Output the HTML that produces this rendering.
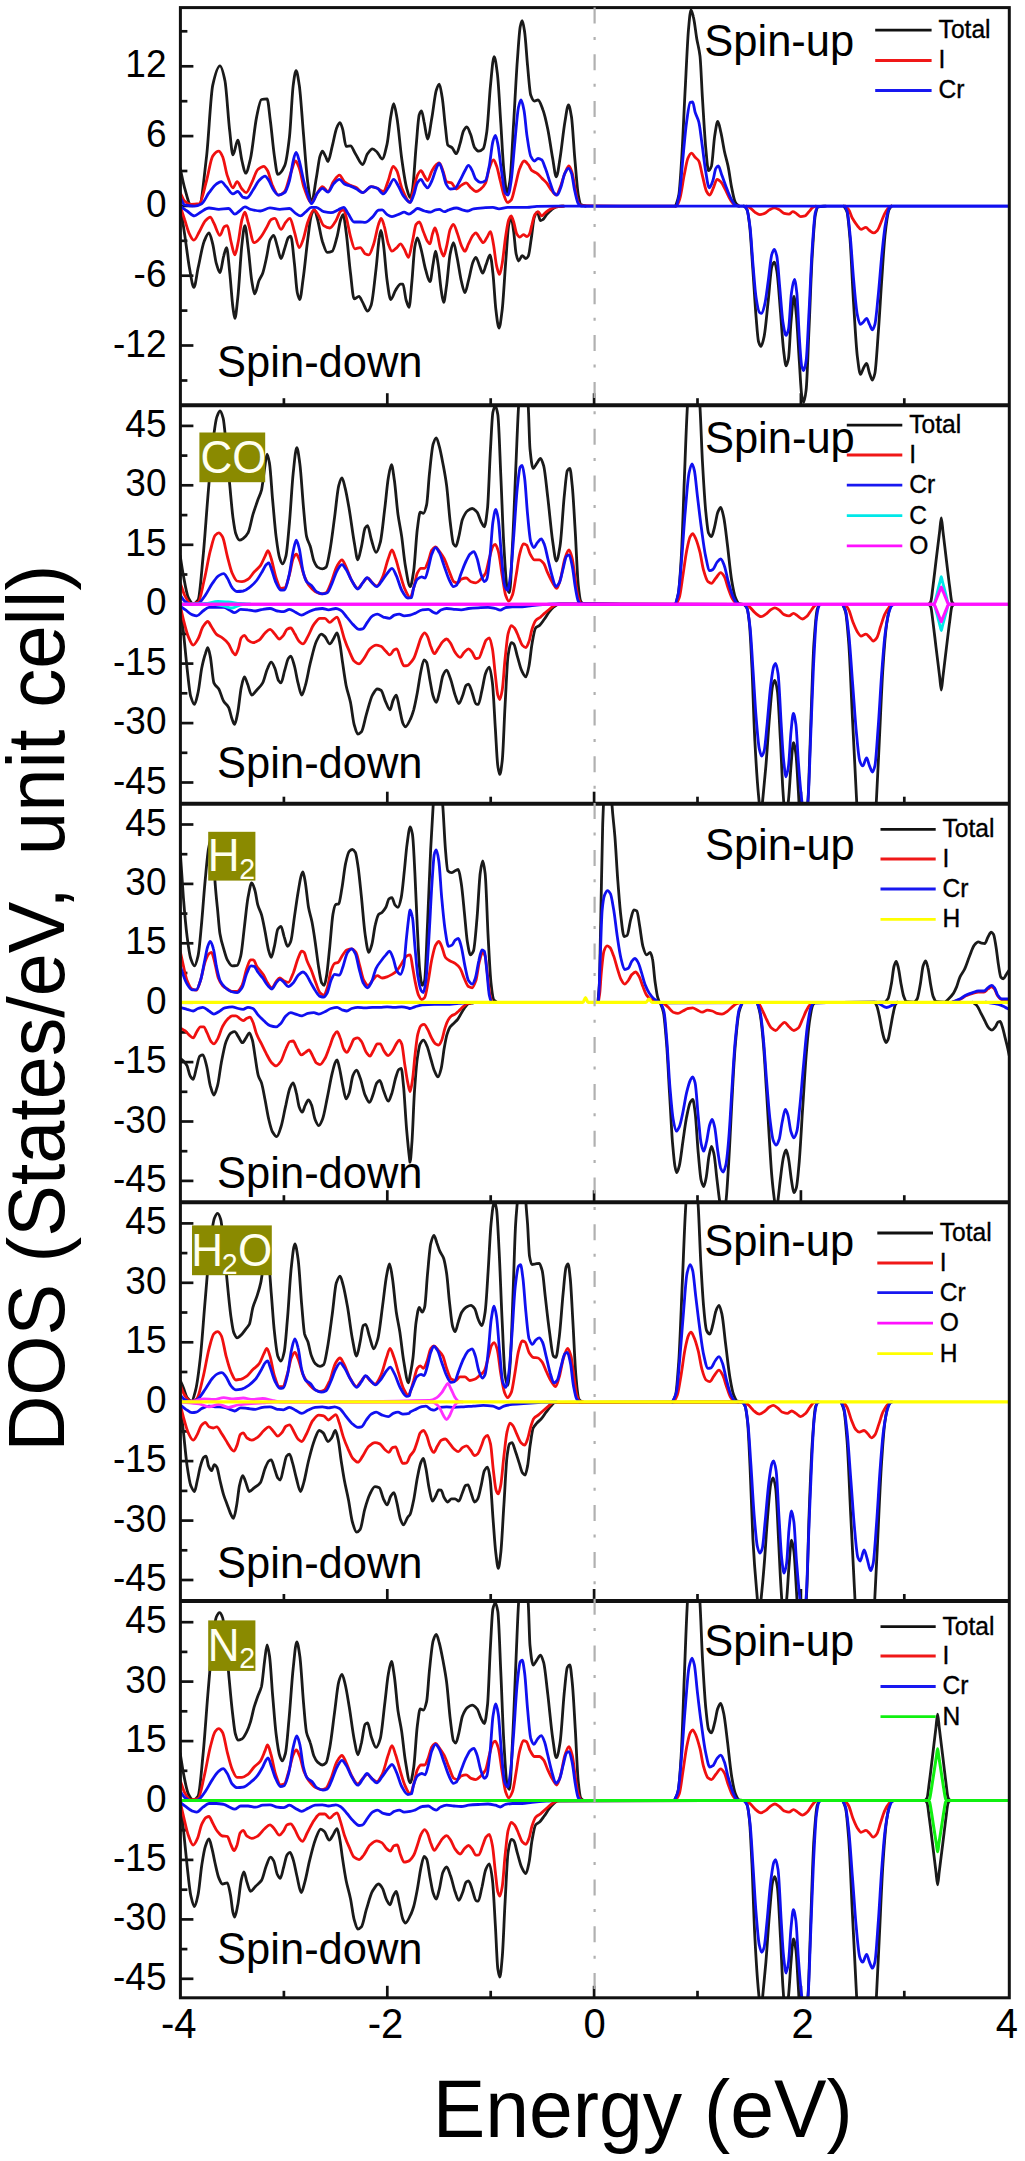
<!DOCTYPE html>
<html><head><meta charset="utf-8"><title>DOS</title>
<style>html,body{margin:0;padding:0;background:#fff}svg{display:block}</style></head>
<body>
<svg width="1025" height="2161" viewBox="0 0 1025 2161" font-family="'Liberation Sans', Arial, sans-serif">
<rect width="1025" height="2161" fill="#fff"/>
<defs>
<clipPath id="c0"><rect x="180.4" y="7.6" width="828.9" height="397.59999999999997"/></clipPath>
<clipPath id="c1"><rect x="180.4" y="405.2" width="828.9" height="398.50000000000006"/></clipPath>
<clipPath id="c2"><rect x="180.4" y="803.7" width="828.9" height="398.5"/></clipPath>
<clipPath id="c3"><rect x="180.4" y="1202.2" width="828.9" height="398.79999999999995"/></clipPath>
<clipPath id="c4"><rect x="180.4" y="1601.0" width="828.9" height="396.79999999999995"/></clipPath>
</defs>
<g stroke="#111" stroke-width="2.7" fill="none">
<line x1="180.4" y1="66.3" x2="193.4" y2="66.3"/>
<line x1="180.4" y1="136.1" x2="193.4" y2="136.1"/>
<line x1="180.4" y1="205.9" x2="193.4" y2="205.9"/>
<line x1="180.4" y1="275.7" x2="193.4" y2="275.7"/>
<line x1="180.4" y1="345.5" x2="193.4" y2="345.5"/>
<line x1="180.4" y1="31.3" x2="187.4" y2="31.3"/>
<line x1="180.4" y1="101.2" x2="187.4" y2="101.2"/>
<line x1="180.4" y1="171.0" x2="187.4" y2="171.0"/>
<line x1="180.4" y1="240.8" x2="187.4" y2="240.8"/>
<line x1="180.4" y1="310.6" x2="187.4" y2="310.6"/>
<line x1="180.4" y1="380.5" x2="187.4" y2="380.5"/>
<line x1="387.3" y1="405.2" x2="387.3" y2="393.2"/>
<line x1="594.1" y1="405.2" x2="594.1" y2="393.2"/>
<line x1="800.9" y1="405.2" x2="800.9" y2="393.2"/>
<line x1="283.9" y1="405.2" x2="283.9" y2="398.2"/>
<line x1="490.7" y1="405.2" x2="490.7" y2="398.2"/>
<line x1="697.5" y1="405.2" x2="697.5" y2="398.2"/>
<line x1="904.3" y1="405.2" x2="904.3" y2="398.2"/>
<line x1="180.4" y1="425.9" x2="193.4" y2="425.9"/>
<line x1="180.4" y1="485.3" x2="193.4" y2="485.3"/>
<line x1="180.4" y1="544.8" x2="193.4" y2="544.8"/>
<line x1="180.4" y1="604.2" x2="193.4" y2="604.2"/>
<line x1="180.4" y1="663.6" x2="193.4" y2="663.6"/>
<line x1="180.4" y1="723.1" x2="193.4" y2="723.1"/>
<line x1="180.4" y1="782.5" x2="193.4" y2="782.5"/>
<line x1="180.4" y1="455.6" x2="187.4" y2="455.6"/>
<line x1="180.4" y1="515.1" x2="187.4" y2="515.1"/>
<line x1="180.4" y1="574.5" x2="187.4" y2="574.5"/>
<line x1="180.4" y1="633.9" x2="187.4" y2="633.9"/>
<line x1="180.4" y1="693.3" x2="187.4" y2="693.3"/>
<line x1="180.4" y1="752.8" x2="187.4" y2="752.8"/>
<line x1="387.3" y1="803.7" x2="387.3" y2="791.7"/>
<line x1="594.1" y1="803.7" x2="594.1" y2="791.7"/>
<line x1="800.9" y1="803.7" x2="800.9" y2="791.7"/>
<line x1="283.9" y1="803.7" x2="283.9" y2="796.7"/>
<line x1="490.7" y1="803.7" x2="490.7" y2="796.7"/>
<line x1="697.5" y1="803.7" x2="697.5" y2="796.7"/>
<line x1="904.3" y1="803.7" x2="904.3" y2="796.7"/>
<line x1="180.4" y1="824.5" x2="193.4" y2="824.5"/>
<line x1="180.4" y1="883.9" x2="193.4" y2="883.9"/>
<line x1="180.4" y1="943.3" x2="193.4" y2="943.3"/>
<line x1="180.4" y1="1002.7" x2="193.4" y2="1002.7"/>
<line x1="180.4" y1="1062.1" x2="193.4" y2="1062.1"/>
<line x1="180.4" y1="1121.5" x2="193.4" y2="1121.5"/>
<line x1="180.4" y1="1180.9" x2="193.4" y2="1180.9"/>
<line x1="180.4" y1="854.2" x2="187.4" y2="854.2"/>
<line x1="180.4" y1="913.6" x2="187.4" y2="913.6"/>
<line x1="180.4" y1="973.0" x2="187.4" y2="973.0"/>
<line x1="180.4" y1="1032.4" x2="187.4" y2="1032.4"/>
<line x1="180.4" y1="1091.8" x2="187.4" y2="1091.8"/>
<line x1="180.4" y1="1151.2" x2="187.4" y2="1151.2"/>
<line x1="387.3" y1="1202.2" x2="387.3" y2="1190.2"/>
<line x1="594.1" y1="1202.2" x2="594.1" y2="1190.2"/>
<line x1="800.9" y1="1202.2" x2="800.9" y2="1190.2"/>
<line x1="283.9" y1="1202.2" x2="283.9" y2="1195.2"/>
<line x1="490.7" y1="1202.2" x2="490.7" y2="1195.2"/>
<line x1="697.5" y1="1202.2" x2="697.5" y2="1195.2"/>
<line x1="904.3" y1="1202.2" x2="904.3" y2="1195.2"/>
<line x1="180.4" y1="1223.4" x2="193.4" y2="1223.4"/>
<line x1="180.4" y1="1282.8" x2="193.4" y2="1282.8"/>
<line x1="180.4" y1="1342.3" x2="193.4" y2="1342.3"/>
<line x1="180.4" y1="1401.7" x2="193.4" y2="1401.7"/>
<line x1="180.4" y1="1461.1" x2="193.4" y2="1461.1"/>
<line x1="180.4" y1="1520.6" x2="193.4" y2="1520.6"/>
<line x1="180.4" y1="1580.0" x2="193.4" y2="1580.0"/>
<line x1="180.4" y1="1253.1" x2="187.4" y2="1253.1"/>
<line x1="180.4" y1="1312.5" x2="187.4" y2="1312.5"/>
<line x1="180.4" y1="1372.0" x2="187.4" y2="1372.0"/>
<line x1="180.4" y1="1431.4" x2="187.4" y2="1431.4"/>
<line x1="180.4" y1="1490.9" x2="187.4" y2="1490.9"/>
<line x1="180.4" y1="1550.3" x2="187.4" y2="1550.3"/>
<line x1="387.3" y1="1601.0" x2="387.3" y2="1589.0"/>
<line x1="594.1" y1="1601.0" x2="594.1" y2="1589.0"/>
<line x1="800.9" y1="1601.0" x2="800.9" y2="1589.0"/>
<line x1="283.9" y1="1601.0" x2="283.9" y2="1594.0"/>
<line x1="490.7" y1="1601.0" x2="490.7" y2="1594.0"/>
<line x1="697.5" y1="1601.0" x2="697.5" y2="1594.0"/>
<line x1="904.3" y1="1601.0" x2="904.3" y2="1594.0"/>
<line x1="180.4" y1="1622.2" x2="193.4" y2="1622.2"/>
<line x1="180.4" y1="1681.6" x2="193.4" y2="1681.6"/>
<line x1="180.4" y1="1741.1" x2="193.4" y2="1741.1"/>
<line x1="180.4" y1="1800.5" x2="193.4" y2="1800.5"/>
<line x1="180.4" y1="1859.9" x2="193.4" y2="1859.9"/>
<line x1="180.4" y1="1919.4" x2="193.4" y2="1919.4"/>
<line x1="180.4" y1="1978.8" x2="193.4" y2="1978.8"/>
<line x1="180.4" y1="1651.9" x2="187.4" y2="1651.9"/>
<line x1="180.4" y1="1711.3" x2="187.4" y2="1711.3"/>
<line x1="180.4" y1="1770.8" x2="187.4" y2="1770.8"/>
<line x1="180.4" y1="1830.2" x2="187.4" y2="1830.2"/>
<line x1="180.4" y1="1889.7" x2="187.4" y2="1889.7"/>
<line x1="180.4" y1="1949.1" x2="187.4" y2="1949.1"/>
<line x1="387.3" y1="1997.8" x2="387.3" y2="1985.8"/>
<line x1="594.1" y1="1997.8" x2="594.1" y2="1985.8"/>
<line x1="800.9" y1="1997.8" x2="800.9" y2="1985.8"/>
<line x1="283.9" y1="1997.8" x2="283.9" y2="1990.8"/>
<line x1="490.7" y1="1997.8" x2="490.7" y2="1990.8"/>
<line x1="697.5" y1="1997.8" x2="697.5" y2="1990.8"/>
<line x1="904.3" y1="1997.8" x2="904.3" y2="1990.8"/>
</g>
<g clip-path="url(#c0)" fill="none" stroke-width="2.8" stroke-linejoin="round" stroke-linecap="round">
<path d="M180.2,168.3C181.7,174.8 183.2,182.8 184.6,187.8C186.7,194.8 188.7,204.4 190.7,204.4C193.6,204.4 196.4,204.4 199.3,204.4C201.7,204.4 204.1,176.8 206.6,156.1C208.6,138.9 210.7,94.4 212.7,85.4C215.1,74.6 217.6,65.9 220.0,65.9C221.6,65.9 223.3,72.9 224.9,80.5C226.5,88.1 228.1,117.9 229.8,131.7C230.8,140.7 231.9,154.9 232.9,154.9C234.6,154.9 236.2,140.2 237.8,140.2C239.2,140.2 240.6,155.5 242.0,161.0C243.2,165.8 244.4,173.2 245.6,173.2C247.2,173.2 248.9,165.2 250.5,158.5C252.5,150.2 254.6,126.5 256.6,117.1C258.2,109.5 259.8,99.9 261.5,99.5C263.3,99.0 265.2,98.8 267.1,98.8C268.2,98.8 269.3,113.3 270.5,122.0C271.8,131.9 273.1,147.5 274.4,156.1C275.5,163.6 276.7,174.4 277.8,174.4C280.1,174.4 282.4,170.7 284.6,165.9C286.3,162.4 287.9,150.5 289.5,136.6C290.7,126.1 292.0,94.2 293.2,85.4C294.1,78.3 295.1,70.7 296.1,70.7C297.2,70.7 298.2,78.5 299.3,85.4C300.7,94.8 302.2,119.9 303.7,136.6C305.0,152.4 306.4,173.0 307.8,182.9C309.0,191.7 310.2,202.4 311.5,202.4C313.1,202.4 314.7,187.0 316.3,178.0C317.6,171.4 318.8,159.6 320.0,156.1C320.8,153.7 321.6,151.2 322.4,151.2C323.4,151.2 324.4,154.3 325.4,156.1C326.3,157.7 327.2,161.5 328.0,161.5C329.4,161.5 330.8,151.6 332.2,146.3C333.8,140.1 335.4,130.1 337.1,126.8C338.0,124.9 339.0,122.7 340.0,122.7C340.9,122.7 341.8,126.4 342.7,129.3C343.8,133.0 345.0,146.3 346.1,146.3C347.6,146.3 349.0,145.9 350.5,145.9C352.1,145.9 353.7,151.1 355.4,153.7C357.8,157.4 360.2,164.6 362.7,164.6C364.3,164.6 365.9,155.9 367.6,153.7C369.2,151.4 370.8,148.8 372.4,148.8C374.1,148.8 375.7,150.9 377.3,152.4C378.9,154.0 380.6,159.0 382.2,159.0C383.8,159.0 385.4,151.1 387.1,143.9C388.3,138.5 389.5,123.9 390.7,117.1C391.7,111.6 392.7,103.7 393.7,103.7C394.7,103.7 395.8,111.2 396.8,117.1C398.5,126.0 400.1,147.1 401.7,158.5C403.3,170.0 405.0,181.9 406.6,187.8C407.8,192.2 409.0,197.6 410.2,197.6C411.0,197.6 411.7,193.9 412.4,190.2C413.7,184.2 414.9,159.6 416.1,146.3C417.2,134.8 418.2,117.5 419.3,114.6C420.0,112.6 420.7,111.0 421.5,111.0C422.4,111.0 423.3,117.9 424.1,122.0C425.3,127.1 426.4,139.0 427.6,139.0C429.0,139.0 430.5,125.1 432.0,117.1C433.4,109.0 434.9,94.6 436.3,90.2C437.3,87.3 438.3,84.1 439.3,84.1C440.2,84.1 441.2,91.6 442.2,97.6C443.3,104.0 444.3,118.1 445.4,126.8C446.2,133.5 447.0,144.2 447.8,145.1C449.2,146.7 450.6,146.4 452.0,147.6C453.4,148.8 454.9,153.7 456.3,153.7C457.6,153.7 458.8,147.7 460.0,143.9C461.2,140.1 462.4,132.6 463.7,130.5C464.7,128.7 465.8,126.8 466.8,126.8C468.0,126.8 469.3,131.1 470.5,134.1C471.9,137.5 473.3,145.6 474.6,147.6C476.0,149.5 477.4,151.2 478.8,151.2C480.2,151.2 481.7,150.3 483.2,148.8C484.4,147.5 485.6,140.0 486.8,131.7C488.0,123.4 489.3,97.2 490.5,85.4C491.7,73.5 492.9,56.6 494.1,56.6C495.2,56.6 496.3,65.1 497.3,73.2C498.5,81.8 499.6,105.1 500.7,122.0C501.8,137.6 502.8,160.6 503.9,170.7C505.0,180.8 506.0,192.7 507.1,192.7C508.0,192.7 509.0,186.8 510.0,180.5C511.2,172.6 512.4,141.9 513.7,122.0C514.9,102.0 516.1,77.6 517.3,61.0C518.3,47.7 519.3,31.5 520.2,26.8C520.9,23.7 521.5,20.7 522.2,20.7C523.0,20.7 523.8,26.5 524.6,31.7C525.6,38.0 526.6,55.8 527.6,65.9C528.6,76.8 529.7,92.1 530.7,95.1C532.0,98.6 533.2,101.2 534.4,101.2C535.6,101.2 536.8,100.0 538.0,100.0C539.7,100.0 541.3,105.4 542.9,109.8C544.6,114.1 546.2,121.5 547.8,129.3C549.4,137.1 551.1,149.7 552.7,158.5C553.9,165.2 555.1,176.8 556.3,176.8C557.6,176.8 558.8,165.8 560.0,158.5C561.6,148.9 563.3,131.2 564.9,122.0C566.1,115.0 567.3,104.9 568.5,104.9C569.5,104.9 570.5,111.0 571.5,117.1C572.5,123.6 573.6,144.0 574.6,156.1C575.9,170.1 577.1,188.5 578.3,195.1C579.1,199.5 579.9,203.8 580.7,204.4C582.4,205.5 584.0,205.5 585.6,206.1 M675.6,206.1C676.7,202.4 677.7,200.9 678.8,195.1C679.8,189.8 680.7,173.4 681.7,158.5C682.9,139.9 684.1,108.2 685.4,85.4C686.4,65.6 687.5,40.7 688.5,29.3C689.3,20.5 690.2,9.8 691.0,9.8C691.8,9.8 692.6,13.8 693.4,17.1C694.6,21.6 695.7,32.4 696.8,39.0C697.9,45.2 698.9,47.3 700.0,56.1C700.8,62.9 701.6,84.4 702.4,97.6C703.5,114.7 704.6,135.0 705.6,146.3C706.6,156.8 707.6,170.7 708.5,170.7C709.5,170.7 710.5,168.6 711.5,165.9C712.5,162.9 713.6,143.2 714.6,136.6C715.7,129.9 716.7,121.5 717.8,121.5C718.8,121.5 719.8,127.6 720.7,131.7C722.0,136.8 723.2,145.6 724.4,151.2C725.6,156.8 726.8,160.0 728.0,165.9C729.3,171.7 730.5,182.0 731.7,187.8C732.9,193.7 734.1,200.5 735.4,202.4C736.6,204.4 737.8,204.9 739.0,206.1" stroke="#1a1a1a"/>
<path d="M180.2,204.9C181.7,214.6 183.2,224.2 184.6,234.1C186.3,245.2 187.9,259.6 189.5,268.3C191.0,276.1 192.4,287.3 193.9,287.3C195.3,287.3 196.7,274.5 198.0,268.3C200.1,259.2 202.1,246.5 204.1,241.5C205.8,237.5 207.4,232.9 209.0,232.9C210.2,232.9 211.5,239.2 212.7,243.9C213.9,248.6 215.1,259.2 216.3,263.4C217.6,267.6 218.8,272.7 220.0,272.7C221.2,272.7 222.4,260.4 223.7,256.1C224.6,252.7 225.6,247.6 226.6,247.6C227.6,247.6 228.7,263.4 229.8,273.2C230.8,282.9 231.9,299.7 232.9,307.3C233.6,312.0 234.2,318.3 234.9,318.3C235.9,318.3 236.8,306.3 237.8,297.6C239.2,285.1 240.6,255.3 242.0,243.9C242.9,235.8 243.9,225.6 244.9,225.6C245.9,225.6 247.0,238.2 248.0,246.3C249.3,255.7 250.5,273.1 251.7,280.5C252.7,286.4 253.7,293.9 254.6,293.9C256.1,293.9 257.6,284.0 259.0,280.5C260.2,277.6 261.5,276.4 262.7,273.2C263.9,269.9 265.1,264.0 266.3,258.5C267.6,253.1 268.8,242.8 270.0,240.2C271.2,237.7 272.4,235.4 273.7,235.4C274.9,235.4 276.1,242.5 277.3,246.3C278.5,250.2 279.8,258.5 281.0,258.5C282.2,258.5 283.4,252.2 284.6,248.8C285.9,245.3 287.1,239.1 288.3,237.8C289.1,236.9 289.9,236.1 290.7,236.1C292.0,236.1 293.2,252.9 294.4,263.4C295.4,271.8 296.3,288.5 297.3,292.7C298.1,296.2 298.9,299.5 299.8,299.5C300.8,299.5 301.9,287.8 302.9,280.5C304.6,269.2 306.2,251.1 307.8,239.0C309.0,230.0 310.2,217.8 311.5,214.6C312.4,212.1 313.4,209.8 314.4,209.8C315.4,209.8 316.5,215.7 317.6,219.5C319.2,225.4 320.8,236.6 322.4,241.5C324.1,246.3 325.7,252.4 327.3,252.4C328.9,252.4 330.6,252.0 332.2,251.2C333.8,250.5 335.4,242.6 337.1,236.6C338.3,232.1 339.5,222.8 340.7,219.5C341.5,217.3 342.4,214.6 343.2,214.6C344.1,214.6 345.1,224.8 346.1,231.7C347.6,242.1 349.0,261.5 350.5,273.2C351.7,282.9 352.9,298.8 354.1,298.8C355.8,298.8 357.4,296.3 359.0,296.3C360.2,296.3 361.5,300.4 362.7,302.4C364.3,305.2 365.9,311.0 367.6,311.0C368.8,311.0 370.0,308.1 371.2,304.9C372.8,300.6 374.5,282.1 376.1,268.3C377.2,259.3 378.2,243.8 379.3,237.8C379.8,234.6 380.4,230.5 381.0,230.5C381.8,230.5 382.6,238.2 383.4,243.9C384.6,252.4 385.9,272.1 387.1,280.5C388.3,288.8 389.5,299.5 390.7,299.5C392.4,299.5 394.0,292.7 395.6,290.2C397.2,287.8 398.9,284.1 400.5,284.1C401.3,284.1 402.1,284.1 402.9,284.1C404.0,284.1 405.0,296.5 406.1,300.0C407.1,303.2 408.0,307.3 409.0,307.3C410.0,307.3 411.0,290.5 412.0,280.5C412.9,270.5 413.9,251.5 414.9,246.3C415.7,242.0 416.5,237.8 417.3,237.8C418.5,237.8 419.8,244.4 421.0,248.8C422.6,254.6 424.2,265.3 425.9,270.7C427.2,275.3 428.6,281.7 430.0,281.7C431.1,281.7 432.1,269.1 433.2,263.4C434.0,259.1 434.8,251.2 435.6,251.2C436.4,251.2 437.2,258.4 438.0,263.4C439.1,270.0 440.2,283.7 441.2,290.2C442.0,295.3 442.8,302.4 443.7,302.4C444.6,302.4 445.6,292.1 446.6,285.4C447.8,276.9 449.0,259.6 450.2,253.7C451.3,248.5 452.4,242.7 453.4,242.7C454.6,242.7 455.7,250.9 456.8,256.1C458.3,262.8 459.8,274.4 461.2,280.5C462.4,285.5 463.7,292.7 464.9,292.7C466.1,292.7 467.3,285.0 468.5,280.5C470.0,275.1 471.5,265.6 472.9,262.2C473.9,259.9 474.9,257.3 475.9,257.3C477.1,257.3 478.3,263.0 479.5,265.9C480.6,268.3 481.6,273.2 482.7,273.2C483.8,273.2 485.0,267.5 486.1,264.6C487.4,261.4 488.7,254.9 490.0,254.9C491.0,254.9 492.0,265.0 492.9,273.2C493.9,281.3 494.9,302.0 495.9,309.8C496.9,318.1 498.0,328.0 499.0,328.0C500.1,328.0 501.1,318.3 502.2,309.8C503.3,300.6 504.5,278.1 505.6,263.4C506.7,249.8 507.7,229.4 508.8,224.4C509.6,220.6 510.4,217.1 511.2,217.1C512.0,217.1 512.8,225.9 513.7,231.7C514.5,237.6 515.3,250.0 516.1,253.7C516.9,257.3 517.7,261.0 518.5,261.0C519.8,261.0 521.0,255.6 522.2,255.6C523.4,255.6 524.6,258.5 525.9,258.5C526.7,258.5 527.5,257.5 528.3,256.1C529.3,254.5 530.2,245.2 531.2,239.0C532.3,232.3 533.3,219.9 534.4,217.1C535.4,214.5 536.3,212.2 537.3,212.2C538.4,212.2 539.4,220.7 540.5,220.7C541.3,220.7 542.1,220.1 542.9,219.5C544.1,218.7 545.4,216.0 546.6,214.6C548.2,212.8 549.8,211.0 551.5,209.8C553.1,208.5 554.7,207.1 556.3,206.8C558.8,206.4 561.2,206.3 563.7,206.1 M743.9,206.1C745.0,207.3 746.0,207.6 747.1,209.8C747.9,211.4 748.7,217.7 749.5,224.4C750.5,232.4 751.5,249.8 752.4,263.4C753.7,280.4 754.9,302.8 756.1,317.1C756.9,326.6 757.7,338.8 758.5,341.5C759.3,344.2 760.2,346.3 761.0,346.3C762.0,346.3 763.1,341.3 764.1,336.6C765.5,330.4 766.9,312.5 768.3,300.0C769.5,288.9 770.7,268.9 772.0,265.9C772.8,263.8 773.6,262.2 774.4,262.2C775.2,262.2 776.0,266.5 776.8,270.7C778.0,277.0 779.3,297.8 780.5,312.2C781.5,324.7 782.6,342.8 783.7,351.2C784.5,357.7 785.3,365.9 786.1,365.9C786.9,365.9 787.7,362.6 788.5,358.5C789.3,354.5 790.2,331.0 791.0,322.0C792.0,311.1 792.9,296.3 793.9,296.3C794.7,296.3 795.5,306.4 796.3,314.6C797.3,324.5 798.3,346.5 799.3,361.0C800.1,373.0 800.9,390.4 801.7,395.1C802.4,398.9 803.0,402.4 803.7,402.4C804.5,402.4 805.3,396.7 806.1,390.2C807.1,382.5 808.0,350.6 809.0,329.3C810.1,306.1 811.1,273.7 812.2,256.1C813.3,238.5 814.3,219.3 815.4,214.6C816.3,210.3 817.3,207.0 818.3,206.8C820.7,206.3 823.2,206.3 825.6,206.1 M843.9,206.1C845.0,208.1 846.0,208.8 847.1,212.2C848.0,215.3 849.0,227.3 850.0,239.0C851.2,253.7 852.4,285.7 853.7,304.9C854.9,324.1 856.1,346.2 857.3,356.1C858.4,364.6 859.4,374.4 860.5,374.4C861.5,374.4 862.4,370.0 863.4,368.3C864.5,366.4 865.5,363.4 866.6,363.4C867.6,363.4 868.5,370.5 869.5,373.2C870.5,375.8 871.5,380.0 872.4,380.0C873.3,380.0 874.1,376.7 874.9,373.2C875.9,368.5 877.0,350.5 878.0,336.6C879.3,320.6 880.5,297.9 881.7,280.5C882.9,263.1 884.1,241.8 885.4,231.7C886.6,221.6 887.8,212.6 889.0,209.8C889.8,207.9 890.7,207.3 891.5,206.1" stroke="#1a1a1a"/>
<path d="M180.2,192.7C181.7,195.5 183.2,200.0 184.6,201.2C186.7,202.9 188.7,204.4 190.7,204.4C193.6,204.4 196.4,204.1 199.3,203.7C201.7,203.2 204.1,189.1 206.6,180.5C208.6,173.3 210.7,158.8 212.7,156.1C214.7,153.4 216.7,151.2 218.8,151.2C220.0,151.2 221.2,153.7 222.4,156.1C224.1,159.3 225.7,171.0 227.3,175.6C229.2,180.9 231.1,187.8 232.9,187.8C234.3,187.8 235.7,181.7 237.1,181.7C238.7,181.7 240.3,187.2 242.0,189.0C243.3,190.5 244.7,192.7 246.1,192.7C248.0,192.7 249.8,186.6 251.7,182.9C253.7,179.0 255.8,171.2 257.8,169.5C259.8,167.8 261.9,166.3 263.9,166.3C265.1,166.3 266.3,168.7 267.6,170.7C269.2,173.5 270.8,181.9 272.4,185.4C274.5,189.7 276.5,195.1 278.5,195.1C280.6,195.1 282.6,193.5 284.6,191.5C286.7,189.4 288.7,178.7 290.7,173.2C292.4,168.8 294.0,161.0 295.6,161.0C296.8,161.0 298.0,165.1 299.3,168.3C300.9,172.6 302.5,183.4 304.1,187.8C306.6,194.5 309.0,202.4 311.5,202.4C313.5,202.4 315.5,195.5 317.6,192.7C319.2,190.4 320.8,186.6 322.4,186.6C324.3,186.6 326.2,191.5 328.0,191.5C329.8,191.5 331.6,184.1 333.4,181.7C335.4,178.9 337.5,175.1 339.5,175.1C341.1,175.1 342.8,180.3 344.4,181.7C346.4,183.4 348.5,184.4 350.5,185.4C352.5,186.3 354.6,186.7 356.6,187.8C358.6,188.9 360.7,192.7 362.7,192.7C365.5,192.7 368.4,186.6 371.2,186.6C373.3,186.6 375.3,187.6 377.3,188.3C379.3,189.0 381.4,191.5 383.4,191.5C385.0,191.5 386.7,184.6 388.3,180.5C389.9,176.4 391.5,166.3 393.2,166.3C394.4,166.3 395.6,168.6 396.8,170.7C398.5,173.6 400.1,183.9 401.7,187.8C404.6,194.6 407.4,202.4 410.2,202.4C411.1,202.4 412.0,196.0 412.9,192.7C414.4,187.2 415.9,178.5 417.3,175.6C418.5,173.2 419.8,170.7 421.0,170.7C422.0,170.7 423.1,174.0 424.1,175.6C425.3,177.3 426.4,180.5 427.6,180.5C429.0,180.5 430.5,173.2 432.0,170.7C433.4,168.2 434.9,165.8 436.3,164.6C437.3,163.9 438.3,162.9 439.3,162.9C440.5,162.9 441.7,167.7 442.9,170.7C444.1,173.8 445.4,181.1 446.6,181.7C448.2,182.5 449.8,182.2 451.5,182.9C453.1,183.6 454.7,189.0 456.3,189.0C458.0,189.0 459.6,186.3 461.2,185.4C462.8,184.4 464.5,182.9 466.1,182.9C467.7,182.9 469.3,186.4 471.0,187.8C472.6,189.2 474.2,191.5 475.9,191.5C477.5,191.5 479.1,190.2 480.7,189.0C482.4,187.9 484.0,186.1 485.6,182.9C486.8,180.5 488.0,171.6 489.3,168.3C490.7,164.5 492.0,159.8 493.4,159.8C494.5,159.8 495.5,163.1 496.6,165.9C497.8,169.0 499.0,175.6 500.2,180.5C501.5,185.4 502.7,191.9 503.9,195.1C505.1,198.4 506.3,202.4 507.6,202.4C508.8,202.4 510.0,201.3 511.2,200.0C512.6,198.5 514.0,190.5 515.4,185.4C516.8,180.0 518.3,171.7 519.8,168.3C521.2,164.9 522.7,161.0 524.1,161.0C525.5,161.0 526.9,163.0 528.3,164.6C529.5,166.1 530.7,169.8 532.0,170.7C533.6,172.0 535.2,172.1 536.8,173.2C538.5,174.3 540.1,176.4 541.7,178.0C543.3,179.7 545.0,181.0 546.6,182.9C548.2,184.9 549.8,188.3 551.5,190.2C553.1,192.2 554.7,195.1 556.3,195.1C557.6,195.1 558.8,190.7 560.0,187.8C561.6,183.9 563.3,176.8 564.9,173.2C566.3,170.1 567.6,165.9 569.0,165.9C570.1,165.9 571.1,169.8 572.2,173.2C573.3,176.6 574.3,185.3 575.4,190.2C576.3,194.8 577.3,200.5 578.3,202.4C579.1,204.0 579.9,205.6 580.7,205.6C612.6,206.1 644.5,206.1 676.3,206.1C677.5,206.1 678.6,202.2 679.8,198.8C681.2,194.4 682.7,182.8 684.1,175.6C685.4,169.6 686.6,161.3 687.8,158.5C689.0,155.8 690.2,153.2 691.5,153.2C692.7,153.2 693.9,156.0 695.1,157.3C696.3,158.6 697.6,159.0 698.8,161.0C700.0,162.9 701.2,170.8 702.4,175.6C703.8,181.0 705.2,189.1 706.6,191.5C707.6,193.3 708.7,195.1 709.8,195.1C711.0,195.1 712.2,190.4 713.4,187.8C714.6,185.2 715.9,179.3 717.1,179.3C718.3,179.3 719.5,180.6 720.7,181.7C722.4,183.2 724.0,187.2 725.6,190.2C727.2,193.3 728.9,197.7 730.5,200.0C732.1,202.3 733.7,204.8 735.4,205.4C736.6,205.8 737.8,205.9 739.0,206.1" stroke="#f01010"/>
<path d="M180.2,206.1C181.7,210.6 183.2,215.1 184.6,219.5C186.3,224.4 187.9,231.1 189.5,234.1C191.0,236.9 192.4,240.2 193.9,240.2C195.7,240.2 197.5,234.7 199.3,231.7C201.3,228.3 203.3,222.9 205.4,220.7C207.0,219.0 208.6,217.1 210.2,217.1C211.5,217.1 212.7,221.0 213.9,223.2C215.9,226.8 218.0,235.4 220.0,235.4C221.4,235.4 222.8,227.7 224.1,226.8C225.2,226.2 226.3,225.6 227.3,225.6C228.5,225.6 229.8,236.8 231.0,241.5C232.3,246.5 233.6,254.9 234.9,254.9C236.0,254.9 237.2,246.9 238.3,241.5C239.5,235.7 240.7,223.8 242.0,219.5C242.9,216.1 243.9,212.2 244.9,212.2C245.9,212.2 247.0,218.6 248.0,222.0C250.1,228.5 252.1,242.7 254.1,242.7C256.2,242.7 258.2,240.0 260.2,237.8C262.3,235.6 264.3,231.5 266.3,228.0C268.0,225.3 269.6,220.4 271.2,219.5C272.4,218.9 273.7,218.3 274.9,218.3C276.9,218.3 278.9,229.3 281.0,229.3C282.6,229.3 284.2,223.7 285.9,222.0C287.2,220.4 288.6,218.3 290.0,218.3C291.5,218.3 292.9,227.1 294.4,231.7C296.0,236.8 297.6,247.6 299.3,247.6C300.5,247.6 301.7,243.4 302.9,240.2C304.6,236.1 306.2,226.2 307.8,222.0C309.8,216.6 311.9,209.8 313.9,209.8C315.5,209.8 317.2,213.4 318.8,215.9C320.4,218.4 322.0,224.5 323.7,225.6C325.7,227.0 327.7,228.0 329.8,228.0C331.8,228.0 333.8,223.8 335.9,220.7C337.5,218.3 339.1,212.0 340.7,211.0C341.7,210.3 342.7,209.8 343.7,209.8C344.7,209.8 345.8,215.6 346.8,219.5C348.0,224.0 349.3,232.3 350.5,236.6C352.0,241.7 353.4,248.8 354.9,248.8C356.7,248.8 358.5,247.6 360.2,247.6C361.9,247.6 363.5,252.8 365.1,253.7C366.3,254.3 367.6,254.9 368.8,254.9C370.4,254.9 372.0,248.6 373.7,243.9C375.3,239.2 376.9,229.0 378.5,224.4C379.4,221.9 380.3,218.3 381.2,218.3C382.2,218.3 383.2,222.5 384.1,225.6C385.5,230.0 386.9,240.1 388.3,243.9C389.5,247.2 390.7,251.2 392.0,251.2C393.6,251.2 395.2,249.0 396.8,247.6C398.0,246.5 399.3,243.9 400.5,243.9C401.7,243.9 402.9,246.9 404.1,248.8C405.6,251.1 407.1,257.3 408.5,257.3C409.8,257.3 411.1,247.1 412.4,241.5C413.7,236.2 414.9,226.0 416.1,224.4C417.2,223.0 418.2,222.0 419.3,222.0C420.7,222.0 422.0,228.5 423.4,231.7C424.8,235.0 426.2,239.6 427.6,241.5C428.4,242.6 429.2,243.9 430.0,243.9C430.8,243.9 431.6,236.6 432.4,234.1C433.3,231.6 434.1,228.0 434.9,228.0C435.7,228.0 436.5,231.5 437.3,234.1C438.4,237.5 439.4,245.5 440.5,248.8C441.5,252.0 442.6,256.1 443.7,256.1C444.6,256.1 445.6,250.1 446.6,246.3C447.8,241.6 449.0,232.1 450.2,229.3C451.3,226.9 452.4,224.4 453.4,224.4C454.8,224.4 456.2,230.5 457.6,234.1C458.9,237.8 460.3,243.6 461.7,246.3C462.8,248.4 463.8,251.2 464.9,251.2C466.1,251.2 467.3,246.3 468.5,243.9C470.0,241.0 471.5,237.0 472.9,235.4C473.9,234.3 474.9,232.9 475.9,232.9C477.1,232.9 478.3,236.2 479.5,237.8C480.7,239.4 482.0,242.7 483.2,242.7C484.4,242.7 485.6,239.6 486.8,237.8C488.0,236.0 489.3,231.7 490.5,231.7C491.5,231.7 492.4,238.8 493.4,243.9C494.5,249.4 495.5,261.5 496.6,265.9C497.6,269.8 498.5,274.4 499.5,274.4C500.4,274.4 501.3,268.2 502.2,263.4C503.3,257.4 504.5,243.8 505.6,236.6C506.7,229.8 507.7,221.9 508.8,219.5C509.6,217.7 510.4,215.9 511.2,215.9C512.0,215.9 512.8,219.5 513.7,222.0C514.7,225.1 515.8,232.5 516.8,234.1C517.8,235.7 518.8,237.1 519.8,237.1C521.0,237.1 522.2,234.6 523.4,234.6C524.6,234.6 525.9,236.6 527.1,236.6C527.9,236.6 528.7,235.4 529.5,234.1C530.3,232.8 531.1,227.4 532.0,224.4C532.9,220.8 533.9,216.1 534.9,214.6C535.9,213.1 537.0,211.7 538.0,211.7C539.3,211.7 540.5,215.9 541.7,215.9C542.9,215.9 544.1,213.6 545.4,212.7C547.0,211.4 548.6,210.1 550.2,209.3C552.3,208.2 554.3,207.2 556.3,206.8C558.8,206.4 561.2,206.3 563.7,206.1 M746.3,206.1C747.6,206.7 748.8,207.1 750.0,207.8C751.6,208.8 753.3,211.1 754.9,212.2C756.5,213.2 758.1,214.6 759.8,214.6C761.4,214.6 763.0,214.0 764.6,213.4C766.3,212.8 767.9,210.6 769.5,209.8C771.1,208.9 772.8,207.8 774.4,207.8C776.0,207.8 777.6,208.9 779.3,209.8C780.9,210.6 782.5,213.0 784.1,213.4C785.8,213.8 787.4,214.1 789.0,214.1C790.2,214.1 791.5,211.7 792.7,211.7C793.9,211.7 795.1,212.7 796.3,213.4C797.8,214.2 799.3,216.6 800.7,216.6C802.1,216.6 803.5,216.3 804.9,215.9C806.1,215.5 807.3,213.5 808.5,212.2C810.0,210.7 811.5,208.2 812.9,207.3C813.9,206.7 814.9,206.5 815.9,206.1 M845.1,206.1C846.3,207.3 847.6,208.0 848.8,209.8C850.0,211.5 851.2,216.0 852.4,218.3C854.1,221.3 855.7,223.7 857.3,225.6C858.5,227.1 859.8,229.3 861.0,229.3C862.6,229.3 864.2,227.3 865.9,227.3C867.1,227.3 868.3,229.7 869.5,230.5C871.0,231.5 872.4,232.9 873.9,232.9C875.0,232.9 876.2,231.7 877.3,230.5C878.6,229.1 879.9,224.9 881.2,222.0C882.6,218.8 884.0,214.5 885.4,212.2C886.6,210.1 887.8,208.2 889.0,207.3C889.8,206.7 890.7,206.5 891.5,206.1" stroke="#f01010"/>
<path d="M180.2,197.6C181.7,200.0 183.2,204.5 184.6,204.9C187.9,205.7 191.1,206.1 194.4,206.1C196.8,206.1 199.3,205.0 201.7,203.7C204.1,202.3 206.6,195.9 209.0,192.7C211.5,189.5 213.9,185.8 216.3,184.1C218.0,183.0 219.6,181.7 221.2,181.7C222.8,181.7 224.5,184.9 226.1,186.6C228.4,188.9 230.7,193.9 232.9,193.9C234.6,193.9 236.2,191.5 237.8,191.5C239.4,191.5 241.1,196.4 242.7,197.1C244.1,197.6 245.4,198.0 246.8,198.0C248.9,198.0 250.9,193.1 252.9,190.2C255.0,187.4 257.0,182.5 259.0,180.5C261.1,178.5 263.1,176.1 265.1,176.1C266.3,176.1 267.6,178.7 268.8,180.5C270.4,182.9 272.0,188.1 273.7,190.2C275.3,192.4 276.9,195.1 278.5,195.1C280.6,195.1 282.6,194.1 284.6,192.7C286.3,191.5 287.9,186.1 289.5,180.5C290.7,176.3 292.0,165.5 293.2,161.0C294.1,157.3 295.1,152.4 296.1,152.4C297.2,152.4 298.2,157.5 299.3,161.0C300.7,165.8 302.2,174.7 303.7,180.5C305.0,185.9 306.4,191.3 307.8,195.1C309.0,198.5 310.2,203.7 311.5,203.7C313.5,203.7 315.5,195.1 317.6,192.7C319.2,190.8 320.8,188.3 322.4,188.3C324.3,188.3 326.2,192.2 328.0,192.2C329.8,192.2 331.6,186.0 333.4,184.1C335.4,182.0 337.5,179.3 339.5,179.3C341.1,179.3 342.8,183.3 344.4,184.1C346.4,185.2 348.5,185.3 350.5,186.1C352.5,186.9 354.6,187.9 356.6,189.0C358.6,190.1 360.7,192.7 362.7,192.7C365.5,192.7 368.4,186.6 371.2,186.6C373.3,186.6 375.3,187.4 377.3,188.3C379.3,189.2 381.4,193.9 383.4,193.9C385.0,193.9 386.7,190.1 388.3,187.8C390.1,185.3 391.9,179.3 393.7,179.3C395.1,179.3 396.6,183.0 398.0,185.4C399.7,188.0 401.3,192.9 402.9,195.1C405.4,198.4 407.8,202.4 410.2,202.4C411.4,202.4 412.5,198.1 413.7,195.1C414.9,191.9 416.1,184.8 417.3,182.9C418.5,181.1 419.8,179.3 421.0,179.3C422.0,179.3 423.1,182.8 424.1,184.1C425.3,185.6 426.4,187.8 427.6,187.8C429.0,187.8 430.5,183.5 432.0,180.5C433.4,177.4 434.9,171.3 436.3,168.3C437.3,166.3 438.3,163.4 439.3,163.4C440.3,163.4 441.4,167.8 442.4,170.7C443.7,174.2 444.9,182.0 446.1,184.1C447.5,186.6 448.9,189.0 450.2,189.0C451.9,189.0 453.5,188.7 455.1,188.3C456.7,187.8 458.4,183.4 460.0,180.5C461.6,177.6 463.3,173.5 464.9,170.7C466.1,168.7 467.3,165.4 468.5,165.4C469.8,165.4 471.0,168.5 472.2,170.7C473.4,172.9 474.6,178.0 475.9,179.3C477.5,181.0 479.1,182.4 480.7,182.4C482.4,182.4 484.0,181.7 485.6,180.5C486.8,179.6 488.0,172.0 489.3,165.9C490.5,159.8 491.7,145.8 492.9,141.5C493.7,138.6 494.6,135.4 495.4,135.4C496.2,135.4 497.0,140.1 497.8,143.9C499.0,149.5 500.2,162.7 501.5,170.7C502.7,178.8 503.9,190.9 505.1,192.7C506.1,194.1 507.1,195.1 508.0,195.1C509.1,195.1 510.2,187.2 511.2,180.5C512.4,172.7 513.7,153.6 514.9,141.5C516.1,129.3 517.3,112.7 518.5,107.3C519.3,103.7 520.2,100.0 521.0,100.0C522.0,100.0 522.9,105.1 523.9,109.8C525.0,114.8 526.0,129.6 527.1,136.6C528.3,144.6 529.5,153.5 530.7,156.1C532.0,158.7 533.2,161.0 534.4,161.0C535.6,161.0 536.8,158.5 538.0,158.5C539.3,158.5 540.5,159.0 541.7,159.8C542.9,160.5 544.1,165.1 545.4,168.3C547.0,172.5 548.6,178.3 550.2,182.9C551.5,186.4 552.7,191.2 553.9,192.7C555.0,193.9 556.0,195.1 557.1,195.1C558.3,195.1 559.5,190.9 560.7,187.8C562.1,184.3 563.5,175.8 564.9,173.2C566.1,170.8 567.3,168.3 568.5,168.3C569.5,168.3 570.5,170.7 571.5,173.2C572.5,175.8 573.6,185.6 574.6,190.2C575.9,195.6 577.1,202.0 578.3,203.7C579.3,205.0 580.2,206.1 581.2,206.1C612.7,206.1 644.1,206.1 675.6,206.1C676.8,206.1 678.0,200.8 679.3,195.1C680.5,189.5 681.7,170.7 682.9,158.5C684.1,146.3 685.4,130.4 686.6,122.0C687.8,113.5 689.0,102.9 690.2,102.4C691.1,102.1 691.9,102.0 692.7,102.0C693.5,102.0 694.3,109.5 695.1,112.2C696.3,116.2 697.6,117.2 698.8,122.0C699.8,125.7 700.7,134.6 701.7,141.5C703.0,150.6 704.3,163.3 705.6,170.7C706.8,177.7 708.0,187.8 709.3,187.8C710.5,187.8 711.7,183.8 712.9,180.5C713.9,177.8 714.9,169.8 715.9,168.3C716.7,167.0 717.5,165.9 718.3,165.9C719.5,165.9 720.7,172.4 722.0,175.6C723.2,178.9 724.4,182.2 725.6,185.4C727.2,189.6 728.9,194.5 730.5,197.6C732.1,200.6 733.7,204.0 735.4,204.9C736.6,205.5 737.8,206.1 739.0,206.1C829.7,206.1 920.3,206.1 1011.0,206.1" stroke="#1010f0"/>
<path d="M180.2,206.1C182.5,207.7 184.8,209.4 187.1,211.0C189.5,212.7 192.0,215.9 194.4,215.9C196.4,215.9 198.5,213.3 200.5,212.2C203.3,210.7 206.2,208.0 209.0,208.0C212.3,208.0 215.5,209.3 218.8,209.3C222.0,209.3 225.3,208.5 228.5,208.5C230.7,208.5 232.8,214.1 234.9,214.1C236.4,214.1 238.0,212.1 239.5,211.0C241.3,209.7 243.1,206.8 244.9,206.8C246.7,206.8 248.6,208.8 250.5,209.3C253.7,210.1 257.0,211.0 260.2,211.0C263.5,211.0 266.7,207.8 270.0,207.8C273.3,207.8 276.5,209.3 279.8,209.3C283.0,209.3 286.3,208.5 289.5,208.5C291.5,208.5 293.6,212.2 295.6,213.4C297.2,214.4 298.9,215.9 300.5,215.9C302.1,215.9 303.7,213.5 305.4,212.2C307.4,210.6 309.4,207.3 311.5,207.3C313.1,207.3 314.7,207.3 316.3,207.3C318.8,207.3 321.2,211.2 323.7,211.7C326.1,212.2 328.5,212.7 331.0,212.7C333.4,212.7 335.9,210.8 338.3,209.8C340.1,209.0 341.9,207.3 343.7,207.3C345.1,207.3 346.6,211.4 348.0,213.4C350.1,216.2 352.1,222.0 354.1,222.0C356.2,222.0 358.2,222.0 360.2,222.0C361.9,222.0 363.5,222.4 365.1,222.4C367.6,222.4 370.0,219.2 372.4,217.1C374.5,215.3 376.5,210.7 378.5,210.2C379.8,210.0 381.0,209.8 382.2,209.8C383.8,209.8 385.4,213.7 387.1,214.6C388.7,215.6 390.3,216.6 392.0,216.6C394.4,216.6 396.8,215.0 399.3,214.1C400.9,213.6 402.5,212.2 404.1,212.2C405.8,212.2 407.4,214.1 409.0,214.1C410.7,214.1 412.3,212.1 413.9,211.0C415.0,210.2 416.2,208.5 417.3,208.5C419.8,208.5 422.2,210.4 424.6,211.0C426.7,211.5 428.7,212.2 430.7,212.2C432.4,212.2 434.0,210.1 435.6,209.8C436.8,209.5 438.0,209.3 439.3,209.3C440.9,209.3 442.5,211.7 444.1,211.7C445.8,211.7 447.4,210.2 449.0,209.8C451.5,209.0 453.9,208.0 456.3,208.0C458.4,208.0 460.4,209.2 462.4,209.8C464.1,210.2 465.7,211.0 467.3,211.0C469.3,211.0 471.4,209.1 473.4,208.8C476.7,208.2 479.9,208.0 483.2,207.8C486.4,207.6 489.7,207.3 492.9,207.3C495.0,207.3 497.0,208.8 499.0,208.8C501.9,208.8 504.7,207.3 507.6,207.3C511.6,207.3 515.7,207.3 519.8,207.3C522.2,207.3 524.6,207.3 527.1,207.3C530.3,207.3 533.6,206.4 536.8,206.3C543.3,206.2 549.8,206.1 556.3,206.1C618.9,206.1 681.4,206.1 743.9,206.1C745.0,206.1 746.0,207.7 747.1,209.8C748.0,211.7 749.0,219.1 750.0,226.8C751.0,234.6 752.0,252.1 752.9,263.4C754.0,275.7 755.0,290.7 756.1,297.6C757.2,304.4 758.2,311.3 759.3,312.2C760.1,312.9 760.9,313.4 761.7,313.4C762.7,313.4 763.7,308.8 764.6,304.9C765.9,300.0 767.1,289.0 768.3,280.5C769.5,272.0 770.7,257.0 772.0,253.7C772.8,251.4 773.6,249.3 774.4,249.3C775.2,249.3 776.0,252.5 776.8,256.1C777.8,260.4 778.8,277.3 779.8,287.8C780.8,299.2 781.9,315.5 782.9,322.0C784.0,328.4 785.0,335.4 786.1,335.4C786.9,335.4 787.7,332.6 788.5,329.3C789.5,325.3 790.5,299.2 791.5,292.7C792.4,286.1 793.4,279.3 794.4,279.3C795.2,279.3 796.0,285.8 796.8,292.7C797.6,299.5 798.5,324.9 799.3,336.6C800.1,348.3 800.9,362.6 801.7,365.9C802.4,368.5 803.0,370.7 803.7,370.7C804.5,370.7 805.3,366.1 806.1,361.0C807.1,354.8 808.0,329.9 809.0,312.2C810.1,293.0 811.1,264.2 812.2,248.8C813.3,233.3 814.3,215.6 815.4,212.2C816.3,209.0 817.3,206.7 818.3,206.6C820.7,206.2 823.2,206.1 825.6,206.1C831.7,206.1 837.8,206.1 843.9,206.1C845.0,206.1 846.0,208.3 847.1,211.0C848.2,213.9 849.3,227.5 850.5,239.0C851.5,249.7 852.6,268.9 853.7,280.5C854.9,293.8 856.1,308.7 857.3,314.6C858.3,319.3 859.3,324.4 860.2,324.4C861.3,324.4 862.4,322.9 863.4,322.0C864.5,321.0 865.5,318.3 866.6,318.3C867.6,318.3 868.5,322.5 869.5,324.4C870.5,326.3 871.5,329.8 872.4,329.8C873.3,329.8 874.1,327.2 874.9,324.4C875.9,320.8 877.0,307.8 878.0,297.6C879.3,285.8 880.5,268.1 881.7,256.1C882.9,244.1 884.1,231.4 885.4,224.4C886.6,217.3 887.8,210.4 889.0,208.5C889.8,207.3 890.7,206.1 891.5,206.1C931.3,206.1 971.1,206.1 1011.0,206.1" stroke="#1010f0"/>
</g>
<g clip-path="url(#c1)" fill="none" stroke-width="2.8" stroke-linejoin="round" stroke-linecap="round">
<path d="M180.2,556.1C181.3,562.6 182.4,570.1 183.4,575.6C185.0,584.2 186.7,594.4 188.3,597.6C189.9,600.7 191.5,603.7 193.2,603.7C194.8,603.7 196.4,602.2 198.0,600.0C199.7,597.8 201.3,575.0 202.9,558.5C204.6,542.1 206.2,516.6 207.8,497.6C209.4,478.5 211.1,457.1 212.7,443.9C214.1,432.7 215.4,421.1 216.8,417.1C217.9,414.0 218.9,411.0 220.0,411.0C221.1,411.0 222.1,414.4 223.2,418.3C224.1,421.9 225.1,434.3 226.1,443.9C227.3,455.9 228.5,472.4 229.8,485.4C230.8,496.6 231.9,509.3 232.9,517.1C233.9,524.2 234.9,531.6 235.9,534.1C237.1,537.4 238.3,540.2 239.5,540.2C240.7,540.2 242.0,539.3 243.2,538.5C244.8,537.5 246.4,535.8 248.0,532.9C249.7,530.1 251.3,520.1 252.9,514.6C254.6,509.2 256.2,504.6 257.8,500.0C259.0,496.6 260.2,495.0 261.5,490.2C262.5,486.1 263.6,474.9 264.6,468.3C265.4,463.2 266.3,454.1 267.1,454.1C267.9,454.1 268.7,458.8 269.5,463.4C270.5,468.9 271.5,486.7 272.4,497.6C273.7,511.2 274.9,527.2 276.1,536.6C277.3,546.0 278.5,555.2 279.8,558.5C280.7,561.2 281.7,563.9 282.7,563.9C283.7,563.9 284.8,560.2 285.9,556.1C287.1,551.4 288.3,535.3 289.5,522.0C290.7,508.6 292.0,484.4 293.2,473.2C294.4,462.0 295.6,447.6 296.8,447.6C297.8,447.6 298.8,456.3 299.8,463.4C301.1,472.9 302.4,496.4 303.7,509.8C304.6,519.8 305.6,532.5 306.6,536.6C307.8,541.7 309.0,542.4 310.2,546.3C311.5,550.2 312.7,558.1 313.9,561.0C315.1,563.8 316.3,566.3 317.6,567.1C319.2,568.0 320.8,568.8 322.4,568.8C323.7,568.8 324.9,568.1 326.1,567.1C327.3,566.0 328.5,557.7 329.8,551.2C331.4,542.6 333.0,529.0 334.6,517.1C336.0,507.0 337.4,490.2 338.8,485.4C339.8,481.7 340.9,478.0 342.0,478.0C343.0,478.0 344.1,483.7 345.1,487.8C346.5,493.1 347.9,501.7 349.3,509.8C350.9,519.2 352.5,532.3 354.1,541.5C355.4,548.3 356.6,559.8 357.8,559.8C359.0,559.8 360.2,551.5 361.5,546.3C362.7,541.2 363.9,530.0 365.1,528.0C365.9,526.8 366.7,525.6 367.6,525.6C368.8,525.6 370.0,535.2 371.2,539.0C372.8,544.2 374.5,552.4 376.1,552.4C377.5,552.4 378.9,547.6 380.2,542.7C381.7,537.5 383.2,521.5 384.6,509.8C385.9,499.9 387.1,484.9 388.3,478.0C389.3,472.1 390.4,464.6 391.5,464.6C392.4,464.6 393.4,473.9 394.4,480.5C395.6,488.8 396.8,505.7 398.0,514.6C399.3,523.5 400.5,528.2 401.7,536.6C402.9,544.9 404.1,559.0 405.4,565.9C407.0,575.0 408.6,586.6 410.2,586.6C411.4,586.6 412.5,578.2 413.7,570.7C414.9,562.7 416.1,538.6 417.3,529.3C418.3,521.8 419.3,512.2 420.2,512.2C421.3,512.2 422.4,513.4 423.4,513.4C424.5,513.4 425.5,509.5 426.6,504.9C427.6,500.6 428.5,482.2 429.5,473.2C430.7,461.9 432.0,447.6 433.2,443.9C434.2,440.7 435.3,437.8 436.3,437.8C437.3,437.8 438.3,442.9 439.3,446.3C440.5,450.7 441.7,457.0 442.9,463.4C444.1,469.8 445.4,476.2 446.6,485.4C447.8,494.5 449.0,512.0 450.2,522.0C451.3,530.6 452.4,542.1 453.4,543.9C454.2,545.3 455.0,546.3 455.9,546.3C456.8,546.3 457.8,540.4 458.8,536.6C460.0,531.9 461.2,522.7 462.4,519.5C464.1,515.3 465.7,512.2 467.3,511.0C468.9,509.7 470.6,508.5 472.2,508.5C473.8,508.5 475.4,510.3 477.1,512.2C478.5,513.8 479.8,519.4 481.2,522.0C482.3,523.9 483.3,526.8 484.4,526.8C485.4,526.8 486.5,517.3 487.6,507.3C488.5,498.1 489.5,465.4 490.5,448.8C491.3,434.9 492.1,415.7 492.9,412.2C493.7,408.7 494.6,406.1 495.4,406.1C496.2,406.1 497.0,409.9 497.8,414.6C498.8,420.3 499.8,452.3 500.7,473.2C501.8,495.8 502.8,528.7 503.9,546.3C505.0,564.0 506.0,584.3 507.1,587.8C507.9,590.5 508.7,592.7 509.5,592.7C510.5,592.7 511.5,564.6 512.4,546.3C513.7,523.5 514.9,488.5 516.1,461.0C516.9,442.6 517.7,420.6 518.5,407.3C519.3,394.0 520.2,382.3 521.0,375.6C521.8,368.9 522.6,361.0 523.4,361.0C524.2,361.0 525.0,368.9 525.9,375.6C526.7,382.3 527.5,393.3 528.3,407.3C528.9,417.1 529.4,442.8 530.0,448.8C531.1,459.8 532.1,468.3 533.2,468.3C534.4,468.3 535.6,465.0 536.8,463.4C538.0,461.8 539.3,458.5 540.5,458.5C541.5,458.5 542.6,462.2 543.7,465.9C545.0,470.6 546.4,486.2 547.8,497.6C549.4,511.0 551.1,530.7 552.7,541.5C553.9,549.5 555.1,561.0 556.3,561.0C557.6,561.0 558.8,553.5 560.0,546.3C561.4,538.2 562.8,511.1 564.1,497.6C565.2,487.2 566.3,472.6 567.3,470.7C568.1,469.3 568.9,468.3 569.8,468.3C570.6,468.3 571.4,477.7 572.2,485.4C573.3,495.4 574.3,516.8 575.4,534.1C576.3,550.1 577.3,576.2 578.3,585.4C579.1,593.0 579.9,599.9 580.7,601.2C581.7,602.8 582.7,603.9 583.7,603.9C613.9,604.4 644.1,604.4 674.4,604.4C675.6,604.4 676.8,600.3 678.0,595.1C679.1,590.7 680.2,575.3 681.2,558.5C682.2,543.1 683.2,509.8 684.1,485.4C685.1,461.0 686.1,430.8 687.1,412.2C688.1,392.0 689.2,373.3 690.2,363.4C691.5,352.0 692.7,339.0 693.9,339.0C695.1,339.0 696.3,361.7 697.6,375.6C698.4,384.9 699.2,394.0 700.0,407.3C700.8,420.6 701.6,446.1 702.4,461.0C703.5,480.3 704.6,498.8 705.6,509.8C706.6,519.9 707.6,530.8 708.5,532.9C709.5,535.0 710.5,536.6 711.5,536.6C712.5,536.6 713.6,530.7 714.6,526.8C715.7,522.9 716.7,514.8 717.8,512.2C718.8,509.8 719.8,507.3 720.7,507.3C721.7,507.3 722.7,512.7 723.7,517.1C725.0,523.0 726.3,536.1 727.6,546.3C728.9,557.2 730.3,572.3 731.7,580.5C732.9,587.7 734.1,594.6 735.4,597.6C736.6,600.6 737.8,603.3 739.0,603.7C740.7,604.1 742.3,604.1 743.9,604.4 M928.8,604.3C929.5,603.4 930.1,603.2 930.8,601.7C931.5,600.2 932.2,592.3 932.9,587.0C933.9,579.2 935.0,569.6 936.0,561.0C937.2,550.8 938.5,540.8 939.7,530.8C940.2,526.5 940.8,517.8 941.3,517.8C941.8,517.8 942.4,526.4 942.9,530.8C944.1,540.7 945.3,551.1 946.5,561.0C947.6,569.8 948.6,579.0 949.7,587.0C950.4,592.2 951.1,600.2 951.8,601.7C952.5,603.2 953.1,603.4 953.8,604.3" stroke="#1a1a1a"/>
<path d="M180.2,604.9C181.3,613.8 182.4,622.0 183.4,631.7C184.6,642.9 185.9,657.7 187.1,668.3C188.3,678.9 189.5,692.2 190.7,696.3C192.0,700.5 193.2,704.4 194.4,704.4C195.6,704.4 196.8,698.0 198.0,692.7C199.3,687.4 200.5,674.4 201.7,668.3C202.9,662.2 204.1,657.4 205.4,653.7C206.2,651.2 207.0,647.6 207.8,647.6C208.6,647.6 209.4,652.3 210.2,656.1C211.5,661.7 212.7,680.2 213.9,682.9C215.5,686.5 217.2,686.3 218.8,689.0C220.4,691.7 222.0,698.5 223.7,701.2C225.3,703.9 226.9,704.3 228.5,707.3C229.8,709.6 231.0,716.5 232.2,719.5C233.0,721.5 233.8,724.4 234.6,724.4C235.7,724.4 236.7,717.5 237.8,712.2C238.9,706.5 240.1,693.1 241.2,687.8C242.3,682.9 243.3,676.8 244.4,676.8C245.4,676.8 246.5,681.5 247.6,684.1C248.9,687.5 250.3,695.1 251.7,695.1C253.3,695.1 255.0,692.0 256.6,690.2C258.6,688.0 260.7,686.5 262.7,682.9C264.3,680.1 265.9,671.7 267.6,668.3C268.8,665.7 270.0,662.2 271.2,662.2C272.4,662.2 273.7,665.6 274.9,668.3C276.1,671.0 277.3,678.7 278.5,680.5C279.3,681.7 280.2,682.9 281.0,682.9C282.2,682.9 283.4,674.8 284.6,670.7C285.9,666.7 287.1,660.3 288.3,658.5C289.1,657.3 289.9,656.1 290.7,656.1C292.0,656.1 293.2,661.7 294.4,665.9C295.6,670.0 296.8,678.2 298.0,682.9C299.3,687.7 300.5,695.1 301.7,695.1C302.9,695.1 304.1,689.4 305.4,685.4C307.0,680.0 308.6,669.9 310.2,663.4C312.3,655.3 314.3,645.7 316.3,641.5C318.0,638.1 319.6,634.1 321.2,634.1C322.4,634.1 323.7,635.5 324.9,636.6C326.5,638.1 328.1,643.9 329.8,643.9C331.0,643.9 332.2,640.8 333.4,639.0C334.6,637.2 335.9,632.9 337.1,632.9C337.9,632.9 338.7,637.7 339.5,641.5C340.6,646.3 341.6,656.4 342.7,663.4C343.8,671.0 345.0,679.8 346.1,685.4C347.6,692.5 349.0,695.5 350.5,702.4C351.7,708.2 352.9,719.9 354.1,724.4C355.4,728.9 356.6,734.1 357.8,734.1C359.0,734.1 360.2,733.0 361.5,731.7C363.1,729.9 364.7,720.1 366.3,714.6C368.4,707.8 370.4,698.7 372.4,695.1C374.1,692.2 375.7,689.0 377.3,689.0C378.5,689.0 379.8,689.6 381.0,690.2C382.6,691.2 384.2,699.1 385.9,702.4C387.2,705.3 388.6,709.8 390.0,709.8C391.1,709.8 392.1,702.2 393.2,700.0C394.2,697.8 395.3,695.1 396.3,695.1C397.3,695.1 398.3,703.2 399.3,707.3C400.5,712.5 401.7,720.5 402.9,723.2C403.7,724.9 404.6,726.8 405.4,726.8C407.0,726.8 408.6,722.8 410.2,719.5C411.4,717.2 412.5,713.8 413.7,709.8C414.9,705.4 416.1,699.1 417.3,692.7C418.5,686.3 419.8,676.1 421.0,670.7C422.0,666.1 423.1,659.8 424.1,659.8C425.0,659.8 425.8,660.9 426.6,662.2C427.7,664.0 428.9,674.6 430.0,680.5C431.1,686.0 432.1,693.4 433.2,696.3C434.2,699.3 435.3,702.4 436.3,702.4C437.3,702.4 438.3,696.5 439.3,692.7C440.5,688.0 441.7,678.3 442.9,675.6C444.1,672.9 445.4,670.2 446.6,670.2C447.8,670.2 449.0,674.9 450.2,678.0C451.9,682.3 453.5,690.6 455.1,695.1C456.3,698.5 457.6,703.7 458.8,703.7C460.0,703.7 461.2,699.3 462.4,696.3C463.7,693.4 464.9,686.4 466.1,685.4C466.9,684.7 467.7,684.1 468.5,684.1C469.8,684.1 471.0,689.5 472.2,692.7C473.4,695.9 474.6,703.0 475.9,703.7C476.7,704.1 477.5,704.4 478.3,704.4C479.5,704.4 480.7,695.4 482.0,690.2C483.2,685.1 484.4,676.2 485.6,673.2C486.8,670.2 488.0,667.1 489.3,667.1C490.3,667.1 491.4,674.8 492.4,682.9C493.4,690.4 494.4,714.3 495.4,729.3C496.2,741.8 497.0,760.5 497.8,765.9C498.5,770.2 499.1,774.4 499.8,774.4C500.6,774.4 501.4,767.8 502.2,761.0C503.2,752.8 504.1,722.3 505.1,704.9C506.1,687.5 507.1,662.7 508.0,656.1C509.1,648.9 510.2,642.7 511.2,642.7C512.0,642.7 512.8,643.2 513.7,643.9C514.9,644.9 516.1,652.0 517.3,656.1C518.8,661.0 520.2,667.8 521.7,670.7C523.1,673.5 524.5,676.8 525.9,676.8C526.9,676.8 528.0,670.9 529.0,665.9C530.0,661.2 531.0,649.3 532.0,643.9C533.2,637.1 534.4,629.5 535.6,628.0C536.8,626.6 538.0,626.7 539.3,625.6C540.9,624.2 542.5,621.7 544.1,619.5C545.8,617.3 547.4,614.3 549.0,612.2C550.7,610.1 552.3,608.2 553.9,606.8C555.1,605.8 556.3,605.2 557.6,604.4 M743.9,604.4C745.0,605.8 746.0,606.2 747.1,608.5C747.9,610.4 748.7,616.6 749.5,624.4C750.3,632.2 751.1,651.4 752.0,668.3C752.9,688.6 753.9,723.3 754.9,741.5C756.1,764.2 757.3,782.7 758.5,795.1C759.3,803.4 760.2,814.6 761.0,814.6C761.5,814.6 762.1,805.4 762.7,800.0C763.7,790.0 764.8,778.4 765.9,765.9C767.1,751.4 768.3,731.0 769.5,717.1C770.6,705.0 771.6,689.1 772.7,685.4C773.4,682.8 774.1,680.5 774.9,680.5C775.7,680.5 776.5,685.2 777.3,690.2C778.4,696.8 779.4,722.5 780.5,741.5C781.3,756.1 782.1,778.7 782.9,790.2C783.8,802.9 784.7,819.5 785.6,819.5C786.6,819.5 787.6,808.9 788.5,800.0C789.3,792.6 790.2,775.1 791.0,765.9C791.8,756.7 792.6,742.7 793.4,742.7C794.2,742.7 795.0,748.0 795.9,753.7C796.7,759.3 797.5,777.7 798.3,790.2C799.1,802.8 799.9,825.2 800.7,829.3C801.9,835.0 803.0,839.0 804.1,839.0C805.1,839.0 806.1,825.9 807.1,814.6C807.6,809.0 808.0,800.5 808.5,790.2C809.3,773.2 810.2,739.3 811.0,717.1C812.0,690.4 812.9,658.7 813.9,643.9C815.0,627.9 816.0,613.5 817.1,609.8C817.9,606.9 818.7,606.2 819.5,604.4 M842.7,604.4C843.7,607.0 844.6,608.1 845.6,612.2C846.7,616.6 847.7,629.9 848.8,643.9C850.0,660.0 851.2,692.7 852.4,717.1C853.7,741.5 854.9,768.1 856.1,790.2C857.3,812.4 858.5,843.9 859.8,851.2C862.2,865.9 864.6,875.6 867.1,875.6C869.1,875.6 871.1,865.0 873.2,851.2C874.2,844.1 875.3,821.2 876.3,802.4C877.3,785.1 878.3,761.4 879.3,741.5C880.5,716.6 881.7,686.6 882.9,668.3C884.1,650.0 885.4,632.6 886.6,624.4C887.8,616.2 889.0,609.6 890.2,607.3C891.1,605.8 891.9,605.4 892.7,604.4 M928.8,604.3C929.5,605.2 930.1,605.4 930.8,606.9C931.5,608.4 932.2,616.2 932.9,621.4C933.9,629.1 935.0,638.6 936.0,647.1C937.2,657.2 938.5,667.1 939.7,677.1C940.2,681.4 940.8,690.0 941.3,690.0C941.8,690.0 942.4,681.5 942.9,677.1C944.1,667.3 945.3,656.9 946.5,647.1C947.6,638.4 948.6,629.3 949.7,621.4C950.4,616.2 951.1,608.4 951.8,606.9C952.5,605.4 953.1,605.2 953.8,604.3" stroke="#1a1a1a"/>
<path d="M180.2,582.9C181.7,587.0 183.2,592.3 184.6,595.1C186.7,599.0 188.7,603.7 190.7,603.7C193.2,603.7 195.6,603.2 198.0,602.4C200.1,601.8 202.1,588.9 204.1,580.5C206.2,572.1 208.2,559.0 210.2,551.2C211.9,545.0 213.5,537.1 215.1,535.4C216.3,534.1 217.6,532.9 218.8,532.9C220.0,532.9 221.2,534.7 222.4,536.6C224.1,539.1 225.7,550.0 227.3,556.1C228.9,562.2 230.6,569.6 232.2,573.2C233.8,576.7 235.4,580.5 237.1,581.0C238.7,581.4 240.3,581.7 242.0,581.7C244.0,581.7 246.0,580.5 248.0,579.3C250.1,578.0 252.1,574.2 254.1,572.0C256.2,569.7 258.2,568.6 260.2,565.9C261.9,563.7 263.5,559.2 265.1,556.1C266.1,554.2 267.1,550.7 268.0,550.7C269.1,550.7 270.2,555.4 271.2,558.5C272.8,563.4 274.5,573.6 276.1,578.0C277.7,582.5 279.3,588.3 281.0,588.3C282.2,588.3 283.4,588.1 284.6,587.8C286.3,587.4 287.9,579.9 289.5,574.4C290.7,570.2 292.0,561.1 293.2,558.5C294.2,556.3 295.3,554.1 296.3,554.1C297.5,554.1 298.6,558.2 299.8,561.0C301.2,564.6 302.7,571.9 304.1,575.6C305.8,579.7 307.4,583.2 309.0,585.4C311.1,588.1 313.1,590.3 315.1,591.5C317.2,592.6 319.2,593.9 321.2,593.9C322.8,593.9 324.5,593.4 326.1,592.7C327.7,592.0 329.3,586.7 331.0,582.9C333.0,578.2 335.0,569.3 337.1,565.9C338.7,563.1 340.3,559.8 342.0,559.8C343.2,559.8 344.4,563.5 345.6,565.9C347.6,569.8 349.7,577.1 351.7,580.5C353.7,583.9 355.8,588.3 357.8,588.3C359.4,588.3 361.1,584.6 362.7,582.9C364.3,581.2 365.9,578.0 367.6,578.0C369.2,578.0 370.8,581.6 372.4,582.9C373.9,584.1 375.4,585.9 376.8,585.9C378.6,585.9 380.4,581.6 382.2,578.0C384.2,574.0 386.3,564.0 388.3,558.5C389.5,555.3 390.7,550.0 392.0,550.0C393.2,550.0 394.4,555.2 395.6,558.5C397.2,563.0 398.9,570.4 400.5,575.6C402.1,580.9 403.7,587.0 405.4,590.2C407.0,593.5 408.6,597.6 410.2,597.6C411.4,597.6 412.5,591.6 413.7,587.8C414.9,583.7 416.1,575.6 417.3,573.2C418.5,570.7 419.8,568.3 421.0,568.3C422.2,568.3 423.4,568.3 424.6,568.3C425.9,568.3 427.1,563.9 428.3,561.0C429.5,558.0 430.7,551.6 432.0,550.0C433.2,548.4 434.4,546.8 435.6,546.8C436.8,546.8 438.0,549.6 439.3,551.2C440.9,553.4 442.5,555.5 444.1,558.5C445.8,561.6 447.4,566.9 449.0,570.7C450.7,574.6 452.3,580.8 453.9,581.7C455.1,582.4 456.3,582.9 457.6,582.9C458.8,582.9 460.0,579.8 461.2,579.3C462.8,578.6 464.5,578.0 466.1,578.0C467.7,578.0 469.3,581.1 471.0,581.7C472.6,582.3 474.2,582.9 475.9,582.9C477.5,582.9 479.1,580.8 480.7,579.3C482.4,577.7 484.0,576.3 485.6,573.2C486.8,570.8 488.0,563.0 489.3,558.5C490.5,554.1 491.7,547.9 492.9,546.3C493.7,545.3 494.6,544.4 495.4,544.4C496.3,544.4 497.3,548.0 498.3,551.2C499.6,555.5 500.9,567.9 502.2,575.6C503.3,582.4 504.5,591.9 505.6,595.1C506.7,598.1 507.7,601.2 508.8,601.2C510.0,601.2 511.2,598.2 512.4,595.1C513.7,592.0 514.9,582.5 516.1,575.6C517.3,568.7 518.5,558.2 519.8,553.7C521.0,549.2 522.2,543.9 523.4,543.9C524.5,543.9 525.5,544.4 526.6,545.1C527.7,545.9 528.9,551.6 530.0,553.7C531.5,556.3 532.9,559.8 534.4,559.8C536.0,559.8 537.6,559.8 539.3,559.8C540.7,559.8 542.2,561.6 543.7,563.4C545.0,565.1 546.4,570.2 547.8,573.2C549.4,576.7 551.1,580.4 552.7,582.9C554.1,585.1 555.4,588.3 556.8,588.3C558.1,588.3 559.4,582.4 560.7,578.0C562.1,573.4 563.5,562.5 564.9,558.5C566.3,554.6 567.6,550.0 569.0,550.0C570.1,550.0 571.1,554.4 572.2,558.5C573.3,562.6 574.3,573.8 575.4,580.5C576.3,586.7 577.3,594.5 578.3,597.6C579.1,600.1 579.9,602.4 580.7,602.9C581.7,603.5 582.7,603.9 583.7,603.9C614.3,604.4 645.0,604.4 675.6,604.4C676.8,604.4 678.0,601.0 679.3,597.6C680.5,594.1 681.7,583.3 682.9,575.6C684.1,567.9 685.4,557.3 686.6,551.2C687.8,545.1 689.0,538.8 690.2,536.6C691.1,535.1 691.9,533.7 692.7,533.7C693.7,533.7 694.8,536.7 695.9,539.0C697.2,542.1 698.6,547.0 700.0,552.4C701.2,557.3 702.4,566.6 703.7,570.7C705.1,575.7 706.6,580.5 708.0,581.7C709.2,582.6 710.3,583.4 711.5,583.4C712.9,583.4 714.4,579.7 715.9,578.0C717.5,576.2 719.1,572.7 720.7,572.7C722.0,572.7 723.2,574.8 724.4,576.8C725.6,578.8 726.8,584.5 728.0,587.8C729.5,591.8 731.0,596.4 732.4,598.8C733.8,601.0 735.2,603.2 736.6,603.7C737.8,604.1 739.0,604.1 740.2,604.4" stroke="#f01010"/>
<path d="M180.2,606.1C181.3,610.6 182.4,615.4 183.4,619.5C185.0,625.8 186.7,632.8 188.3,636.6C189.9,640.4 191.5,645.1 193.2,645.1C194.8,645.1 196.4,641.7 198.0,639.0C199.7,636.3 201.3,629.3 202.9,626.8C204.6,624.3 206.2,621.5 207.8,621.5C209.0,621.5 210.2,625.0 211.5,626.8C213.1,629.2 214.7,632.7 216.3,634.1C218.4,635.9 220.4,636.3 222.4,637.8C224.5,639.3 226.5,641.2 228.5,643.9C230.0,645.9 231.5,650.6 232.9,652.4C233.7,653.5 234.6,654.9 235.4,654.9C236.3,654.9 237.3,651.4 238.3,648.8C239.3,646.2 240.2,639.1 241.2,637.8C242.3,636.4 243.3,635.4 244.4,635.4C245.6,635.4 246.8,639.3 248.0,640.2C249.7,641.5 251.3,642.7 252.9,642.7C255.0,642.7 257.0,641.5 259.0,640.2C261.1,639.0 263.1,634.8 265.1,632.9C266.7,631.4 268.4,629.3 270.0,629.3C271.6,629.3 273.3,632.4 274.9,634.1C276.3,635.7 277.8,639.0 279.3,639.0C280.7,639.0 282.0,637.0 283.4,635.4C284.6,633.9 285.9,629.9 287.1,629.3C288.3,628.6 289.5,628.0 290.7,628.0C292.1,628.0 293.5,632.0 294.9,634.1C296.3,636.4 297.8,640.1 299.3,641.5C300.5,642.6 301.7,643.9 302.9,643.9C304.6,643.9 306.2,639.4 307.8,636.6C309.8,633.1 311.9,627.1 313.9,624.4C315.9,621.7 318.0,618.3 320.0,618.3C321.6,618.3 323.3,618.3 324.9,618.3C326.5,618.3 328.1,622.4 329.8,622.4C331.0,622.4 332.2,620.4 333.4,619.5C334.6,618.6 335.9,617.1 337.1,617.1C338.1,617.1 339.2,621.5 340.2,624.4C341.6,628.2 343.0,635.0 344.4,639.0C346.0,643.8 347.6,647.6 349.3,651.2C350.9,654.8 352.5,659.5 354.1,661.0C355.8,662.5 357.4,663.9 359.0,663.9C360.7,663.9 362.3,660.6 363.9,658.5C365.9,655.9 368.0,650.6 370.0,648.8C372.0,647.0 374.1,645.1 376.1,645.1C377.7,645.1 379.3,645.7 381.0,646.3C382.6,647.0 384.2,649.7 385.9,651.2C387.2,652.5 388.6,654.9 390.0,654.9C391.3,654.9 392.6,650.8 393.9,650.0C394.9,649.4 395.9,648.8 396.8,648.8C398.0,648.8 399.3,655.7 400.5,658.5C401.7,661.3 402.9,665.9 404.1,665.9C405.4,665.9 406.6,665.7 407.8,665.4C408.5,665.2 409.3,664.2 410.0,663.4C411.2,662.1 412.4,660.7 413.7,658.5C414.9,656.4 416.1,652.2 417.3,648.8C418.5,645.3 419.8,640.1 421.0,637.8C422.2,635.6 423.4,632.9 424.6,632.9C425.6,632.9 426.6,634.9 427.6,636.6C428.6,638.5 429.7,643.8 430.7,646.3C432.0,649.3 433.2,653.7 434.4,653.7C435.6,653.7 436.8,650.5 438.0,648.8C439.7,646.5 441.3,642.9 442.9,641.5C444.1,640.4 445.4,639.0 446.6,639.0C447.8,639.0 449.0,641.1 450.2,642.7C451.9,644.8 453.5,650.3 455.1,652.4C456.7,654.6 458.4,657.3 460.0,657.3C461.4,657.3 462.8,653.8 464.1,652.4C465.6,651.0 467.1,648.8 468.5,648.8C469.8,648.8 471.0,650.9 472.2,652.4C473.4,654.0 474.6,658.5 475.9,658.5C476.8,658.5 477.8,658.3 478.8,658.0C480.1,657.7 481.4,652.0 482.7,648.8C483.8,646.0 485.0,641.6 486.1,640.2C487.2,639.0 488.2,637.8 489.3,637.8C490.3,637.8 491.4,643.4 492.4,648.8C493.4,653.7 494.4,667.3 495.4,675.6C496.2,682.5 497.0,692.3 497.8,695.1C498.5,697.4 499.1,699.5 499.8,699.5C500.6,699.5 501.4,694.8 502.2,690.2C503.2,684.8 504.1,667.7 505.1,658.5C506.1,649.3 507.1,638.1 508.0,634.1C509.1,629.8 510.2,625.6 511.2,625.6C512.3,625.6 513.3,626.9 514.4,628.0C515.8,629.6 517.2,633.6 518.5,636.6C519.8,639.3 521.0,643.9 522.2,645.1C523.4,646.4 524.6,647.6 525.9,647.6C526.9,647.6 528.0,644.3 529.0,641.5C530.0,638.9 531.0,632.2 532.0,629.3C533.2,625.6 534.4,622.2 535.6,620.7C537.2,618.8 538.9,618.4 540.5,617.1C542.1,615.7 543.7,614.1 545.4,612.7C547.0,611.3 548.6,609.8 550.2,608.5C551.9,607.2 553.5,605.5 555.1,604.9C556.3,604.4 557.6,603.9 558.8,603.9C620.9,603.9 683.0,603.9 745.1,604.4C746.7,604.4 748.4,606.1 750.0,607.3C751.6,608.6 753.3,611.4 754.9,612.7C756.9,614.3 758.9,616.6 761.0,616.6C762.6,616.6 764.2,615.2 765.9,614.1C767.5,613.1 769.1,610.8 770.7,609.8C772.1,608.9 773.5,607.8 774.9,607.8C776.3,607.8 777.8,609.2 779.3,610.2C780.9,611.4 782.5,614.0 784.1,614.6C785.8,615.3 787.4,615.9 789.0,615.9C790.5,615.9 792.0,613.4 793.4,613.4C794.8,613.4 796.2,615.0 797.6,615.9C799.2,616.9 800.8,619.0 802.4,619.0C804.1,619.0 805.7,617.3 807.3,615.9C808.7,614.6 810.1,611.5 811.5,609.8C812.9,607.9 814.4,605.3 815.9,604.9C816.7,604.6 817.5,604.6 818.3,604.4 M845.1,604.4C846.3,606.2 847.6,607.4 848.8,609.8C850.2,612.4 851.5,618.4 852.9,622.0C854.4,625.7 855.9,629.4 857.3,631.7C858.5,633.6 859.8,636.1 861.0,636.1C862.6,636.1 864.2,634.1 865.9,634.1C867.1,634.1 868.3,636.0 869.5,637.1C870.7,638.2 872.0,641.0 873.2,641.0C874.4,641.0 875.6,639.4 876.8,637.8C878.0,636.2 879.3,630.5 880.5,626.8C881.9,622.7 883.3,617.6 884.6,614.6C886.1,611.5 887.6,608.9 889.0,607.3C890.2,606.0 891.5,605.4 892.7,604.4" stroke="#f01010"/>
<path d="M180.2,595.1C181.7,597.2 183.2,600.1 184.6,601.2C186.7,602.8 188.7,604.4 190.7,604.4C193.2,604.4 195.6,604.1 198.0,603.7C200.5,603.2 202.9,598.5 205.4,595.1C207.8,591.8 210.2,586.3 212.7,582.9C214.7,580.1 216.7,576.8 218.8,575.6C220.4,574.7 222.0,573.7 223.7,573.7C224.9,573.7 226.1,576.2 227.3,578.0C228.9,580.5 230.6,586.0 232.2,587.8C233.8,589.6 235.4,591.5 237.1,591.5C239.1,591.5 241.1,591.3 243.2,591.0C245.6,590.6 248.0,588.4 250.5,586.6C252.5,585.0 254.6,583.0 256.6,580.5C258.6,578.0 260.7,574.1 262.7,570.7C263.9,568.7 265.1,565.8 266.3,564.6C267.2,563.9 268.0,562.9 268.8,562.9C269.8,562.9 270.9,567.9 272.0,570.7C273.3,574.4 274.7,580.2 276.1,582.9C277.7,586.2 279.3,590.2 281.0,590.2C282.2,590.2 283.4,590.1 284.6,589.8C286.1,589.4 287.6,581.7 289.0,575.6C290.4,569.8 291.8,557.2 293.2,551.2C294.2,546.7 295.3,540.2 296.3,540.2C297.3,540.2 298.3,545.0 299.3,548.8C300.5,553.5 301.7,565.9 302.9,570.7C304.1,575.6 305.4,580.2 306.6,581.7C308.2,583.7 309.8,583.8 311.5,585.4C313.1,586.9 314.7,590.5 316.3,591.5C318.4,592.7 320.4,593.9 322.4,593.9C324.1,593.9 325.7,593.4 327.3,592.7C328.9,592.0 330.6,586.5 332.2,582.9C333.8,579.3 335.4,573.4 337.1,570.7C338.7,568.0 340.3,564.6 342.0,564.6C343.3,564.6 344.7,567.5 346.1,569.5C348.0,572.2 349.8,577.4 351.7,580.5C353.7,583.8 355.8,589.0 357.8,589.0C359.4,589.0 361.1,584.9 362.7,582.9C364.1,581.1 365.6,577.6 367.1,577.6C368.5,577.6 369.8,580.4 371.2,581.7C373.1,583.5 375.0,586.6 376.8,586.6C378.6,586.6 380.4,582.7 382.2,580.5C384.2,577.9 386.3,574.3 388.3,572.0C389.5,570.5 390.7,568.3 392.0,568.3C393.4,568.3 394.9,572.6 396.3,575.6C398.1,579.3 399.9,587.1 401.7,590.2C403.7,593.8 405.8,598.0 407.8,598.0C409.0,598.0 410.2,597.9 411.5,597.6C412.2,597.4 412.9,590.1 413.7,587.8C414.9,584.0 416.1,580.4 417.3,579.3C418.8,577.9 420.2,576.8 421.7,576.8C422.8,576.8 424.0,578.0 425.1,578.0C426.2,578.0 427.2,572.0 428.3,568.3C429.5,564.1 430.7,556.5 432.0,553.7C433.2,550.8 434.4,547.6 435.6,547.6C436.8,547.6 438.0,550.3 439.3,552.4C440.9,555.3 442.5,561.4 444.1,565.9C445.8,570.3 447.4,575.9 449.0,579.3C450.5,582.3 452.0,586.6 453.4,586.6C454.4,586.6 455.4,586.0 456.3,585.4C458.0,584.3 459.6,577.2 461.2,573.2C462.8,569.1 464.5,564.2 466.1,561.0C467.6,558.1 469.0,554.9 470.5,553.7C471.6,552.7 472.8,551.7 473.9,551.7C475.0,551.7 476.0,555.6 477.1,558.5C478.3,561.9 479.5,569.6 480.7,573.2C482.0,576.8 483.2,581.7 484.4,581.7C485.2,581.7 486.0,580.7 486.8,579.3C487.9,577.5 488.9,565.6 490.0,556.1C491.0,547.3 492.0,528.1 492.9,522.0C493.9,515.8 494.9,509.3 495.9,509.3C496.7,509.3 497.5,514.6 498.3,519.5C499.3,525.9 500.4,545.3 501.5,556.1C502.5,566.9 503.6,582.4 504.6,585.4C505.6,588.1 506.6,590.2 507.6,590.2C508.5,590.2 509.5,582.5 510.5,575.6C511.5,568.1 512.6,550.1 513.7,536.6C514.9,521.0 516.1,499.0 517.3,487.8C518.3,478.9 519.3,468.5 520.2,467.1C520.9,466.1 521.5,465.4 522.2,465.4C523.0,465.4 523.8,472.2 524.6,478.0C525.6,485.1 526.6,504.8 527.6,514.6C528.6,525.3 529.7,538.2 530.7,541.5C531.8,544.8 532.8,547.6 533.9,547.6C535.0,547.6 536.2,544.0 537.3,542.7C538.6,541.2 539.9,539.0 541.2,539.0C542.2,539.0 543.2,541.6 544.1,543.9C545.4,546.7 546.6,553.6 547.8,558.5C549.2,564.1 550.6,571.0 552.0,575.6C553.3,579.9 554.6,586.6 555.9,586.6C557.0,586.6 558.1,584.8 559.3,582.9C560.6,580.8 561.9,573.0 563.2,568.3C564.3,564.1 565.4,557.1 566.6,556.1C567.4,555.4 568.2,554.9 569.0,554.9C570.1,554.9 571.1,561.0 572.2,565.9C573.3,570.7 574.3,582.0 575.4,587.8C576.3,593.2 577.3,599.7 578.3,601.2C579.3,602.7 580.2,603.9 581.2,603.9C612.3,604.4 643.3,604.4 674.4,604.4C675.6,604.4 676.8,600.1 678.0,595.1C679.3,590.2 680.5,572.5 681.7,558.5C682.9,544.6 684.1,523.7 685.4,509.8C686.6,495.8 687.8,478.9 689.0,473.2C690.0,468.6 691.0,463.9 692.0,463.9C692.8,463.9 693.6,467.4 694.4,470.7C695.4,475.1 696.5,488.9 697.6,497.6C698.8,507.6 700.0,517.9 701.2,526.8C702.7,537.5 704.1,549.4 705.6,556.1C707.0,562.5 708.4,570.7 709.8,570.7C710.8,570.7 711.9,570.2 712.9,569.5C714.3,568.7 715.7,563.8 717.1,562.2C718.3,560.8 719.5,559.0 720.7,559.0C722.0,559.0 723.2,562.7 724.4,565.9C725.6,569.0 726.8,576.0 728.0,580.5C729.5,585.8 731.0,591.6 732.4,595.1C733.8,598.4 735.2,602.0 736.6,602.9C737.8,603.7 739.0,603.9 740.2,604.4" stroke="#1010f0"/>
<path d="M180.2,606.1C182.1,607.5 184.0,608.9 185.9,610.2C187.9,611.7 189.9,613.9 192.0,614.6C193.6,615.2 195.2,615.9 196.8,615.9C198.9,615.9 200.9,612.4 202.9,611.0C205.0,609.6 207.0,607.3 209.0,607.3C211.5,607.3 213.9,607.3 216.3,607.3C218.8,607.3 221.2,607.3 223.7,607.3C225.7,607.3 227.7,609.2 229.8,610.2C231.4,611.0 233.0,612.7 234.6,612.7C236.7,612.7 238.7,609.3 240.7,609.3C243.2,609.3 245.6,609.5 248.0,609.8C250.5,610.0 252.9,611.0 255.4,611.0C257.8,611.0 260.2,609.6 262.7,609.3C265.1,608.9 267.6,608.5 270.0,608.5C272.4,608.5 274.9,610.6 277.3,611.0C279.3,611.3 281.4,611.7 283.4,611.7C285.4,611.7 287.5,609.3 289.5,609.3C291.5,609.3 293.6,611.2 295.6,612.2C297.6,613.2 299.7,615.1 301.7,615.1C303.7,615.1 305.8,613.1 307.8,612.2C310.2,611.1 312.7,609.7 315.1,609.3C317.6,608.9 320.0,608.5 322.4,608.5C324.5,608.5 326.5,609.8 328.5,609.8C331.0,609.8 333.4,608.5 335.9,608.5C337.5,608.5 339.1,609.4 340.7,610.2C342.8,611.3 344.8,614.7 346.8,617.1C348.9,619.4 350.9,622.4 352.9,624.4C355.0,626.3 357.0,629.3 359.0,629.3C360.2,629.3 361.5,629.1 362.7,628.8C364.3,628.4 365.9,624.1 367.6,622.0C369.2,619.8 370.8,616.7 372.4,615.9C374.1,615.0 375.7,614.1 377.3,614.1C379.3,614.1 381.4,616.5 383.4,617.1C385.4,617.6 387.5,618.3 389.5,618.3C391.1,618.3 392.8,615.6 394.4,615.1C396.0,614.6 397.6,614.1 399.3,614.1C400.9,614.1 402.5,615.9 404.1,615.9C406.2,615.9 408.2,615.5 410.2,615.1C411.8,614.8 413.3,614.1 414.9,613.4C417.3,612.4 419.8,610.1 422.2,609.8C424.2,609.5 426.3,609.3 428.3,609.3C429.9,609.3 431.5,611.4 433.2,612.2C434.2,612.7 435.3,613.4 436.3,613.4C437.7,613.4 439.1,610.8 440.5,610.2C442.5,609.4 444.6,608.5 446.6,608.5C449.0,608.5 451.5,609.1 453.9,609.3C456.3,609.5 458.8,609.8 461.2,609.8C463.7,609.8 466.1,608.8 468.5,608.5C471.8,608.2 475.0,608.0 478.3,607.8C481.5,607.6 484.8,607.3 488.0,607.3C490.5,607.3 492.9,608.0 495.4,608.5C497.0,608.9 498.6,610.2 500.2,610.2C501.9,610.2 503.5,608.2 505.1,607.8C507.6,607.3 510.0,606.8 512.4,606.8C515.7,606.8 518.9,606.8 522.2,606.8C525.4,606.8 528.7,605.9 532.0,605.6C536.8,605.1 541.7,604.7 546.6,604.4C549.8,604.2 553.1,603.9 556.3,603.9C618.9,603.9 681.4,603.9 743.9,604.4C745.0,604.4 746.0,606.2 747.1,608.5C748.0,610.7 749.0,618.4 750.0,626.8C751.0,635.3 752.0,653.9 752.9,668.3C754.0,683.9 755.0,704.3 756.1,717.1C757.2,729.9 758.2,744.0 759.3,748.8C760.1,752.4 760.9,756.1 761.7,756.1C762.5,756.1 763.3,753.8 764.1,751.2C765.1,748.1 766.1,734.0 767.1,724.4C768.3,712.4 769.5,694.8 770.7,685.4C771.8,677.2 772.8,668.2 773.9,665.9C774.5,664.6 775.0,663.4 775.6,663.4C776.4,663.4 777.2,668.1 778.0,673.2C779.1,679.8 780.2,708.0 781.2,724.4C782.0,737.0 782.8,753.6 783.7,761.0C784.5,768.3 785.3,776.8 786.1,776.8C786.9,776.8 787.7,771.4 788.5,765.9C789.3,760.3 790.2,739.6 791.0,731.7C791.8,723.8 792.6,713.4 793.4,713.4C794.2,713.4 795.0,718.8 795.9,724.4C796.7,730.0 797.5,750.1 798.3,761.0C799.1,771.8 799.9,782.4 800.7,790.2C801.5,798.0 802.4,807.2 803.2,809.8C804.0,812.4 804.8,814.6 805.6,814.6C806.4,814.6 807.2,807.8 808.0,800.0C808.9,792.2 809.7,761.4 810.5,741.5C811.5,717.6 812.4,687.8 813.4,668.3C814.4,648.8 815.4,627.5 816.3,619.5C817.2,612.9 818.0,607.3 818.8,606.1C819.4,605.1 820.1,605.0 820.7,604.4 M842.7,604.4C843.7,606.6 844.6,607.6 845.6,611.0C846.7,614.6 847.7,624.4 848.8,634.1C850.0,645.4 851.2,664.6 852.4,680.5C853.7,696.3 854.9,716.5 856.1,729.3C857.3,742.1 858.5,757.6 859.8,761.0C860.7,763.6 861.7,765.9 862.7,765.9C864.0,765.9 865.3,758.0 866.6,758.0C867.6,758.0 868.5,763.6 869.5,765.9C870.5,768.1 871.5,772.0 872.4,772.0C873.3,772.0 874.1,769.1 874.9,765.9C875.9,761.6 877.0,743.1 878.0,729.3C879.3,713.3 880.5,689.1 881.7,673.2C882.9,657.3 884.1,640.6 885.4,631.7C886.6,622.9 887.8,616.1 889.0,612.2C890.0,609.1 891.0,606.1 892.0,605.4C892.6,604.9 893.3,604.7 893.9,604.4" stroke="#1010f0"/>
<path d="M181.0,604.2C189.0,604.0 197.0,603.9 205.0,603.5C209.3,603.3 213.7,601.5 218.0,601.5C221.3,601.5 224.7,601.8 228.0,602.0C232.0,602.3 236.0,603.1 240.0,603.5C243.3,603.8 246.7,604.0 250.0,604.2 M932.8,604.3C933.3,604.0 933.8,604.0 934.3,603.5C934.8,603.1 935.2,600.5 935.7,598.8C936.4,596.3 937.1,593.2 937.8,590.4C938.6,587.2 939.4,583.9 940.2,580.8C940.6,579.4 940.9,576.6 941.3,576.6C941.6,576.6 942.0,579.5 942.3,580.8C943.1,584.2 944.0,587.1 944.8,590.4C945.5,593.1 946.2,596.3 946.9,598.8C947.4,600.5 947.8,603.1 948.3,603.5C948.8,604.0 949.3,604.0 949.8,604.3" stroke="#00e8e8"/>
<path d="M215.0,604.5C218.3,605.2 221.7,605.8 225.0,606.5C227.3,607.0 229.7,608.0 232.0,608.0C234.7,608.0 237.3,605.4 240.0,605.0C243.3,604.5 246.7,604.5 250.0,604.2 M932.8,604.3C933.3,604.6 933.8,604.6 934.3,605.1C934.8,605.5 935.2,607.9 935.7,609.5C936.4,611.9 937.1,614.7 937.8,617.4C938.6,620.4 939.4,623.7 940.2,626.6C940.6,627.9 940.9,630.5 941.3,630.5C941.6,630.5 942.0,627.9 942.3,626.6C943.1,623.4 944.0,620.5 944.8,617.4C945.5,614.8 946.2,611.9 946.9,609.5C947.4,607.9 947.8,605.5 948.3,605.1C948.8,604.6 949.3,604.6 949.8,604.3" stroke="#00e8e8"/>
<path d="M181.0,604.3C431.6,604.3 682.2,604.3 932.8,604.3C933.3,604.3 933.8,604.1 934.3,603.8C934.8,603.5 935.2,601.9 935.7,600.8C936.4,599.2 937.1,597.3 937.8,595.6C938.6,593.6 939.4,591.5 940.2,589.6C940.6,588.7 940.9,587.0 941.3,587.0C941.6,587.0 942.0,588.8 942.3,589.6C943.1,591.7 944.0,593.6 944.8,595.6C945.5,597.3 946.2,599.2 946.9,600.8C947.4,601.9 947.8,603.5 948.3,603.8C948.8,604.1 949.3,604.3 949.8,604.3C970.5,604.3 991.3,604.3 1012.0,604.3" stroke="#ff10ff" stroke-width="3.0"/>
<path d="M181.0,604.3C431.6,604.3 682.2,604.3 932.8,604.3C933.3,604.3 933.8,604.5 934.3,604.8C934.8,605.1 935.2,606.7 935.7,607.8C936.4,609.4 937.1,611.2 937.8,613.0C938.6,615.0 939.4,617.1 940.2,619.1C940.6,620.0 940.9,621.7 941.3,621.7C941.6,621.7 942.0,619.9 942.3,619.1C943.1,617.0 944.0,615.0 944.8,613.0C945.5,611.3 946.2,609.4 946.9,607.8C947.4,606.7 947.8,605.1 948.3,604.8C948.8,604.5 949.3,604.3 949.8,604.3C970.5,604.3 991.3,604.3 1012.0,604.3" stroke="#ff10ff" stroke-width="3.0"/>
</g>
<g clip-path="url(#c2)" fill="none" stroke-width="2.8" stroke-linejoin="round" stroke-linecap="round">
<path d="M180.2,851.2C181.3,866.7 182.4,884.5 183.4,897.6C184.6,912.7 185.9,927.2 187.1,936.6C188.3,946.0 189.5,954.9 190.7,958.5C192.0,962.2 193.2,965.9 194.4,965.9C195.6,965.9 196.8,961.2 198.0,956.1C199.3,951.0 200.5,934.8 201.7,922.0C202.9,909.1 204.1,890.7 205.4,878.0C206.4,867.1 207.5,854.6 208.5,848.8C209.3,844.3 210.2,839.0 211.0,839.0C211.8,839.0 212.6,846.2 213.4,853.7C214.0,858.9 214.6,875.2 215.1,882.9C215.9,894.0 216.7,901.2 217.6,909.8C218.4,918.3 219.2,929.4 220.0,934.1C221.2,941.3 222.4,944.6 223.7,948.8C224.9,953.0 226.1,957.6 227.3,959.8C228.9,962.7 230.6,965.9 232.2,965.9C233.8,965.9 235.4,965.7 237.1,965.4C238.3,965.1 239.5,960.8 240.7,956.1C242.0,951.4 243.2,936.6 244.4,926.8C245.6,917.1 246.8,904.1 248.0,897.6C249.3,891.1 250.5,882.9 251.7,882.9C252.8,882.9 253.8,886.9 254.9,890.2C255.9,893.3 256.8,901.4 257.8,904.9C259.0,909.2 260.2,910.5 261.5,914.6C262.7,918.8 263.9,925.6 265.1,931.7C266.3,937.8 267.6,947.2 268.8,951.2C269.6,953.9 270.4,957.3 271.2,957.3C272.3,957.3 273.3,950.7 274.4,946.3C275.5,941.7 276.7,931.0 277.8,929.3C278.9,927.6 279.9,926.3 281.0,926.3C282.0,926.3 283.1,933.4 284.1,936.6C285.3,940.0 286.4,946.3 287.6,946.3C288.6,946.3 289.7,944.1 290.7,941.5C292.0,938.5 293.2,925.2 294.4,917.1C295.6,908.9 296.8,899.9 298.0,892.7C299.1,886.4 300.2,878.7 301.2,875.6C301.8,873.9 302.4,872.0 302.9,872.0C303.7,872.0 304.6,878.4 305.4,882.9C306.4,888.9 307.5,901.5 308.5,907.3C309.7,913.6 310.8,916.2 312.0,922.0C313.0,927.3 314.1,934.4 315.1,941.5C316.3,949.6 317.6,961.1 318.8,968.3C319.8,974.1 320.7,981.3 321.7,982.9C322.5,984.3 323.3,985.4 324.1,985.4C325.0,985.4 325.8,980.1 326.6,975.6C327.6,969.8 328.7,956.5 329.8,946.3C330.8,936.2 331.9,920.6 332.9,914.6C333.7,910.1 334.6,905.4 335.4,904.9C336.5,904.1 337.6,904.4 338.8,903.7C339.8,902.9 340.9,893.8 342.0,887.8C343.2,880.9 344.4,868.8 345.6,863.4C346.8,858.0 348.0,852.3 349.3,851.2C350.3,850.3 351.4,849.5 352.4,849.5C353.4,849.5 354.4,850.8 355.4,852.4C356.3,854.1 357.3,861.7 358.3,868.3C359.3,875.5 360.4,887.4 361.5,897.6C362.7,909.3 363.9,926.0 365.1,934.1C366.3,942.3 367.6,952.4 368.8,952.4C369.8,952.4 370.9,947.8 372.0,943.9C373.1,939.8 374.2,928.9 375.4,924.4C376.4,920.2 377.5,915.8 378.5,914.6C379.8,913.3 381.0,913.3 382.2,912.2C383.4,911.1 384.6,909.5 385.9,907.3C386.9,905.4 388.0,899.5 389.0,898.8C390.0,898.1 391.0,897.6 392.0,897.6C392.9,897.6 393.9,903.7 394.9,904.9C395.9,906.1 397.0,907.3 398.0,907.3C399.1,907.3 400.2,902.3 401.2,897.6C402.2,893.1 403.2,882.0 404.1,873.2C405.1,864.3 406.1,850.8 407.1,843.9C408.1,836.5 409.2,826.8 410.2,826.8C411.0,826.8 411.7,830.2 412.4,834.1C413.3,838.6 414.1,858.1 414.9,873.2C415.7,888.2 416.5,910.7 417.3,926.8C418.1,942.9 418.9,963.4 419.8,970.7C420.6,978.0 421.4,985.4 422.2,985.4C423.0,985.4 423.8,983.4 424.6,980.5C425.6,977.0 426.6,942.8 427.6,922.0C428.6,899.3 429.7,870.0 430.7,848.8C431.5,832.4 432.4,816.6 433.2,804.9C434.0,793.2 434.8,781.3 435.6,775.6C436.4,769.9 437.2,763.4 438.0,763.4C438.9,763.4 439.7,773.5 440.5,780.5C441.3,787.4 442.1,796.5 442.9,807.3C443.7,818.2 444.6,839.2 445.4,848.8C446.2,858.3 447.0,869.9 447.8,870.7C449.0,872.0 450.2,872.7 451.5,872.7C452.7,872.7 453.9,871.3 455.1,870.7C456.2,870.3 457.2,869.5 458.3,869.5C459.3,869.5 460.2,877.0 461.2,882.9C462.2,888.9 463.2,900.4 464.1,909.8C465.2,919.9 466.3,935.2 467.3,941.5C468.4,947.7 469.4,954.9 470.5,954.9C471.5,954.9 472.4,953.3 473.4,951.2C474.6,948.6 475.9,930.7 477.1,917.1C478.1,905.2 479.2,880.8 480.2,873.2C481.1,867.3 481.9,861.0 482.7,861.0C483.5,861.0 484.3,866.7 485.1,873.2C486.1,880.9 487.1,916.1 488.0,934.1C489.0,952.2 490.0,973.9 491.0,982.9C491.8,990.4 492.6,997.1 493.4,998.8C494.5,1000.9 495.5,1001.2 496.6,1002.4 M597.8,1002.4C598.3,996.7 598.8,994.3 599.3,985.4C599.8,976.4 600.2,944.5 600.7,922.0C601.4,891.9 602.0,843.7 602.7,824.4C603.3,807.5 603.8,795.2 604.4,787.8C605.6,771.9 606.8,756.1 608.0,756.1C608.9,756.1 609.7,770.1 610.5,780.5C611.0,786.7 611.5,798.3 612.0,804.9C612.9,818.0 613.9,824.3 614.9,836.6C615.9,848.9 616.8,867.7 617.8,880.5C618.9,894.3 619.9,908.6 621.0,917.1C622.0,925.6 623.1,936.6 624.1,936.6C625.1,936.6 626.1,936.1 627.1,935.4C628.3,934.5 629.5,923.9 630.7,919.5C631.8,915.7 632.8,909.8 633.9,909.8C634.9,909.8 635.9,910.2 636.8,911.0C637.8,911.7 638.8,921.2 639.8,926.8C640.8,932.9 641.9,942.7 642.9,946.3C644.1,950.5 645.4,954.9 646.6,954.9C647.8,954.9 649.0,952.4 650.2,952.4C651.0,952.4 651.7,955.5 652.4,958.5C653.3,962.0 654.1,974.7 654.9,980.5C655.9,987.4 656.8,994.5 657.8,997.6C658.6,1000.1 659.4,1002.9 660.2,1002.9C734.9,1002.9 809.5,1002.9 884.1,1002.2C885.5,1002.2 886.8,1000.4 888.2,998.2C889.2,996.4 890.3,989.4 891.4,983.7C892.3,978.8 893.2,968.9 894.1,966.0C894.8,963.8 895.5,961.5 896.2,961.5C896.9,961.5 897.6,964.9 898.3,967.6C899.2,971.1 900.1,978.9 901.0,983.7C902.0,988.5 902.9,994.2 903.8,996.6C904.8,999.1 905.7,1001.6 906.7,1001.7C909.1,1002.1 911.5,1002.2 913.9,1002.2C915.0,1002.2 916.1,1000.8 917.1,999.0C918.2,997.2 919.3,989.6 920.4,983.7C921.3,978.7 922.2,968.8 923.1,966.0C924.0,963.4 924.8,960.8 925.7,960.8C926.4,960.8 927.2,964.6 927.9,967.6C928.8,971.1 929.7,979.1 930.5,983.7C931.4,988.6 932.3,994.4 933.2,996.6C934.3,999.2 935.4,1001.6 936.5,1001.7C939.1,1002.1 941.8,1002.2 944.5,1002.2C945.9,1002.2 947.2,1000.3 948.5,999.0C950.1,997.5 951.8,995.8 953.4,993.4C954.4,991.8 955.5,989.5 956.6,986.9C957.7,984.4 958.7,979.6 959.8,977.3C961.4,973.8 963.0,972.5 964.6,969.2C966.2,965.9 967.9,960.3 969.5,956.3C971.1,952.3 972.7,947.0 974.3,945.1C975.6,943.5 977.0,941.9 978.3,941.9C979.4,941.9 980.5,943.0 981.5,943.1C982.6,943.3 983.7,943.5 984.8,943.5C985.8,943.5 986.9,938.9 988.0,937.0C989.1,935.2 990.1,932.2 991.2,932.2C992.0,932.2 992.8,933.3 993.6,934.6C994.4,936.0 995.2,941.9 996.0,946.7C996.8,951.5 997.6,959.4 998.4,964.4C999.2,969.4 1000.1,976.3 1000.9,977.3C1001.7,978.2 1002.5,978.9 1003.3,978.9C1004.3,978.9 1005.4,975.7 1006.5,974.1C1007.6,972.4 1008.6,970.8 1009.7,969.2" stroke="#1a1a1a"/>
<path d="M180.2,1058.5C181.3,1059.3 182.4,1060.0 183.4,1061.0C184.6,1062.2 185.9,1063.5 187.1,1065.9C188.0,1067.7 189.0,1073.9 190.0,1075.6C191.1,1077.4 192.1,1079.3 193.2,1079.3C194.2,1079.3 195.3,1072.0 196.3,1068.3C197.5,1064.3 198.6,1056.9 199.8,1056.1C200.8,1055.4 201.9,1054.9 202.9,1054.9C204.1,1054.9 205.4,1061.2 206.6,1065.9C207.8,1070.5 209.0,1081.0 210.2,1085.4C211.5,1089.7 212.7,1095.1 213.9,1095.1C215.1,1095.1 216.3,1089.9 217.6,1085.4C218.8,1080.9 220.0,1069.7 221.2,1063.4C222.8,1055.0 224.5,1045.6 226.1,1041.5C227.7,1037.4 229.3,1033.8 231.0,1032.9C232.2,1032.3 233.4,1031.7 234.6,1031.7C235.9,1031.7 237.1,1034.9 238.3,1036.6C239.7,1038.5 241.1,1042.7 242.4,1042.7C243.7,1042.7 244.9,1039.6 246.1,1037.8C247.2,1036.3 248.2,1032.9 249.3,1032.9C250.3,1032.9 251.4,1036.7 252.4,1040.2C253.4,1043.6 254.4,1052.6 255.4,1058.5C256.3,1064.4 257.3,1072.4 258.3,1075.6C259.3,1079.1 260.4,1079.7 261.5,1082.9C262.7,1086.7 263.9,1093.9 265.1,1100.0C266.3,1106.1 267.6,1114.5 268.8,1119.5C270.0,1124.5 271.2,1129.6 272.4,1131.7C273.9,1134.2 275.4,1136.6 276.8,1136.6C278.2,1136.6 279.6,1131.1 281.0,1126.8C282.6,1121.8 284.2,1111.9 285.9,1104.9C287.2,1098.9 288.6,1090.8 290.0,1087.8C291.1,1085.5 292.1,1082.9 293.2,1082.9C294.2,1082.9 295.3,1088.6 296.3,1092.7C297.3,1096.4 298.3,1104.9 299.3,1107.3C300.2,1109.8 301.2,1112.2 302.2,1112.2C303.3,1112.2 304.3,1106.8 305.4,1104.9C306.4,1102.9 307.5,1100.0 308.5,1100.0C309.5,1100.0 310.5,1102.6 311.5,1104.9C312.7,1107.7 313.9,1116.6 315.1,1119.5C316.3,1122.4 317.6,1125.6 318.8,1125.6C320.0,1125.6 321.2,1122.4 322.4,1119.5C324.1,1115.6 325.7,1105.3 327.3,1097.6C328.9,1089.9 330.6,1079.7 332.2,1073.2C333.3,1068.9 334.3,1064.2 335.4,1062.2C335.9,1061.1 336.5,1059.8 337.1,1059.8C337.9,1059.8 338.7,1064.9 339.5,1068.3C340.7,1073.4 342.0,1082.5 343.2,1087.8C344.1,1092.1 345.1,1098.8 346.1,1098.8C347.2,1098.8 348.2,1095.5 349.3,1092.7C350.5,1089.4 351.7,1078.3 352.9,1075.6C354.1,1072.9 355.4,1070.2 356.6,1070.2C357.8,1070.2 359.0,1074.9 360.2,1078.0C361.9,1082.3 363.5,1091.5 365.1,1095.1C366.6,1098.4 368.0,1102.4 369.5,1102.4C370.7,1102.4 371.8,1098.0 372.9,1095.1C374.2,1091.8 375.5,1084.6 376.8,1082.9C377.8,1081.7 378.8,1080.5 379.8,1080.5C381.0,1080.5 382.2,1087.3 383.4,1090.2C385.0,1094.2 386.7,1101.2 388.3,1101.2C389.5,1101.2 390.7,1096.3 392.0,1092.7C393.2,1089.1 394.4,1082.0 395.6,1078.0C396.7,1074.7 397.7,1070.4 398.8,1069.5C399.6,1068.8 400.4,1068.3 401.2,1068.3C402.0,1068.3 402.8,1079.6 403.7,1087.8C404.6,1097.7 405.6,1117.8 406.6,1129.3C407.6,1140.7 408.5,1150.4 409.5,1158.5C409.7,1159.9 409.8,1162.2 410.0,1162.2C410.7,1162.2 411.3,1150.4 412.0,1141.5C412.8,1130.3 413.6,1104.8 414.4,1092.7C415.4,1078.2 416.3,1065.4 417.3,1058.5C418.3,1051.7 419.3,1045.7 420.2,1043.9C421.3,1041.9 422.4,1040.2 423.4,1040.2C424.6,1040.2 425.9,1043.6 427.1,1046.3C428.3,1049.1 429.5,1054.5 430.7,1058.5C432.0,1062.6 433.2,1068.0 434.4,1070.7C435.6,1073.4 436.8,1076.8 438.0,1076.8C439.1,1076.8 440.2,1072.4 441.2,1068.3C442.2,1064.5 443.2,1054.4 444.1,1048.8C445.1,1043.2 446.1,1037.2 447.1,1034.1C448.1,1030.8 449.2,1028.3 450.2,1026.8C451.5,1025.1 452.7,1024.4 453.9,1023.2C455.1,1022.0 456.3,1021.0 457.6,1019.5C458.8,1018.0 460.0,1015.4 461.2,1013.4C462.4,1011.4 463.7,1008.8 464.9,1007.3C466.1,1005.8 467.3,1004.0 468.5,1003.7C470.2,1003.2 471.8,1003.2 473.4,1002.9 M660.2,1002.9C661.3,1006.0 662.4,1007.4 663.4,1012.2C664.5,1017.0 665.5,1030.6 666.6,1043.9C667.6,1056.1 668.5,1076.4 669.5,1092.7C670.5,1108.9 671.5,1129.4 672.4,1141.5C673.3,1151.5 674.1,1161.7 674.9,1165.9C675.5,1169.2 676.2,1172.7 676.8,1172.7C677.6,1172.7 678.5,1169.0 679.3,1165.9C680.5,1161.2 681.7,1149.6 682.9,1141.5C684.1,1133.3 685.4,1123.2 686.6,1117.1C687.8,1111.0 689.0,1104.6 690.2,1102.4C691.1,1101.0 691.9,1099.5 692.7,1099.5C693.5,1099.5 694.3,1106.3 695.1,1112.2C696.2,1119.9 697.2,1142.3 698.3,1153.7C699.3,1164.1 700.2,1176.7 701.2,1180.5C702.0,1183.6 702.8,1186.6 703.7,1186.6C704.5,1186.6 705.3,1181.9 706.1,1178.0C707.1,1173.4 708.0,1161.1 709.0,1156.1C709.8,1151.9 710.7,1146.3 711.5,1146.3C712.3,1146.3 713.1,1150.1 713.9,1153.7C715.0,1158.2 716.0,1171.8 717.1,1180.5C717.9,1187.2 718.7,1194.3 719.5,1200.0C720.6,1207.4 721.6,1219.5 722.7,1219.5C723.8,1219.5 725.0,1209.5 726.1,1200.0C726.9,1193.2 727.7,1178.9 728.5,1165.9C729.6,1148.8 730.7,1123.8 731.7,1104.9C732.9,1083.1 734.1,1057.8 735.4,1043.9C736.6,1030.0 737.8,1017.5 739.0,1012.2C740.1,1007.6 741.1,1006.0 742.2,1002.9 M757.3,1002.9C758.3,1006.8 759.3,1009.2 760.2,1014.6C761.3,1020.5 762.4,1031.7 763.4,1043.9C764.5,1056.1 765.5,1075.8 766.6,1092.7C767.6,1108.3 768.5,1126.1 769.5,1141.5C770.3,1154.3 771.1,1168.9 772.0,1178.0C772.8,1187.2 773.6,1193.4 774.4,1200.0C775.0,1205.3 775.7,1214.6 776.3,1214.6C776.9,1214.6 777.5,1205.0 778.0,1200.0C778.9,1192.9 779.7,1184.4 780.5,1178.0C781.5,1169.7 782.6,1159.9 783.7,1156.1C784.5,1153.2 785.3,1150.0 786.1,1150.0C786.9,1150.0 787.7,1154.7 788.5,1158.5C789.5,1163.1 790.5,1174.7 791.5,1180.5C792.3,1185.3 793.1,1192.7 793.9,1192.7C794.7,1192.7 795.5,1190.4 796.3,1187.8C797.3,1184.7 798.3,1172.1 799.3,1161.0C800.3,1148.9 801.4,1128.4 802.4,1112.2C803.7,1093.5 804.9,1070.9 806.1,1056.1C807.3,1041.3 808.5,1027.1 809.8,1019.5C810.8,1012.9 811.9,1006.7 812.9,1004.9C813.5,1003.9 814.1,1002.9 814.6,1002.9C834.6,1002.3 854.5,1002.2 874.5,1002.2C875.3,1002.2 876.1,1004.4 876.9,1006.2C877.7,1008.1 878.5,1012.2 879.3,1015.9C880.1,1019.6 880.9,1025.1 881.7,1028.8C882.5,1032.5 883.3,1036.4 884.1,1038.4C884.8,1040.2 885.5,1042.5 886.2,1042.5C886.9,1042.5 887.5,1040.8 888.2,1039.2C889.0,1037.3 889.8,1031.3 890.6,1027.2C891.4,1023.0 892.2,1018.0 893.0,1014.3C893.8,1010.6 894.6,1006.1 895.4,1004.6C896.1,1003.4 896.7,1003.0 897.3,1002.2 M972.7,1002.2C974.0,1003.3 975.4,1004.0 976.7,1005.4C978.1,1006.9 979.4,1010.1 980.7,1012.7C982.1,1015.2 983.4,1018.2 984.8,1020.7C986.1,1023.3 987.4,1026.7 988.8,1028.0C989.9,1029.0 990.9,1030.1 992.0,1030.1C993.1,1030.1 994.1,1028.5 995.2,1027.2C996.2,1026.0 997.2,1022.4 998.1,1022.0C998.8,1021.8 999.4,1021.5 1000.1,1021.5C1000.9,1021.5 1001.7,1024.8 1002.5,1027.2C1003.3,1029.5 1004.1,1033.6 1004.9,1036.8C1005.7,1040.1 1006.5,1043.0 1007.3,1046.5C1008.1,1050.0 1008.9,1054.0 1009.7,1057.8" stroke="#1a1a1a"/>
<path d="M180.2,951.2C181.3,956.1 182.4,961.3 183.4,965.9C184.6,971.1 185.9,977.5 187.1,980.5C188.7,984.5 190.3,988.3 192.0,989.0C193.4,989.7 194.9,990.2 196.3,990.2C197.7,990.2 199.1,984.6 200.5,980.5C202.1,975.7 203.7,965.2 205.4,961.0C206.6,957.8 207.8,954.6 209.0,953.7C209.8,953.0 210.7,952.4 211.5,952.4C212.4,952.4 213.4,957.6 214.4,961.0C215.7,965.5 217.0,974.8 218.3,978.0C219.7,981.5 221.1,983.9 222.4,985.4C224.1,987.1 225.7,988.0 227.3,989.0C228.9,990.0 230.6,991.5 232.2,991.5C233.8,991.5 235.4,991.5 237.1,991.5C238.7,991.5 240.3,988.4 242.0,985.4C243.6,982.4 245.2,972.8 246.8,968.3C248.0,964.9 249.3,959.8 250.5,959.8C251.5,959.8 252.4,959.8 253.4,959.8C254.5,959.8 255.5,964.2 256.6,965.9C257.8,967.8 259.0,969.1 260.2,970.7C261.5,972.4 262.7,973.7 263.9,975.6C265.1,977.6 266.3,981.2 267.6,982.9C269.0,985.0 270.5,987.8 272.0,987.8C273.3,987.8 274.7,983.3 276.1,981.7C277.3,980.3 278.5,978.0 279.8,978.0C281.0,978.0 282.2,979.9 283.4,980.5C285.0,981.3 286.7,982.4 288.3,982.4C289.9,982.4 291.5,977.0 293.2,973.2C294.8,969.4 296.4,962.4 298.0,958.5C299.3,955.6 300.5,951.2 301.7,951.2C302.5,951.2 303.3,951.8 304.1,952.4C305.1,953.3 306.1,958.5 307.1,961.0C308.5,964.7 310.0,967.1 311.5,970.7C312.9,974.3 314.4,979.2 315.9,982.9C317.2,986.4 318.6,991.3 320.0,992.7C321.2,993.9 322.4,995.1 323.7,995.1C324.9,995.1 326.1,991.2 327.3,987.8C328.5,984.4 329.8,974.1 331.0,970.7C332.2,967.3 333.4,964.1 334.6,963.4C335.9,962.7 337.1,962.9 338.3,962.2C339.5,961.5 340.7,957.9 342.0,956.1C343.6,953.8 345.2,950.7 346.8,950.0C348.5,949.3 350.1,948.8 351.7,948.8C353.1,948.8 354.5,950.5 355.9,952.4C357.2,954.3 358.5,961.3 359.8,965.9C361.1,970.7 362.5,978.0 363.9,980.5C365.3,982.9 366.7,985.4 368.0,985.4C369.5,985.4 371.0,982.0 372.4,980.5C374.1,978.8 375.7,975.6 377.3,975.6C378.9,975.6 380.6,978.0 382.2,978.0C383.8,978.0 385.4,977.4 387.1,976.8C388.7,976.3 390.3,975.4 392.0,974.4C393.6,973.4 395.2,972.4 396.8,970.7C398.5,969.1 400.1,965.9 401.7,963.4C403.3,961.0 405.0,957.0 406.6,956.1C407.8,955.5 409.0,954.9 410.2,954.9C411.0,954.9 411.7,961.9 412.4,965.9C413.4,971.1 414.4,978.4 415.4,982.9C416.4,987.8 417.5,993.0 418.5,995.1C419.6,997.3 420.7,999.5 421.7,999.5C422.7,999.5 423.7,998.7 424.6,997.6C425.9,996.2 427.1,986.9 428.3,980.5C429.5,974.1 430.7,964.1 432.0,958.5C433.2,953.0 434.4,947.2 435.6,945.1C436.7,943.3 437.7,941.5 438.8,941.5C439.8,941.5 440.7,944.3 441.7,946.3C442.9,948.9 444.1,955.8 445.4,957.3C447.0,959.3 448.6,960.0 450.2,961.0C451.9,962.0 453.5,962.3 455.1,963.4C456.7,964.5 458.4,966.0 460.0,968.3C461.4,970.3 462.8,975.1 464.1,978.0C465.6,981.2 467.1,985.8 468.5,986.6C469.8,987.3 471.0,987.8 472.2,987.8C473.4,987.8 474.6,984.0 475.9,980.5C477.1,976.9 478.3,965.3 479.5,961.0C480.6,957.2 481.6,952.4 482.7,952.4C483.5,952.4 484.3,954.0 485.1,956.1C485.9,958.2 486.7,969.1 487.6,975.6C488.4,982.1 489.2,991.7 490.0,995.1C490.8,998.5 491.6,1001.7 492.4,1002.0C493.4,1002.3 494.4,1002.3 495.4,1002.4 M598.3,1002.4C598.8,999.2 599.3,996.9 599.8,992.7C600.3,987.7 600.9,976.4 601.5,970.7C602.3,962.6 603.1,953.6 603.9,951.2C605.0,948.2 606.0,945.9 607.1,945.9C608.0,945.9 609.0,946.7 610.0,947.6C611.2,948.7 612.4,952.7 613.7,956.1C614.9,959.4 616.1,964.4 617.3,968.3C618.5,972.1 619.8,977.0 621.0,979.3C622.2,981.5 623.4,984.1 624.6,984.1C625.9,984.1 627.1,982.0 628.3,980.5C629.5,979.0 630.7,975.6 632.0,974.4C633.2,973.2 634.4,972.0 635.6,972.0C636.8,972.0 638.0,974.7 639.3,976.8C640.5,979.0 641.7,983.6 642.9,986.6C644.1,989.6 645.4,993.4 646.6,995.1C648.2,997.4 649.8,999.1 651.5,1000.0C653.1,1000.9 654.7,1001.3 656.3,1002.0 M951.8,1002.2C954.4,1001.3 957.1,1000.7 959.8,999.5C962.0,998.5 964.1,996.6 966.2,995.6C968.4,994.7 970.5,994.0 972.7,993.4C974.6,992.9 976.4,992.1 978.3,992.1C980.2,992.1 982.1,992.1 984.0,992.1C985.3,992.1 986.6,989.7 988.0,988.9C989.2,988.1 990.4,986.9 991.7,986.9C992.6,986.9 993.5,987.9 994.4,988.9C995.5,990.0 996.6,994.4 997.6,995.8C999.0,997.5 1000.3,999.5 1001.7,999.5C1004.3,999.5 1007.0,999.5 1009.7,999.5" stroke="#f01010"/>
<path d="M180.2,1028.0C181.7,1028.9 183.2,1029.4 184.6,1030.5C186.3,1031.6 187.9,1034.1 189.5,1035.4C190.7,1036.3 192.0,1037.8 193.2,1037.8C194.4,1037.8 195.6,1033.5 196.8,1031.7C198.0,1029.9 199.3,1026.8 200.5,1026.8C201.5,1026.8 202.6,1026.8 203.7,1026.8C204.8,1026.8 205.9,1030.7 207.1,1032.9C208.4,1035.5 209.7,1039.9 211.0,1041.5C212.0,1042.6 212.9,1043.9 213.9,1043.9C215.1,1043.9 216.3,1041.1 217.6,1039.0C219.2,1036.2 220.8,1029.9 222.4,1026.8C224.1,1023.8 225.7,1021.1 227.3,1019.5C228.9,1017.9 230.6,1015.9 232.2,1015.9C233.4,1015.9 234.6,1015.9 235.9,1015.9C237.1,1015.9 238.3,1017.5 239.5,1018.3C240.7,1019.1 242.0,1020.7 243.2,1020.7C244.4,1020.7 245.6,1018.9 246.8,1018.3C247.9,1017.8 248.9,1017.1 250.0,1017.1C251.0,1017.1 252.0,1019.8 252.9,1022.0C254.1,1024.6 255.4,1031.1 256.6,1034.1C258.2,1038.3 259.8,1040.7 261.5,1043.9C263.1,1047.2 264.7,1050.6 266.3,1053.7C268.0,1056.7 269.6,1060.5 271.2,1062.2C272.8,1063.9 274.5,1065.9 276.1,1065.9C277.7,1065.9 279.3,1063.3 281.0,1061.0C282.6,1058.7 284.2,1052.1 285.9,1048.8C287.2,1045.9 288.6,1041.8 290.0,1041.5C291.1,1041.2 292.1,1041.0 293.2,1041.0C294.4,1041.0 295.6,1045.4 296.8,1047.6C298.3,1050.1 299.8,1054.9 301.2,1054.9C302.6,1054.9 304.0,1053.3 305.4,1052.4C306.6,1051.7 307.8,1050.0 309.0,1050.0C310.2,1050.0 311.5,1053.9 312.7,1056.1C313.9,1058.2 315.1,1062.0 316.3,1062.9C317.6,1063.8 318.8,1064.6 320.0,1064.6C321.6,1064.6 323.3,1061.2 324.9,1058.5C326.5,1055.8 328.1,1050.5 329.8,1046.3C331.1,1042.8 332.5,1037.5 333.9,1035.4C335.0,1033.7 336.0,1031.7 337.1,1031.7C338.1,1031.7 339.2,1035.3 340.2,1037.8C341.4,1040.5 342.5,1046.9 343.7,1048.8C344.7,1050.6 345.8,1052.4 346.8,1052.4C348.0,1052.4 349.3,1048.6 350.5,1046.3C351.7,1044.1 352.9,1039.7 354.1,1039.0C355.4,1038.3 356.6,1037.8 357.8,1037.8C359.0,1037.8 360.2,1039.8 361.5,1041.5C363.1,1043.7 364.7,1050.2 366.3,1052.4C367.6,1054.1 368.8,1056.1 370.0,1056.1C371.2,1056.1 372.4,1052.0 373.7,1050.0C374.9,1048.0 376.1,1043.9 377.3,1043.9C378.3,1043.9 379.3,1043.9 380.2,1043.9C381.5,1043.9 382.8,1049.5 384.1,1051.2C385.5,1053.1 386.9,1055.6 388.3,1055.6C389.7,1055.6 391.1,1053.1 392.4,1051.2C393.7,1049.5 395.0,1045.8 396.3,1043.9C397.3,1042.5 398.3,1040.2 399.3,1040.2C400.1,1040.2 400.9,1041.9 401.7,1043.9C402.7,1046.2 403.7,1057.2 404.6,1063.4C405.7,1070.2 406.7,1078.0 407.8,1082.9C408.5,1086.4 409.3,1091.5 410.0,1091.5C410.8,1091.5 411.6,1085.5 412.4,1080.5C413.3,1075.4 414.1,1063.1 414.9,1056.1C415.9,1047.7 416.8,1038.0 417.8,1034.1C418.9,1029.9 419.9,1026.3 421.0,1025.6C422.0,1024.9 423.1,1024.4 424.1,1024.4C425.3,1024.4 426.4,1027.3 427.6,1029.3C428.9,1031.5 430.2,1035.5 431.5,1037.8C432.8,1040.2 434.2,1043.1 435.6,1043.9C436.7,1044.5 437.7,1045.1 438.8,1045.1C439.8,1045.1 440.7,1042.5 441.7,1040.2C442.7,1038.0 443.7,1032.3 444.6,1029.3C445.7,1025.9 446.7,1022.6 447.8,1020.7C449.0,1018.5 450.2,1016.7 451.5,1015.9C452.7,1015.0 453.9,1014.9 455.1,1014.1C456.3,1013.4 457.6,1012.1 458.8,1011.0C460.0,1009.8 461.2,1008.4 462.4,1007.3C464.1,1005.9 465.7,1004.2 467.3,1003.7C468.5,1003.3 469.8,1003.2 471.0,1002.9 M663.4,1002.9C665.0,1004.4 666.7,1005.8 668.3,1007.3C669.9,1008.9 671.5,1011.5 673.2,1012.2C674.8,1012.8 676.4,1013.4 678.0,1013.4C679.7,1013.4 681.3,1011.8 682.9,1011.0C684.6,1010.2 686.2,1008.9 687.8,1008.5C689.4,1008.2 691.1,1007.8 692.7,1007.8C694.3,1007.8 695.9,1009.5 697.6,1010.2C699.2,1011.0 700.8,1012.2 702.4,1012.2C704.1,1012.2 705.7,1010.2 707.3,1010.2C708.9,1010.2 710.6,1010.6 712.2,1011.0C713.8,1011.4 715.4,1013.0 717.1,1013.4C718.7,1013.8 720.3,1014.1 722.0,1014.1C723.6,1014.1 725.2,1012.8 726.8,1011.7C728.5,1010.7 730.1,1008.6 731.7,1007.3C733.3,1006.0 735.0,1004.3 736.6,1003.7C737.4,1003.3 738.2,1003.2 739.0,1002.9 M758.5,1002.9C759.8,1005.2 761.0,1007.3 762.2,1009.8C763.7,1012.7 765.1,1016.6 766.6,1019.5C768.2,1022.7 769.8,1026.6 771.5,1028.0C772.8,1029.2 774.2,1030.5 775.6,1030.5C777.2,1030.5 778.9,1027.0 780.5,1025.6C781.9,1024.4 783.3,1022.4 784.6,1022.4C786.1,1022.4 787.6,1025.6 789.0,1026.8C790.7,1028.2 792.3,1030.5 793.9,1030.5C795.4,1030.5 796.8,1029.3 798.3,1028.0C799.7,1026.8 801.1,1022.5 802.4,1019.5C803.7,1016.8 804.9,1013.3 806.1,1011.0C807.3,1008.6 808.5,1006.2 809.8,1004.9C810.6,1004.0 811.4,1003.6 812.2,1002.9" stroke="#f01010"/>
<path d="M180.2,965.9C181.3,969.1 182.4,972.8 183.4,975.6C184.6,978.9 185.9,982.2 187.1,984.1C188.7,986.7 190.3,989.8 192.0,989.8C193.4,989.8 194.9,989.8 196.3,989.8C197.7,989.8 199.1,984.7 200.5,980.5C201.9,976.3 203.3,967.4 204.6,961.0C205.7,956.1 206.7,949.2 207.8,946.3C208.6,944.1 209.4,941.5 210.2,941.5C211.3,941.5 212.4,945.3 213.4,948.8C214.4,952.0 215.4,961.2 216.3,965.9C217.6,971.7 218.8,977.9 220.0,980.5C221.6,983.9 223.3,985.8 224.9,987.3C226.9,989.2 228.9,990.8 231.0,991.5C233.0,992.1 235.0,992.7 237.1,992.7C238.7,992.7 240.3,990.2 242.0,987.8C243.6,985.4 245.2,976.8 246.8,973.2C248.2,970.1 249.6,965.9 251.0,965.9C252.0,965.9 253.1,966.1 254.1,966.3C255.4,966.7 256.6,970.3 257.8,972.0C259.4,974.2 261.1,975.8 262.7,978.0C264.3,980.3 265.9,983.6 267.6,985.4C269.0,986.9 270.5,989.0 272.0,989.0C273.3,989.0 274.7,984.6 276.1,982.9C277.3,981.5 278.5,979.3 279.8,979.3C281.0,979.3 282.2,980.7 283.4,981.7C285.0,983.0 286.7,986.6 288.3,986.6C289.9,986.6 291.5,984.6 293.2,982.9C294.8,981.3 296.4,977.2 298.0,975.6C299.7,974.0 301.3,972.0 302.9,972.0C304.0,972.0 305.0,973.3 306.1,974.4C307.5,975.8 308.9,979.3 310.2,981.7C311.9,984.6 313.5,987.9 315.1,990.2C316.7,992.6 318.4,995.8 320.0,996.3C321.2,996.7 322.4,997.1 323.7,997.1C324.9,997.1 326.1,994.8 327.3,992.7C328.5,990.5 329.8,983.2 331.0,980.5C332.2,977.8 333.4,974.4 334.6,974.4C336.3,974.4 337.9,975.1 339.5,975.1C340.7,975.1 342.0,969.2 343.2,965.9C344.6,961.8 346.1,954.4 347.6,952.4C348.9,950.6 350.3,948.8 351.7,948.8C352.9,948.8 354.1,951.2 355.4,953.7C356.6,956.1 357.8,963.7 359.0,968.3C360.4,973.5 361.8,980.6 363.2,982.9C364.6,985.4 366.1,987.8 367.6,987.8C368.8,987.8 370.0,985.1 371.2,982.9C372.8,980.0 374.5,971.5 376.1,968.3C377.7,965.0 379.3,963.2 381.0,961.0C382.6,958.8 384.2,956.7 385.9,954.9C387.1,953.5 388.3,951.2 389.5,951.2C390.7,951.2 392.0,955.5 393.2,958.5C394.4,961.6 395.6,968.9 396.8,970.7C398.0,972.6 399.3,974.4 400.5,974.4C401.5,974.4 402.6,970.4 403.7,965.9C404.6,961.7 405.6,945.5 406.6,936.6C407.6,927.7 408.5,918.0 409.5,912.2C409.7,911.2 409.8,909.8 410.0,909.8C410.8,909.8 411.6,913.2 412.4,917.1C413.3,921.0 414.1,937.4 414.9,946.3C415.9,957.0 416.8,969.4 417.8,975.6C418.9,982.3 419.9,988.6 421.0,990.2C421.8,991.5 422.6,992.7 423.4,992.7C424.2,992.7 425.0,986.3 425.9,980.5C426.9,972.9 428.0,953.3 429.0,936.6C430.0,921.2 431.0,897.0 432.0,882.9C432.8,871.2 433.6,856.2 434.4,853.7C435.0,851.6 435.7,850.0 436.3,850.0C437.2,850.0 438.0,855.7 438.8,861.0C439.8,867.3 440.7,887.1 441.7,897.6C442.9,910.7 444.1,924.2 445.4,931.7C446.4,938.2 447.5,946.3 448.5,946.3C449.7,946.3 450.8,945.8 452.0,945.1C453.0,944.5 454.1,941.1 455.1,940.2C456.2,939.4 457.2,938.5 458.3,938.5C459.3,938.5 460.2,942.9 461.2,946.3C462.4,950.6 463.7,960.3 464.9,965.9C466.1,971.4 467.3,978.5 468.5,980.5C469.8,982.4 471.0,984.1 472.2,984.1C473.3,984.1 474.3,981.0 475.4,978.0C476.5,974.9 477.6,965.6 478.8,961.0C479.8,956.7 480.9,950.0 482.0,950.0C482.8,950.0 483.6,950.5 484.4,951.2C485.2,952.0 486.0,963.5 486.8,970.7C487.6,978.0 488.5,991.6 489.3,995.1C490.1,998.7 490.9,1001.6 491.7,1002.0C492.5,1002.3 493.3,1002.3 494.1,1002.4 M598.3,1002.4C598.6,996.7 598.9,992.3 599.3,985.4C599.6,978.4 599.9,967.1 600.2,958.5C600.9,941.4 601.5,916.2 602.2,909.8C603.0,901.7 603.8,897.1 604.6,895.1C605.6,892.7 606.6,890.7 607.6,890.7C608.5,890.7 609.5,892.2 610.5,893.9C611.5,895.8 612.6,903.5 613.7,909.8C614.9,917.0 616.1,928.5 617.3,936.6C618.5,944.6 619.8,953.7 621.0,958.5C622.2,963.4 623.4,969.5 624.6,969.5C625.9,969.5 627.1,969.0 628.3,968.3C629.5,967.6 630.7,962.4 632.0,961.0C632.9,959.8 633.9,958.5 634.9,958.5C635.9,958.5 637.0,960.5 638.0,962.2C639.3,964.2 640.5,969.3 641.7,973.2C642.9,977.0 644.1,982.3 645.4,985.4C646.6,988.4 647.8,990.8 649.0,992.7C650.7,995.2 652.3,997.4 653.9,998.8C655.5,1000.2 657.2,1000.9 658.8,1002.0 M951.8,1002.2C954.4,1001.1 957.1,1000.3 959.8,999.0C962.0,997.9 964.1,996.0 966.2,995.0C968.4,994.0 970.5,993.3 972.7,992.6C974.6,992.0 976.4,991.0 978.3,991.0C980.2,991.0 982.1,991.0 984.0,991.0C985.3,991.0 986.6,988.7 988.0,987.7C989.2,986.8 990.4,985.3 991.7,985.3C992.6,985.3 993.5,986.6 994.4,987.7C995.5,989.1 996.6,993.5 997.6,995.0C999.0,996.9 1000.3,999.0 1001.7,999.0C1004.3,999.0 1007.0,999.0 1009.7,999.0" stroke="#1010f0"/>
<path d="M180.2,1007.3C182.5,1008.0 184.8,1008.6 187.1,1009.3C189.1,1009.8 191.1,1011.0 193.2,1011.0C194.8,1011.0 196.4,1009.1 198.0,1008.5C199.7,1008.0 201.3,1007.3 202.9,1007.3C205.0,1007.3 207.0,1009.7 209.0,1011.0C210.7,1012.0 212.3,1014.1 213.9,1014.1C215.5,1014.1 217.2,1012.6 218.8,1011.7C220.8,1010.6 222.8,1008.3 224.9,1007.8C227.3,1007.3 229.8,1006.8 232.2,1006.8C234.2,1006.8 236.3,1008.1 238.3,1008.5C239.9,1008.9 241.5,1009.3 243.2,1009.3C244.8,1009.3 246.4,1007.3 248.0,1007.3C249.7,1007.3 251.3,1007.9 252.9,1008.5C254.6,1009.2 256.2,1012.8 257.8,1014.6C259.8,1016.9 261.9,1018.9 263.9,1020.7C265.9,1022.5 268.0,1025.0 270.0,1025.6C272.0,1026.3 274.1,1026.8 276.1,1026.8C277.7,1026.8 279.3,1024.8 281.0,1023.2C282.6,1021.5 284.2,1017.3 285.9,1015.9C287.5,1014.4 289.1,1012.7 290.7,1012.7C292.4,1012.7 294.0,1013.7 295.6,1014.1C297.6,1014.7 299.7,1015.9 301.7,1015.9C303.7,1015.9 305.8,1013.8 307.8,1013.4C309.8,1013.0 311.9,1012.7 313.9,1012.7C315.5,1012.7 317.2,1014.1 318.8,1014.1C320.8,1014.1 322.8,1012.6 324.9,1011.7C326.9,1010.8 328.9,1009.1 331.0,1008.5C333.0,1007.9 335.0,1007.3 337.1,1007.3C338.7,1007.3 340.3,1009.2 342.0,1009.8C343.6,1010.3 345.2,1011.0 346.8,1011.0C348.5,1011.0 350.1,1009.0 351.7,1008.5C353.7,1007.9 355.8,1007.3 357.8,1007.3C360.2,1007.3 362.7,1007.8 365.1,1007.8C367.6,1007.8 370.0,1007.3 372.4,1007.3C374.9,1007.3 377.3,1007.3 379.8,1007.3C382.2,1007.3 384.6,1006.8 387.1,1006.8C389.5,1006.8 392.0,1007.3 394.4,1007.3C396.8,1007.3 399.3,1006.8 401.7,1006.8C403.7,1006.8 405.8,1007.3 407.8,1007.8C408.5,1008.0 409.3,1008.5 410.0,1008.5C411.6,1008.5 413.3,1007.3 414.9,1006.8C417.3,1006.1 419.8,1005.1 422.2,1004.9C426.3,1004.6 430.3,1004.4 434.4,1004.4C438.5,1004.4 442.5,1004.4 446.6,1004.4C450.7,1004.4 454.7,1003.7 458.8,1003.4C461.2,1003.2 463.7,1003.1 466.1,1002.9 M661.0,1002.9C662.0,1006.0 663.1,1007.3 664.1,1012.2C665.1,1016.7 666.1,1031.6 667.1,1043.9C668.0,1056.2 669.0,1076.1 670.0,1087.8C671.1,1100.5 672.1,1113.8 673.2,1119.5C674.2,1125.2 675.3,1131.2 676.3,1131.2C677.3,1131.2 678.3,1128.9 679.3,1126.8C680.5,1124.2 681.7,1117.8 682.9,1112.2C684.1,1106.6 685.4,1097.7 686.6,1092.7C687.8,1087.7 689.0,1082.9 690.2,1080.5C691.1,1078.8 691.9,1076.8 692.7,1076.8C693.5,1076.8 694.3,1079.7 695.1,1082.9C696.2,1087.1 697.2,1106.6 698.3,1117.1C699.3,1126.7 700.2,1139.6 701.2,1143.9C702.0,1147.5 702.8,1151.2 703.7,1151.2C704.6,1151.2 705.6,1145.5 706.6,1141.5C707.6,1137.1 708.7,1127.4 709.8,1124.4C710.6,1122.1 711.4,1119.5 712.2,1119.5C713.0,1119.5 713.8,1123.4 714.6,1126.8C715.7,1131.3 716.7,1144.2 717.8,1151.2C718.8,1157.7 719.8,1166.0 720.7,1168.3C721.5,1170.2 722.4,1172.0 723.2,1172.0C724.0,1172.0 724.8,1168.9 725.6,1165.9C726.6,1162.2 727.6,1152.0 728.5,1141.5C729.6,1130.1 730.7,1108.6 731.7,1092.7C732.9,1074.4 734.1,1051.6 735.4,1039.0C736.6,1026.4 737.8,1013.8 739.0,1009.8C740.1,1006.2 741.1,1005.2 742.2,1002.9 M757.3,1002.9C758.3,1006.0 759.3,1007.7 760.2,1012.2C761.3,1017.0 762.4,1028.2 763.4,1039.0C764.5,1049.9 765.5,1067.6 766.6,1080.5C767.7,1094.4 768.9,1110.1 770.0,1119.5C771.1,1128.3 772.1,1137.6 773.2,1140.2C774.2,1142.9 775.3,1145.1 776.3,1145.1C777.3,1145.1 778.3,1142.0 779.3,1139.0C780.2,1136.0 781.2,1126.6 782.2,1122.0C783.3,1116.9 784.3,1109.3 785.4,1109.3C786.2,1109.3 787.0,1112.1 787.8,1114.6C788.9,1117.9 789.9,1128.6 791.0,1131.7C792.0,1134.6 792.9,1137.8 793.9,1137.8C794.9,1137.8 795.9,1134.9 796.8,1131.7C797.9,1128.2 798.9,1115.1 800.0,1104.9C801.2,1093.1 802.4,1076.4 803.7,1063.4C804.9,1050.5 806.1,1035.3 807.3,1026.8C808.5,1018.3 809.8,1010.1 811.0,1007.3C812.0,1005.1 812.9,1003.0 813.9,1002.9C834.6,1002.3 855.4,1002.2 876.1,1002.2C877.2,1002.2 878.2,1003.3 879.3,1003.8C881.7,1005.1 884.1,1007.5 886.6,1007.5C889.0,1007.5 891.4,1005.6 893.8,1004.3C894.9,1003.7 896.0,1002.9 897.0,1002.2 M985.6,1002.2C989.9,1002.9 994.1,1003.3 998.4,1004.3C1000.6,1004.8 1002.7,1006.0 1004.9,1007.1C1006.5,1007.8 1008.1,1008.9 1009.7,1009.8" stroke="#1010f0"/>
<path d="M181.0,1002.4C315.0,1002.4 449.0,1002.4 583.0,1002.4C583.8,1002.4 584.7,997.5 585.5,997.5C586.3,997.5 587.2,1002.4 588.0,1002.4C607.3,1002.4 626.7,1002.4 646.0,1002.4C647.0,1002.4 648.0,999.0 649.0,999.0C650.0,999.0 651.0,1002.4 652.0,1002.4C772.0,1002.4 892.0,1002.4 1012.0,1002.4" stroke="#ffff00" stroke-width="3.2"/>
</g>
<g clip-path="url(#c3)" fill="none" stroke-width="2.8" stroke-linejoin="round" stroke-linecap="round">
<path d="M180.2,1380.5C181.3,1382.9 182.4,1385.2 183.4,1387.8C184.6,1390.8 185.9,1396.0 187.1,1397.6C188.5,1399.4 190.0,1401.2 191.5,1401.2C192.8,1401.2 194.2,1395.5 195.6,1390.2C197.2,1384.1 198.9,1370.5 200.5,1356.1C202.1,1341.7 203.7,1316.2 205.4,1297.6C207.0,1278.9 208.6,1256.7 210.2,1243.9C211.6,1233.1 213.0,1221.6 214.4,1218.3C215.4,1215.8 216.5,1213.4 217.6,1213.4C218.6,1213.4 219.7,1216.2 220.7,1219.5C221.7,1222.6 222.7,1234.8 223.7,1243.9C224.9,1255.3 226.1,1270.8 227.3,1282.9C228.5,1295.1 229.8,1308.8 231.0,1317.1C232.0,1323.7 232.9,1330.6 233.9,1332.9C235.0,1335.5 236.0,1337.8 237.1,1337.8C238.3,1337.8 239.5,1336.4 240.7,1335.4C242.4,1334.0 244.0,1331.4 245.6,1329.3C246.8,1327.7 248.0,1326.9 249.3,1324.4C250.5,1321.9 251.7,1311.6 252.9,1307.3C254.4,1302.2 255.9,1299.7 257.3,1295.1C258.5,1291.5 259.6,1288.1 260.7,1282.9C261.8,1278.1 262.8,1268.1 263.9,1263.4C264.7,1259.8 265.5,1254.9 266.3,1254.9C267.2,1254.9 268.0,1259.0 268.8,1263.4C269.6,1267.8 270.4,1282.8 271.2,1292.7C272.3,1305.5 273.3,1322.1 274.4,1331.7C275.5,1342.0 276.7,1353.2 277.8,1356.1C278.9,1358.8 279.9,1361.0 281.0,1361.0C282.0,1361.0 283.1,1356.9 284.1,1352.4C285.3,1347.6 286.4,1330.3 287.6,1317.1C288.8,1302.9 290.0,1279.1 291.2,1268.3C292.4,1257.5 293.7,1243.9 294.9,1243.9C295.9,1243.9 297.0,1251.5 298.0,1258.5C299.3,1266.7 300.5,1291.3 301.7,1304.9C302.7,1315.7 303.7,1330.5 304.6,1334.1C305.7,1338.1 306.7,1338.4 307.8,1341.5C309.0,1345.0 310.2,1352.8 311.5,1356.1C312.7,1359.3 313.9,1362.3 315.1,1363.4C316.7,1365.0 318.4,1366.3 320.0,1366.3C321.2,1366.3 322.4,1365.7 323.7,1364.6C324.9,1363.6 326.1,1355.2 327.3,1348.8C328.9,1340.2 330.6,1326.5 332.2,1314.6C333.6,1304.5 335.0,1287.0 336.3,1282.9C337.6,1279.3 338.8,1276.1 340.0,1276.1C341.1,1276.1 342.1,1281.5 343.2,1285.4C344.6,1290.7 346.1,1299.1 347.6,1307.3C349.2,1316.5 350.8,1330.9 352.4,1339.0C353.8,1346.0 355.2,1356.1 356.6,1356.1C357.8,1356.1 359.0,1347.1 360.2,1341.5C361.2,1336.9 362.2,1326.5 363.2,1325.6C364.0,1324.9 364.8,1324.4 365.6,1324.4C366.9,1324.4 368.2,1332.6 369.5,1336.6C370.9,1340.8 372.3,1348.8 373.7,1348.8C375.0,1348.8 376.4,1343.8 377.8,1339.0C379.4,1333.4 381.1,1316.7 382.7,1304.9C384.0,1295.4 385.3,1282.3 386.6,1275.6C387.6,1270.6 388.5,1263.9 389.5,1263.9C390.5,1263.9 391.5,1272.1 392.4,1278.0C393.7,1286.0 395.0,1303.2 396.3,1312.2C397.5,1320.0 398.6,1324.3 399.8,1331.7C401.1,1340.1 402.4,1353.6 403.7,1361.0C405.3,1370.2 406.9,1382.9 408.5,1382.9C409.0,1382.9 409.5,1378.2 410.0,1375.6C411.0,1370.4 412.0,1366.1 412.9,1358.5C414.0,1350.4 415.0,1328.9 416.1,1322.0C417.2,1315.0 418.2,1307.3 419.3,1307.3C420.2,1307.3 421.2,1312.2 422.2,1312.2C423.0,1312.2 423.8,1310.0 424.6,1307.3C425.6,1304.1 426.6,1283.2 427.6,1273.2C428.6,1262.3 429.7,1248.3 430.7,1243.9C431.8,1239.5 432.8,1235.4 433.9,1235.4C434.9,1235.4 435.9,1240.1 436.8,1242.7C437.8,1245.3 438.8,1249.0 439.8,1251.2C441.1,1254.2 442.4,1254.9 443.7,1258.5C444.6,1261.3 445.6,1266.7 446.6,1273.2C447.6,1279.7 448.5,1293.9 449.5,1302.4C450.6,1311.6 451.6,1323.6 452.7,1326.8C453.5,1329.3 454.3,1331.7 455.1,1331.7C456.2,1331.7 457.2,1325.1 458.3,1322.0C459.4,1318.6 460.6,1314.1 461.7,1312.2C463.2,1309.8 464.6,1308.2 466.1,1307.3C467.7,1306.4 469.3,1305.4 471.0,1305.4C472.2,1305.4 473.4,1306.9 474.6,1308.5C475.9,1310.2 477.1,1316.9 478.3,1319.5C479.5,1322.1 480.7,1325.6 482.0,1325.6C483.0,1325.6 484.1,1319.0 485.1,1312.2C486.1,1305.9 487.1,1287.6 488.0,1273.2C489.0,1258.7 490.0,1234.8 491.0,1224.4C491.8,1215.7 492.6,1207.0 493.4,1204.9C493.9,1203.6 494.4,1202.4 494.9,1202.4C495.4,1202.4 496.0,1206.0 496.6,1209.8C497.4,1215.1 498.2,1233.5 499.0,1248.8C500.1,1268.6 501.1,1300.4 502.2,1322.0C503.2,1341.9 504.1,1369.3 505.1,1375.6C505.9,1380.8 506.7,1385.4 507.6,1385.4C508.4,1385.4 509.2,1375.4 510.0,1365.9C511.0,1354.4 512.0,1322.1 512.9,1297.6C513.8,1275.0 514.7,1239.6 515.6,1224.4C516.2,1214.7 516.7,1209.8 517.3,1202.4C518.1,1191.9 518.9,1177.5 519.8,1170.7C520.4,1165.3 521.1,1158.5 521.7,1158.5C522.4,1158.5 523.2,1164.6 523.9,1170.7C524.6,1176.2 525.2,1193.1 525.9,1202.4C526.4,1210.6 527.0,1216.2 527.6,1224.4C528.2,1233.7 528.9,1252.3 529.5,1256.1C530.3,1260.9 531.1,1264.6 532.0,1264.6C533.2,1264.6 534.4,1264.1 535.6,1263.9C536.8,1263.7 538.0,1263.4 539.3,1263.4C540.2,1263.4 541.2,1267.0 542.2,1270.7C543.3,1274.8 544.3,1288.7 545.4,1297.6C546.7,1309.1 548.1,1321.9 549.5,1331.7C550.8,1340.9 552.1,1355.0 553.4,1356.1C554.2,1356.8 555.0,1357.3 555.9,1357.3C557.0,1357.3 558.1,1345.5 559.3,1336.6C560.6,1326.4 561.9,1305.4 563.2,1292.7C564.1,1283.1 565.1,1269.6 566.1,1267.1C566.7,1265.4 567.4,1263.9 568.0,1263.9C568.8,1263.9 569.5,1271.4 570.2,1278.0C571.1,1286.2 572.0,1306.5 572.9,1322.0C573.9,1338.8 574.9,1364.8 575.9,1375.6C576.8,1386.4 577.8,1397.0 578.8,1398.8C579.8,1400.7 580.9,1400.9 582.0,1402.0 M672.4,1402.0C673.5,1399.7 674.6,1398.9 675.6,1395.1C676.7,1391.3 677.7,1376.2 678.8,1361.0C679.9,1344.6 681.1,1311.1 682.2,1285.4C683.3,1261.5 684.3,1231.2 685.4,1212.2C686.2,1197.5 687.0,1184.9 687.8,1175.6C689.2,1159.9 690.6,1139.0 692.0,1139.0C693.3,1139.0 694.6,1161.3 695.9,1175.6C696.7,1184.6 697.5,1194.0 698.3,1207.3C699.1,1220.6 699.9,1245.9 700.7,1261.0C701.7,1279.0 702.7,1297.0 703.7,1307.3C704.6,1317.6 705.6,1328.5 706.6,1330.5C707.6,1332.6 708.7,1334.1 709.8,1334.1C710.8,1334.1 711.9,1328.3 712.9,1324.4C713.9,1320.8 714.9,1313.5 715.9,1311.0C716.9,1308.3 718.0,1305.4 719.0,1305.4C720.0,1305.4 721.0,1310.3 722.0,1314.6C723.2,1320.1 724.4,1334.3 725.6,1343.9C727.1,1355.4 728.5,1369.6 730.0,1378.0C731.2,1385.1 732.4,1392.1 733.7,1395.1C734.9,1398.1 736.1,1400.9 737.3,1401.2C738.9,1401.7 740.6,1401.7 742.2,1402.0" stroke="#1a1a1a"/>
<path d="M180.2,1403.7C181.3,1413.0 182.4,1422.1 183.4,1431.7C184.6,1442.8 185.9,1457.6 187.1,1465.9C188.3,1474.1 189.5,1482.3 190.7,1485.4C192.0,1488.5 193.2,1491.5 194.4,1491.5C195.4,1491.5 196.3,1484.5 197.3,1480.5C198.4,1476.1 199.4,1469.4 200.5,1465.9C201.5,1462.3 202.6,1458.2 203.7,1457.3C204.5,1456.7 205.3,1456.1 206.1,1456.1C206.9,1456.1 207.7,1463.9 208.5,1465.9C209.5,1468.2 210.5,1470.7 211.5,1470.7C212.4,1470.7 213.4,1464.6 214.4,1464.6C215.2,1464.6 216.0,1465.8 216.8,1467.1C217.9,1468.7 218.9,1476.1 220.0,1480.5C221.2,1485.5 222.4,1491.2 223.7,1495.1C224.9,1499.0 226.1,1501.6 227.3,1504.9C228.5,1508.1 229.8,1512.3 231.0,1514.6C231.8,1516.2 232.6,1518.3 233.4,1518.3C234.4,1518.3 235.4,1512.0 236.3,1507.3C237.4,1502.2 238.5,1489.9 239.5,1485.4C240.6,1480.9 241.6,1475.6 242.7,1475.6C243.7,1475.6 244.6,1479.4 245.6,1481.7C246.8,1484.5 248.0,1491.5 249.3,1491.5C250.9,1491.5 252.5,1489.1 254.1,1487.8C256.2,1486.2 258.2,1485.6 260.2,1482.9C261.9,1480.8 263.5,1472.2 265.1,1468.3C266.3,1465.4 267.6,1461.9 268.8,1461.0C269.6,1460.4 270.4,1459.8 271.2,1459.8C272.3,1459.8 273.3,1465.4 274.4,1468.3C275.5,1471.4 276.7,1476.7 277.8,1478.0C278.6,1479.0 279.4,1480.0 280.2,1480.0C281.3,1480.0 282.4,1472.3 283.4,1468.3C284.5,1464.3 285.5,1457.3 286.6,1456.1C287.6,1455.0 288.5,1454.1 289.5,1454.1C290.6,1454.1 291.6,1459.9 292.7,1463.4C293.9,1467.5 295.1,1473.7 296.3,1478.0C297.7,1483.0 299.1,1491.5 300.5,1491.5C301.5,1491.5 302.6,1486.4 303.7,1482.9C305.3,1477.5 306.9,1467.4 308.5,1461.0C310.5,1453.2 312.4,1445.2 314.4,1440.2C316.0,1436.1 317.6,1430.5 319.3,1430.5C320.6,1430.5 321.9,1431.7 323.2,1432.9C324.8,1434.4 326.4,1441.5 328.0,1441.5C329.3,1441.5 330.5,1439.4 331.7,1437.8C332.9,1436.2 334.1,1430.5 335.4,1430.5C336.3,1430.5 337.3,1435.8 338.3,1440.2C339.3,1444.7 340.2,1454.5 341.2,1461.0C342.3,1467.9 343.3,1474.8 344.4,1480.5C345.8,1487.9 347.2,1492.9 348.5,1500.0C349.8,1506.7 351.1,1517.5 352.4,1522.0C353.8,1526.7 355.2,1532.2 356.6,1532.2C357.8,1532.2 359.0,1530.9 360.2,1529.3C361.7,1527.3 363.2,1515.0 364.6,1509.8C366.4,1503.4 368.2,1497.4 370.0,1493.9C371.6,1490.7 373.3,1486.6 374.9,1486.6C376.3,1486.6 377.8,1487.1 379.3,1487.8C380.7,1488.5 382.0,1496.0 383.4,1498.8C384.6,1501.3 385.9,1504.9 387.1,1504.9C388.3,1504.9 389.5,1498.2 390.7,1496.3C391.8,1494.7 392.8,1492.7 393.9,1492.7C394.9,1492.7 395.9,1498.7 396.8,1502.4C398.0,1507.2 399.3,1516.4 400.5,1519.5C401.5,1522.0 402.4,1524.9 403.4,1524.9C404.9,1524.9 406.3,1519.0 407.8,1517.1C408.5,1516.1 409.3,1515.8 410.0,1514.6C411.2,1512.6 412.4,1505.9 413.7,1500.0C414.9,1494.1 416.1,1484.2 417.3,1478.0C418.5,1471.9 419.8,1464.8 421.0,1462.2C421.8,1460.4 422.6,1458.5 423.4,1458.5C424.2,1458.5 425.0,1464.4 425.9,1468.3C426.9,1473.4 428.0,1482.7 429.0,1487.8C430.2,1493.3 431.3,1501.2 432.4,1501.2C433.5,1501.2 434.6,1498.2 435.6,1496.3C436.7,1494.5 437.7,1489.8 438.8,1489.8C439.6,1489.8 440.4,1490.0 441.2,1490.2C442.2,1490.6 443.2,1496.0 444.1,1497.6C445.4,1499.6 446.6,1502.0 447.8,1502.0C449.0,1502.0 450.2,1498.8 451.5,1498.8C452.7,1498.8 453.9,1498.8 455.1,1498.8C456.3,1498.8 457.6,1501.2 458.8,1501.2C460.0,1501.2 461.2,1495.5 462.4,1492.7C463.5,1490.2 464.6,1485.7 465.6,1485.4C466.4,1485.1 467.2,1484.9 468.0,1484.9C469.0,1484.9 470.0,1490.1 471.0,1492.7C472.2,1495.9 473.4,1502.0 474.6,1502.0C475.7,1502.0 476.7,1500.5 477.8,1498.8C478.9,1497.0 480.1,1490.2 481.2,1485.4C482.3,1480.9 483.3,1472.7 484.4,1470.7C485.4,1468.8 486.5,1467.1 487.6,1467.1C488.4,1467.1 489.2,1472.7 490.0,1478.0C491.0,1484.5 492.0,1504.5 492.9,1517.1C493.9,1529.7 494.9,1545.8 495.9,1553.7C496.7,1560.2 497.5,1568.3 498.3,1568.3C499.1,1568.3 499.9,1560.5 500.7,1553.7C501.8,1544.7 502.8,1521.1 503.9,1504.9C505.0,1488.6 506.0,1463.9 507.1,1456.1C507.9,1450.1 508.7,1444.6 509.5,1443.9C510.3,1443.2 511.1,1442.7 512.0,1442.7C513.1,1442.7 514.2,1448.1 515.4,1451.2C516.7,1454.8 518.0,1459.5 519.3,1463.4C520.4,1466.8 521.5,1471.8 522.7,1473.2C523.5,1474.2 524.3,1475.1 525.1,1475.1C525.9,1475.1 526.7,1470.0 527.6,1465.9C528.4,1461.7 529.2,1451.8 530.0,1446.3C531.1,1439.2 532.1,1430.4 533.2,1428.0C534.4,1425.4 535.6,1424.6 536.8,1423.2C538.5,1421.3 540.1,1420.2 541.7,1418.3C543.2,1416.6 544.6,1414.1 546.1,1412.2C547.7,1410.1 549.3,1407.8 551.0,1406.1C552.4,1404.7 553.7,1402.4 555.1,1402.4C617.5,1402.0 679.8,1402.0 742.2,1402.0C743.2,1402.0 744.1,1403.8 745.1,1406.1C745.9,1408.0 746.7,1414.2 747.6,1422.0C748.4,1429.7 749.2,1448.9 750.0,1465.9C751.0,1486.2 752.0,1521.3 752.9,1539.0C754.1,1561.1 755.4,1576.9 756.6,1590.2C757.5,1600.0 758.4,1614.6 759.3,1614.6C759.8,1614.6 760.4,1605.4 761.0,1600.0C762.0,1590.0 763.1,1578.8 764.1,1565.9C765.3,1551.9 766.4,1530.5 767.6,1517.1C768.7,1503.7 769.8,1486.9 771.0,1482.9C771.7,1480.4 772.4,1478.0 773.2,1478.0C774.0,1478.0 774.8,1482.6 775.6,1487.8C776.6,1494.0 777.6,1520.8 778.5,1539.0C779.3,1554.2 780.2,1575.7 781.0,1587.8C781.9,1601.1 782.8,1619.5 783.7,1619.5C784.6,1619.5 785.6,1608.9 786.6,1600.0C787.4,1592.6 788.2,1575.6 789.0,1565.9C789.8,1556.1 790.7,1540.2 791.5,1540.2C792.3,1540.2 793.1,1545.6 793.9,1551.2C794.7,1556.8 795.5,1574.8 796.3,1587.8C797.2,1600.8 798.0,1625.3 798.8,1629.3C800.0,1635.2 801.2,1639.0 802.4,1639.0C803.4,1639.0 804.4,1625.9 805.4,1614.6C805.9,1609.0 806.3,1600.8 806.8,1590.2C807.6,1574.3 808.3,1537.3 809.0,1517.1C810.1,1487.9 811.1,1460.2 812.2,1443.9C813.3,1427.6 814.3,1411.1 815.4,1407.3C816.2,1404.4 817.0,1403.7 817.8,1402.0 M841.0,1402.0C842.0,1404.6 842.9,1405.7 843.9,1409.8C845.0,1414.2 846.0,1427.5 847.1,1441.5C848.3,1457.6 849.5,1490.2 850.7,1514.6C852.0,1539.0 853.2,1565.2 854.4,1587.8C855.6,1610.5 856.8,1643.8 858.0,1651.2C860.5,1666.0 862.9,1675.6 865.4,1675.6C867.4,1675.6 869.4,1665.0 871.5,1651.2C872.5,1644.1 873.6,1621.2 874.6,1602.4C875.6,1585.1 876.6,1561.4 877.6,1541.5C878.8,1516.6 880.0,1487.2 881.2,1468.3C882.4,1449.4 883.7,1430.3 884.9,1422.0C886.1,1413.6 887.3,1407.1 888.5,1404.9C889.3,1403.4 890.2,1402.9 891.0,1402.0" stroke="#1a1a1a"/>
<path d="M180.2,1385.4C181.7,1388.6 183.2,1393.0 184.6,1395.1C186.9,1398.4 189.2,1402.0 191.5,1402.0C193.3,1402.0 195.0,1400.6 196.8,1398.8C198.9,1396.8 200.9,1386.1 202.9,1378.0C205.0,1370.0 207.0,1356.4 209.0,1348.8C210.7,1342.7 212.3,1335.1 213.9,1333.7C215.1,1332.6 216.3,1331.7 217.6,1331.7C218.8,1331.7 220.0,1333.4 221.2,1335.4C222.8,1337.9 224.5,1350.1 226.1,1356.1C227.7,1362.1 229.3,1368.4 231.0,1372.0C232.6,1375.5 234.2,1380.0 235.9,1380.0C237.5,1380.0 239.1,1379.6 240.7,1379.3C242.8,1378.8 244.8,1377.5 246.8,1376.1C248.9,1374.7 250.9,1371.5 252.9,1369.5C255.0,1367.5 257.0,1366.5 259.0,1363.9C260.7,1361.8 262.3,1356.8 263.9,1353.7C264.9,1351.8 265.9,1348.3 266.8,1348.3C267.9,1348.3 268.9,1352.8 270.0,1356.1C271.5,1360.7 272.9,1371.2 274.4,1375.6C276.0,1380.5 277.6,1386.6 279.3,1386.6C280.4,1386.6 281.5,1386.6 282.7,1386.6C284.3,1386.6 285.9,1378.5 287.6,1373.2C288.9,1368.9 290.2,1360.0 291.5,1357.3C292.6,1354.9 293.7,1352.4 294.9,1352.4C295.9,1352.4 297.0,1356.0 298.0,1358.5C299.7,1362.4 301.3,1370.7 302.9,1374.4C304.6,1378.1 306.2,1380.8 307.8,1382.9C309.8,1385.5 311.9,1387.9 313.9,1389.0C315.9,1390.2 318.0,1391.5 320.0,1391.5C321.4,1391.5 322.8,1390.9 324.1,1390.2C326.0,1389.3 327.9,1384.6 329.8,1380.5C331.6,1376.3 333.5,1366.5 335.4,1363.4C336.9,1360.9 338.5,1358.0 340.0,1358.0C341.2,1358.0 342.4,1361.3 343.7,1363.4C345.8,1367.1 347.9,1374.5 350.0,1378.0C352.2,1381.7 354.4,1386.6 356.6,1386.6C358.0,1386.6 359.3,1383.3 360.7,1381.7C362.4,1379.8 364.0,1376.1 365.6,1376.1C367.2,1376.1 368.9,1379.6 370.5,1381.0C372.0,1382.2 373.4,1384.1 374.9,1384.1C376.7,1384.1 378.5,1380.2 380.2,1376.8C382.4,1372.9 384.5,1363.3 386.6,1357.3C387.7,1354.1 388.9,1348.3 390.0,1348.3C391.3,1348.3 392.6,1353.8 393.9,1357.3C395.5,1361.7 397.2,1368.4 398.8,1373.7C400.4,1378.9 402.0,1386.0 403.7,1389.0C405.3,1392.1 406.9,1395.6 408.5,1395.6C409.0,1395.6 409.5,1393.9 410.0,1392.7C411.2,1389.7 412.4,1384.6 413.7,1380.5C414.9,1376.4 416.1,1369.9 417.3,1368.3C418.3,1367.0 419.3,1365.9 420.2,1365.9C421.3,1365.9 422.4,1368.3 423.4,1368.3C424.6,1368.3 425.9,1364.0 427.1,1361.0C428.3,1357.9 429.5,1350.5 430.7,1348.8C431.8,1347.3 432.8,1345.9 433.9,1345.9C435.3,1345.9 436.7,1348.5 438.0,1350.0C439.7,1351.8 441.3,1353.1 442.9,1356.1C444.1,1358.4 445.4,1365.0 446.6,1368.3C448.2,1372.7 449.8,1378.5 451.5,1379.3C452.9,1380.0 454.4,1380.5 455.9,1380.5C457.2,1380.5 458.6,1376.8 460.0,1376.8C461.6,1376.8 463.3,1376.8 464.9,1376.8C466.5,1376.8 468.1,1380.5 469.8,1380.5C471.4,1380.5 473.0,1379.9 474.6,1379.3C476.3,1378.7 477.9,1377.0 479.5,1375.6C481.1,1374.2 482.8,1373.3 484.4,1370.7C485.6,1368.8 486.8,1362.8 488.0,1358.5C489.3,1354.3 490.5,1347.0 491.7,1345.1C492.5,1343.9 493.3,1342.7 494.1,1342.7C495.1,1342.7 496.1,1345.7 497.1,1348.8C498.3,1352.6 499.5,1366.2 500.7,1373.2C502.0,1380.6 503.3,1389.5 504.6,1392.7C505.6,1395.1 506.6,1397.6 507.6,1397.6C508.8,1397.6 510.0,1395.3 511.2,1392.7C512.4,1390.1 513.7,1380.1 514.9,1373.2C516.1,1366.3 517.3,1355.9 518.5,1351.2C519.8,1346.6 521.0,1341.0 522.2,1341.0C523.2,1341.0 524.1,1341.4 525.1,1342.0C526.4,1342.7 527.7,1350.3 529.0,1352.4C530.4,1354.7 531.8,1356.9 533.2,1357.3C534.8,1357.8 536.4,1357.6 538.0,1358.0C539.4,1358.4 540.8,1360.3 542.2,1362.2C543.7,1364.2 545.1,1368.9 546.6,1372.0C548.2,1375.4 549.8,1379.3 551.5,1381.7C552.8,1383.7 554.2,1386.6 555.6,1386.6C556.8,1386.6 558.0,1380.9 559.3,1376.8C560.7,1372.0 562.2,1361.6 563.7,1357.3C565.0,1353.3 566.4,1348.3 567.8,1348.3C568.9,1348.3 569.9,1352.3 571.0,1356.1C572.0,1359.9 573.1,1371.1 574.1,1378.0C575.1,1384.5 576.1,1393.7 577.1,1396.3C578.0,1399.0 579.0,1401.2 580.0,1401.5C581.1,1401.8 582.1,1401.8 583.2,1402.0 M673.7,1402.0C674.9,1399.7 676.1,1398.5 677.3,1395.1C678.6,1391.5 679.9,1382.1 681.2,1374.4C682.4,1367.2 683.7,1356.1 684.9,1350.0C686.1,1343.9 687.3,1337.7 688.5,1335.4C689.3,1333.8 690.2,1332.2 691.0,1332.2C692.0,1332.2 692.9,1335.0 693.9,1337.1C695.4,1340.2 696.8,1345.4 698.3,1351.2C699.5,1356.0 700.7,1365.4 702.0,1369.5C703.3,1374.2 704.7,1378.9 706.1,1380.0C707.3,1380.9 708.5,1381.7 709.8,1381.7C711.1,1381.7 712.5,1377.8 713.9,1376.1C715.6,1374.0 717.3,1370.2 719.0,1370.2C720.2,1370.2 721.5,1372.9 722.7,1375.1C723.9,1377.4 725.1,1382.4 726.3,1385.9C727.7,1389.7 729.1,1395.0 730.5,1397.1C732.0,1399.2 733.4,1401.1 734.9,1401.5C736.0,1401.7 737.2,1401.8 738.3,1402.0" stroke="#f01010"/>
<path d="M180.2,1404.9C181.3,1408.9 182.4,1413.3 183.4,1417.1C185.0,1422.8 186.7,1429.6 188.3,1432.9C189.9,1436.3 191.5,1440.2 193.2,1440.2C194.4,1440.2 195.6,1437.4 196.8,1435.4C198.3,1432.9 199.8,1427.3 201.2,1425.6C202.6,1424.0 204.0,1422.4 205.4,1422.4C206.6,1422.4 207.8,1426.3 209.0,1426.8C210.5,1427.5 212.0,1428.0 213.4,1428.0C214.6,1428.0 215.7,1426.8 216.8,1426.8C218.3,1426.8 219.8,1430.8 221.2,1432.9C223.3,1435.9 225.3,1439.4 227.3,1442.7C228.7,1444.9 230.1,1447.8 231.5,1449.3C232.3,1450.1 233.1,1451.2 233.9,1451.2C235.0,1451.2 236.0,1447.7 237.1,1445.1C238.1,1442.6 239.2,1435.7 240.2,1434.6C241.2,1433.7 242.2,1432.9 243.2,1432.9C244.4,1432.9 245.6,1436.9 246.8,1437.8C248.5,1439.0 250.1,1440.2 251.7,1440.2C253.7,1440.2 255.8,1438.5 257.8,1437.1C259.8,1435.6 261.9,1432.3 263.9,1430.5C265.5,1429.1 267.2,1426.8 268.8,1426.8C270.4,1426.8 272.0,1430.0 273.7,1431.7C275.0,1433.1 276.4,1436.1 277.8,1436.1C279.1,1436.1 280.4,1434.3 281.7,1432.9C283.1,1431.4 284.5,1427.2 285.9,1426.3C287.1,1425.6 288.3,1424.9 289.5,1424.9C291.0,1424.9 292.4,1429.3 293.9,1431.7C295.3,1434.0 296.7,1437.7 298.0,1439.0C299.3,1440.2 300.5,1441.5 301.7,1441.5C303.3,1441.5 305.0,1436.6 306.6,1433.7C308.6,1430.0 310.7,1423.3 312.7,1420.7C314.7,1418.1 316.7,1415.1 318.8,1415.1C320.4,1415.1 322.0,1415.4 323.7,1415.9C325.3,1416.3 326.9,1420.0 328.5,1420.0C329.8,1420.0 331.0,1418.0 332.2,1417.1C333.4,1416.2 334.6,1414.6 335.9,1414.6C336.9,1414.6 338.0,1419.0 339.0,1422.0C340.4,1425.8 341.8,1432.5 343.2,1436.6C344.8,1441.4 346.4,1445.2 348.0,1448.8C349.7,1452.4 351.3,1456.8 352.9,1458.5C354.6,1460.3 356.2,1462.2 357.8,1462.2C359.4,1462.2 361.1,1458.4 362.7,1456.1C364.7,1453.3 366.7,1448.1 368.8,1446.3C370.8,1444.6 372.8,1442.7 374.9,1442.7C376.5,1442.7 378.1,1443.2 379.8,1443.9C381.4,1444.6 383.0,1447.8 384.6,1449.3C386.0,1450.5 387.4,1452.4 388.8,1452.4C390.0,1452.4 391.2,1448.0 392.4,1447.6C393.5,1447.2 394.6,1446.8 395.6,1446.8C396.8,1446.8 398.0,1453.4 399.3,1456.1C400.5,1458.8 401.7,1463.4 402.9,1463.4C404.1,1463.4 405.4,1463.2 406.6,1462.9C407.7,1462.6 408.9,1457.9 410.0,1456.1C411.2,1454.1 412.4,1453.4 413.7,1451.2C414.9,1449.1 416.1,1444.9 417.3,1441.5C418.3,1438.7 419.3,1434.1 420.2,1432.9C421.3,1431.6 422.4,1430.5 423.4,1430.5C424.5,1430.5 425.5,1433.2 426.6,1435.4C427.7,1437.7 428.9,1443.8 430.0,1446.3C431.2,1449.0 432.4,1452.4 433.7,1452.4C434.9,1452.4 436.1,1448.3 437.3,1446.3C438.6,1444.2 439.9,1440.9 441.2,1440.2C442.6,1439.6 444.0,1439.0 445.4,1439.0C446.6,1439.0 447.8,1441.3 449.0,1442.7C450.7,1444.5 452.3,1447.4 453.9,1448.8C455.4,1450.0 456.8,1451.7 458.3,1451.7C459.7,1451.7 461.1,1448.4 462.4,1447.6C463.8,1446.8 465.2,1445.9 466.6,1445.9C467.9,1445.9 469.2,1448.5 470.5,1450.0C471.9,1451.6 473.3,1455.6 474.6,1455.6C475.7,1455.6 476.7,1454.7 477.8,1453.7C478.9,1452.6 480.1,1449.1 481.2,1446.3C482.3,1443.8 483.3,1439.1 484.4,1437.8C485.4,1436.5 486.5,1435.4 487.6,1435.4C488.5,1435.4 489.5,1439.6 490.5,1443.9C491.5,1448.2 492.4,1462.8 493.4,1470.7C494.3,1478.0 495.2,1487.9 496.1,1490.2C496.8,1492.2 497.6,1493.9 498.3,1493.9C499.1,1493.9 499.9,1489.4 500.7,1485.4C501.8,1480.1 502.8,1465.0 503.9,1456.1C505.0,1447.2 506.0,1436.2 507.1,1431.7C508.0,1427.6 509.0,1423.2 510.0,1423.2C511.0,1423.2 512.0,1424.5 512.9,1425.6C514.2,1427.1 515.5,1431.4 516.8,1434.1C518.2,1437.1 519.6,1441.3 521.0,1442.7C522.2,1443.9 523.4,1445.1 524.6,1445.1C525.6,1445.1 526.6,1441.7 527.6,1439.0C528.6,1436.2 529.7,1430.2 530.7,1426.8C531.8,1423.5 532.8,1419.6 533.9,1418.3C535.5,1416.3 537.2,1416.0 538.8,1414.6C540.4,1413.3 542.0,1411.7 543.7,1410.2C545.3,1408.8 546.9,1407.4 548.5,1406.1C550.2,1404.8 551.8,1402.5 553.4,1402.4C616.7,1402.0 680.1,1402.0 743.4,1402.0C745.0,1402.0 746.7,1403.6 748.3,1404.9C749.9,1406.1 751.5,1408.9 753.2,1410.2C755.2,1411.9 757.2,1414.1 759.3,1414.1C760.9,1414.1 762.5,1412.8 764.1,1411.7C765.8,1410.7 767.4,1408.3 769.0,1407.3C770.4,1406.5 771.8,1405.4 773.2,1405.4C774.6,1405.4 776.1,1406.8 777.6,1407.8C779.2,1408.9 780.8,1411.6 782.4,1412.2C784.1,1412.8 785.7,1413.4 787.3,1413.4C788.8,1413.4 790.2,1411.0 791.7,1411.0C793.1,1411.0 794.5,1412.6 795.9,1413.4C797.5,1414.4 799.1,1416.6 800.7,1416.6C802.4,1416.6 804.0,1414.9 805.6,1413.4C807.0,1412.2 808.4,1409.1 809.8,1407.3C811.2,1405.5 812.7,1402.9 814.1,1402.4C815.0,1402.2 815.8,1402.1 816.6,1402.0 M843.4,1402.0C844.6,1403.7 845.9,1404.9 847.1,1407.3C848.5,1410.0 849.8,1416.0 851.2,1419.5C852.7,1423.2 854.1,1427.6 855.6,1429.3C856.8,1430.7 858.0,1432.2 859.3,1432.2C860.9,1432.2 862.5,1430.5 864.1,1430.5C865.4,1430.5 866.6,1432.5 867.8,1433.7C869.0,1434.9 870.2,1437.8 871.5,1437.8C872.7,1437.8 873.9,1436.2 875.1,1434.6C876.3,1433.0 877.6,1427.9 878.8,1424.4C880.2,1420.4 881.5,1415.1 882.9,1412.2C884.4,1409.1 885.9,1406.4 887.3,1404.9C888.5,1403.6 889.8,1402.9 891.0,1402.0" stroke="#f01010"/>
<path d="M180.2,1395.1C181.7,1396.6 183.2,1398.6 184.6,1399.5C186.9,1400.9 189.2,1402.4 191.5,1402.4C193.7,1402.4 195.9,1400.5 198.0,1398.8C200.5,1396.9 202.9,1392.5 205.4,1389.0C207.8,1385.6 210.2,1380.7 212.7,1378.0C214.3,1376.2 215.9,1374.3 217.6,1373.7C218.9,1373.2 220.3,1372.7 221.7,1372.7C223.2,1372.7 224.6,1375.0 226.1,1376.8C227.7,1378.9 229.3,1384.0 231.0,1385.9C232.6,1387.7 234.2,1389.8 235.9,1389.8C237.9,1389.8 239.9,1389.4 242.0,1389.0C244.4,1388.6 246.8,1386.6 249.3,1384.9C251.3,1383.4 253.3,1381.6 255.4,1379.3C257.4,1376.9 259.4,1373.0 261.5,1369.5C262.7,1367.4 263.9,1364.2 265.1,1362.9C265.9,1362.0 266.7,1361.0 267.6,1361.0C268.5,1361.0 269.5,1365.7 270.5,1368.3C272.0,1372.2 273.4,1378.1 274.9,1381.0C276.5,1384.2 278.1,1388.3 279.8,1388.3C281.0,1388.3 282.2,1388.1 283.4,1387.8C284.8,1387.5 286.2,1380.3 287.6,1374.4C288.9,1368.8 290.2,1355.5 291.5,1350.0C292.6,1345.2 293.7,1339.0 294.9,1339.0C295.9,1339.0 297.0,1343.7 298.0,1347.6C299.3,1352.1 300.5,1364.8 301.7,1369.5C302.9,1374.2 304.1,1378.6 305.4,1380.0C307.0,1381.9 308.6,1381.9 310.2,1383.4C311.9,1384.9 313.5,1388.7 315.1,1389.8C317.2,1391.0 319.2,1392.2 321.2,1392.2C322.8,1392.2 324.5,1391.6 326.1,1390.7C327.7,1389.9 329.3,1384.6 331.0,1381.0C332.6,1377.4 334.2,1371.6 335.9,1368.8C337.3,1366.2 338.8,1362.9 340.2,1362.9C341.6,1362.9 343.0,1365.8 344.4,1367.8C346.4,1370.7 348.5,1376.1 350.5,1379.3C352.5,1382.4 354.6,1387.3 356.6,1387.3C358.2,1387.3 359.8,1383.8 361.5,1381.7C362.8,1379.9 364.2,1375.6 365.6,1375.6C367.1,1375.6 368.5,1378.6 370.0,1380.0C371.8,1381.7 373.6,1384.9 375.4,1384.9C377.2,1384.9 379.1,1381.5 381.0,1379.3C382.8,1377.0 384.7,1373.0 386.6,1370.7C387.8,1369.3 389.0,1367.1 390.2,1367.1C391.6,1367.1 393.0,1371.1 394.4,1373.7C396.4,1377.5 398.5,1384.8 400.5,1388.3C402.5,1391.8 404.6,1396.3 406.6,1396.3C407.6,1396.3 408.5,1396.2 409.5,1395.6C409.7,1395.5 409.8,1393.3 410.0,1392.7C411.0,1388.9 412.0,1387.6 412.9,1385.4C414.2,1382.3 415.5,1378.0 416.8,1376.8C418.2,1375.5 419.6,1374.4 421.0,1374.4C422.0,1374.4 423.1,1375.6 424.1,1375.6C425.1,1375.6 426.1,1370.3 427.1,1367.1C428.3,1363.0 429.5,1355.6 430.7,1352.4C431.8,1349.7 432.8,1346.3 433.9,1346.3C435.0,1346.3 436.2,1348.3 437.3,1350.0C438.8,1352.2 440.2,1358.2 441.7,1362.2C443.3,1366.7 445.0,1372.4 446.6,1375.6C448.0,1378.5 449.5,1382.4 451.0,1382.4C452.1,1382.4 453.3,1382.1 454.4,1381.7C455.9,1381.1 457.3,1374.4 458.8,1370.7C460.4,1366.7 462.0,1361.7 463.7,1358.5C465.3,1355.4 466.9,1352.0 468.5,1350.7C469.8,1349.8 471.0,1348.8 472.2,1348.8C473.3,1348.8 474.3,1352.9 475.4,1356.1C476.5,1359.5 477.6,1367.6 478.8,1370.7C480.0,1374.1 481.2,1378.0 482.4,1378.0C483.3,1378.0 484.2,1376.4 485.1,1374.4C486.1,1372.2 487.1,1362.0 488.0,1353.7C489.1,1344.7 490.2,1326.3 491.2,1319.5C492.2,1313.3 493.2,1306.1 494.1,1306.1C495.0,1306.1 495.8,1311.9 496.6,1317.1C497.6,1323.8 498.7,1342.6 499.8,1353.7C500.7,1363.9 501.7,1378.6 502.7,1381.7C503.7,1384.8 504.6,1387.3 505.6,1387.3C506.7,1387.3 507.7,1380.1 508.8,1373.2C509.8,1366.2 510.9,1348.1 512.0,1334.1C513.1,1319.1 514.2,1294.9 515.4,1285.4C516.4,1276.5 517.5,1267.9 518.5,1266.3C519.2,1265.4 519.8,1264.6 520.5,1264.6C521.3,1264.6 522.1,1272.0 522.9,1278.0C523.9,1285.3 524.9,1302.7 525.9,1312.2C526.9,1322.5 528.0,1335.5 529.0,1338.5C530.2,1341.8 531.3,1344.4 532.4,1344.4C533.5,1344.4 534.6,1341.2 535.6,1340.2C536.8,1339.2 538.0,1337.8 539.3,1337.8C540.3,1337.8 541.4,1339.9 542.4,1342.0C543.7,1344.3 544.9,1351.2 546.1,1356.1C547.5,1361.6 548.9,1368.7 550.2,1373.2C551.5,1377.1 552.7,1382.9 553.9,1382.9C555.0,1382.9 556.0,1381.8 557.1,1380.5C558.5,1378.8 559.8,1370.6 561.2,1365.9C562.4,1361.7 563.7,1354.7 564.9,1353.7C565.7,1353.0 566.5,1352.4 567.3,1352.4C568.4,1352.4 569.4,1358.4 570.5,1363.4C571.5,1368.1 572.4,1380.1 573.4,1385.4C574.5,1391.1 575.5,1397.0 576.6,1398.8C577.6,1400.5 578.5,1400.9 579.5,1402.0 M672.4,1402.0C673.7,1398.9 675.0,1397.7 676.3,1392.7C677.5,1388.3 678.6,1371.2 679.8,1358.5C681.1,1344.1 682.4,1324.7 683.7,1309.8C684.8,1296.6 685.9,1278.0 687.1,1273.2C688.1,1268.7 689.2,1264.6 690.2,1264.6C691.1,1264.6 691.9,1267.7 692.7,1270.7C693.7,1274.7 694.8,1288.9 695.9,1297.6C697.1,1307.6 698.3,1317.9 699.5,1326.8C700.9,1337.0 702.3,1349.0 703.7,1354.9C705.1,1361.1 706.6,1368.3 708.0,1368.3C709.0,1368.3 710.0,1368.1 711.0,1367.8C712.4,1367.4 713.9,1362.4 715.4,1360.5C716.6,1358.9 717.8,1356.6 719.0,1356.6C720.2,1356.6 721.5,1360.6 722.7,1363.9C723.9,1367.2 725.1,1374.6 726.3,1379.3C727.7,1384.6 729.1,1390.8 730.5,1393.9C732.0,1397.2 733.4,1400.3 734.9,1401.0C736.0,1401.5 737.2,1401.6 738.3,1402.0" stroke="#1010f0"/>
<path d="M180.2,1404.9C182.1,1406.3 184.0,1408.0 185.9,1409.3C187.9,1410.6 189.9,1412.7 192.0,1412.7C193.4,1412.7 194.9,1412.5 196.3,1412.2C198.1,1411.9 199.9,1409.4 201.7,1408.5C204.1,1407.4 206.6,1406.1 209.0,1406.1C211.5,1406.1 213.9,1406.6 216.3,1406.8C218.8,1407.0 221.2,1407.0 223.7,1407.3C225.7,1407.5 227.7,1408.6 229.8,1409.3C231.4,1409.8 233.0,1411.0 234.6,1411.0C236.7,1411.0 238.7,1407.8 240.7,1407.8C243.2,1407.8 245.6,1408.3 248.0,1408.5C250.5,1408.8 252.9,1409.3 255.4,1409.3C257.8,1409.3 260.2,1407.6 262.7,1407.3C265.1,1407.1 267.6,1406.8 270.0,1406.8C272.4,1406.8 274.9,1409.0 277.3,1409.3C279.3,1409.5 281.4,1409.8 283.4,1409.8C285.4,1409.8 287.5,1407.3 289.5,1407.3C291.5,1407.3 293.6,1409.2 295.6,1410.2C297.6,1411.3 299.7,1413.4 301.7,1413.4C303.7,1413.4 305.8,1411.2 307.8,1410.2C310.2,1409.1 312.7,1407.6 315.1,1407.3C317.6,1407.0 320.0,1406.8 322.4,1406.8C324.5,1406.8 326.5,1407.8 328.5,1407.8C330.6,1407.8 332.6,1406.8 334.6,1406.8C336.3,1406.8 337.9,1407.7 339.5,1408.5C341.5,1409.6 343.6,1413.4 345.6,1415.9C347.6,1418.3 349.7,1421.4 351.7,1423.2C353.7,1424.9 355.8,1427.3 357.8,1427.3C359.0,1427.3 360.2,1427.1 361.5,1426.8C363.1,1426.4 364.7,1422.1 366.3,1420.0C368.0,1417.9 369.6,1415.1 371.2,1414.1C372.8,1413.2 374.5,1412.2 376.1,1412.2C378.1,1412.2 380.2,1414.5 382.2,1415.1C384.2,1415.8 386.3,1416.6 388.3,1416.6C389.9,1416.6 391.5,1414.0 393.2,1413.4C394.8,1412.8 396.4,1412.2 398.0,1412.2C399.7,1412.2 401.3,1414.1 402.9,1414.1C405.0,1414.1 407.0,1414.0 409.0,1413.4C409.3,1413.3 409.7,1412.5 410.0,1412.2C411.6,1410.9 413.3,1410.6 414.9,1409.8C416.9,1408.8 418.9,1407.3 421.0,1406.8C422.6,1406.5 424.2,1406.1 425.9,1406.1C427.5,1406.1 429.1,1408.7 430.7,1409.3C432.0,1409.7 433.2,1410.2 434.4,1410.2C436.0,1410.2 437.6,1407.5 439.3,1407.3C441.7,1407.0 444.1,1406.8 446.6,1406.8C449.0,1406.8 451.5,1407.3 453.9,1407.3C457.2,1407.3 460.4,1407.0 463.7,1406.8C466.9,1406.6 470.2,1406.3 473.4,1406.1C476.7,1405.9 479.9,1405.4 483.2,1405.4C486.4,1405.4 489.7,1405.7 492.9,1406.1C495.0,1406.4 497.0,1408.5 499.0,1408.5C500.7,1408.5 502.3,1406.6 503.9,1406.1C506.7,1405.3 509.6,1404.7 512.4,1404.4C517.3,1403.9 522.2,1403.7 527.1,1403.4C532.0,1403.1 536.8,1402.7 541.7,1402.4C546.6,1402.2 551.5,1402.1 556.3,1402.0 M742.2,1402.0C743.2,1403.3 744.1,1403.8 745.1,1406.1C746.1,1408.4 747.1,1415.9 748.0,1424.4C749.0,1432.9 750.0,1451.5 751.0,1465.9C752.0,1481.4 753.1,1501.8 754.1,1514.6C755.2,1527.4 756.3,1541.8 757.3,1546.3C758.1,1549.8 758.9,1553.2 759.8,1553.2C760.6,1553.2 761.4,1551.2 762.2,1548.8C763.2,1545.9 764.1,1531.5 765.1,1522.0C766.3,1510.0 767.6,1492.4 768.8,1482.9C769.8,1474.7 770.9,1465.7 772.0,1463.4C772.5,1462.2 773.1,1461.0 773.7,1461.0C774.5,1461.0 775.3,1465.7 776.1,1470.7C777.2,1477.3 778.2,1505.5 779.3,1522.0C780.1,1534.6 780.9,1551.6 781.7,1558.5C782.5,1565.5 783.3,1573.2 784.1,1573.2C785.0,1573.2 785.8,1568.5 786.6,1563.4C787.4,1558.4 788.2,1537.2 789.0,1529.3C789.8,1521.3 790.7,1511.0 791.5,1511.0C792.3,1511.0 793.1,1516.3 793.9,1522.0C794.7,1527.6 795.5,1547.7 796.3,1558.5C797.2,1569.4 798.0,1580.0 798.8,1587.8C799.6,1595.6 800.4,1604.7 801.2,1607.3C802.0,1609.9 802.8,1612.2 803.7,1612.2C804.5,1612.2 805.3,1605.4 806.1,1597.6C806.9,1589.8 807.7,1558.9 808.5,1539.0C809.5,1515.1 810.5,1485.4 811.5,1465.9C812.4,1446.3 813.4,1425.0 814.4,1417.1C815.2,1410.5 816.0,1404.9 816.8,1403.7C817.5,1402.7 818.1,1402.5 818.8,1402.0 M841.0,1402.0C842.0,1404.1 842.9,1405.2 843.9,1408.5C845.0,1412.1 846.0,1422.0 847.1,1431.7C848.3,1442.9 849.5,1462.2 850.7,1478.0C852.0,1493.9 853.2,1513.8 854.4,1526.8C855.5,1539.0 856.7,1554.5 857.8,1557.3C858.6,1559.3 859.4,1561.0 860.2,1561.0C861.5,1561.0 862.8,1550.0 864.1,1550.0C865.1,1550.0 866.1,1555.5 867.1,1558.5C868.3,1562.3 869.5,1570.7 870.7,1570.7C871.5,1570.7 872.4,1567.2 873.2,1563.4C874.2,1558.5 875.3,1540.7 876.3,1526.8C877.6,1510.8 878.8,1486.6 880.0,1470.7C881.2,1454.8 882.4,1438.1 883.7,1429.3C884.9,1420.4 886.1,1413.7 887.3,1409.8C888.3,1406.6 889.3,1403.7 890.2,1402.9C890.9,1402.4 891.5,1402.3 892.2,1402.0" stroke="#1010f0"/>
<path d="M180.2,1402.0C185.0,1401.6 189.7,1401.5 194.4,1401.0C197.6,1400.6 200.9,1398.8 204.1,1398.8C207.4,1398.8 210.7,1399.5 213.9,1399.5C217.2,1399.5 220.4,1397.6 223.7,1397.6C226.9,1397.6 230.2,1399.0 233.4,1399.0C236.7,1399.0 239.9,1398.0 243.2,1398.0C246.4,1398.0 249.7,1399.5 252.9,1399.5C256.2,1399.5 259.4,1398.5 262.7,1398.5C265.9,1398.5 269.2,1399.9 272.4,1400.5C275.7,1401.0 278.9,1402.0 282.2,1402.0C331.3,1402.0 380.4,1401.8 429.5,1400.5C432.0,1400.4 434.4,1399.0 436.8,1397.6C438.5,1396.6 440.1,1394.7 441.7,1392.7C442.9,1391.1 444.1,1388.4 445.4,1386.6C446.2,1385.4 447.0,1383.4 447.8,1383.4C448.9,1383.4 449.9,1387.0 451.0,1389.0C452.4,1391.6 453.7,1395.6 455.1,1397.6C456.3,1399.3 457.6,1401.2 458.8,1401.5C460.0,1401.8 461.2,1401.8 462.4,1402.0" stroke="#ff30ff"/>
<path d="M180.2,1402.0C186.6,1402.6 192.9,1402.9 199.3,1403.9C202.5,1404.4 205.8,1406.8 209.0,1406.8C212.3,1406.8 215.5,1404.4 218.8,1404.4C222.0,1404.4 225.3,1407.3 228.5,1407.3C231.8,1407.3 235.0,1405.3 238.3,1404.9C241.5,1404.4 244.8,1404.2 248.0,1403.9C252.9,1403.5 257.8,1403.3 262.7,1402.9C266.7,1402.6 270.8,1402.0 274.9,1402.0C327.2,1402.0 379.6,1402.0 432.0,1402.4C432.8,1402.4 433.6,1402.7 434.4,1402.9C436.0,1403.4 437.6,1405.3 439.3,1407.3C440.7,1409.1 442.2,1413.7 443.7,1415.9C444.6,1417.3 445.6,1419.5 446.6,1419.5C447.6,1419.5 448.5,1417.4 449.5,1415.9C450.8,1413.8 452.1,1409.4 453.4,1407.3C454.6,1405.5 455.7,1403.5 456.8,1402.9C457.9,1402.4 458.9,1402.3 460.0,1402.0" stroke="#ff30ff"/>
<path d="M181.0,1401.9C458.0,1401.9 735.0,1401.9 1012.0,1401.9" stroke="#ffff00" stroke-width="3.2"/>
</g>
<g clip-path="url(#c4)" fill="none" stroke-width="2.8" stroke-linejoin="round" stroke-linecap="round">
<path d="M180.2,1753.5C181.3,1760.0 182.4,1767.7 183.4,1773.0C185.0,1781.3 186.7,1790.6 188.3,1793.8C189.9,1796.9 191.5,1799.9 193.2,1799.9C194.8,1799.9 196.4,1798.5 198.0,1796.2C199.7,1794.0 201.3,1772.1 202.9,1756.0C204.6,1739.8 206.2,1714.0 207.8,1695.0C209.4,1676.0 211.1,1654.7 212.7,1641.3C213.9,1631.3 215.1,1619.7 216.3,1617.0C217.4,1614.6 218.5,1612.6 219.5,1612.6C220.5,1612.6 221.5,1614.6 222.4,1617.0C223.5,1619.5 224.6,1629.9 225.6,1638.9C226.8,1649.3 228.0,1667.4 229.3,1680.4C230.4,1692.5 231.5,1705.0 232.7,1714.5C233.6,1722.0 234.5,1731.1 235.4,1734.0C236.3,1737.2 237.3,1740.1 238.3,1740.1C239.5,1740.1 240.7,1739.5 242.0,1738.9C243.6,1738.0 245.2,1734.7 246.8,1731.6C248.0,1729.2 249.3,1725.7 250.5,1721.8C251.7,1717.9 252.9,1711.4 254.1,1707.2C255.4,1703.0 256.6,1699.7 257.8,1696.2C259.0,1692.8 260.2,1691.4 261.5,1686.5C262.5,1682.2 263.6,1668.4 264.6,1660.9C265.4,1655.0 266.3,1645.0 267.1,1645.0C267.9,1645.0 268.7,1650.7 269.5,1656.0C270.5,1662.3 271.5,1680.9 272.4,1692.6C273.7,1707.1 274.9,1724.5 276.1,1734.0C277.3,1743.6 278.5,1752.4 279.8,1756.0C280.6,1758.3 281.4,1760.9 282.2,1760.9C283.3,1760.9 284.3,1757.4 285.4,1753.5C286.6,1749.1 287.8,1732.3 289.0,1719.4C290.4,1704.7 291.8,1680.7 293.2,1668.2C294.4,1657.1 295.6,1641.8 296.8,1641.8C297.8,1641.8 298.8,1649.3 299.8,1656.0C301.1,1664.9 302.4,1690.7 303.7,1704.8C304.6,1715.3 305.6,1728.6 306.6,1732.8C307.8,1738.0 309.0,1738.8 310.2,1742.6C311.5,1746.3 312.7,1753.2 313.9,1756.0C315.1,1758.8 316.3,1761.0 317.6,1762.1C319.2,1763.5 320.8,1765.0 322.4,1765.0C323.7,1765.0 324.9,1764.1 326.1,1762.8C327.3,1761.5 328.5,1753.8 329.8,1747.4C331.4,1738.9 333.0,1723.9 334.6,1712.1C336.0,1702.0 337.4,1686.3 338.8,1681.6C339.8,1678.0 340.9,1674.3 342.0,1674.3C343.0,1674.3 344.1,1679.9 345.1,1684.0C346.5,1689.4 347.9,1698.9 349.3,1707.2C350.9,1716.9 352.5,1730.5 354.1,1738.9C355.4,1745.2 356.6,1754.8 357.8,1754.8C359.0,1754.8 360.2,1747.4 361.5,1742.6C362.7,1737.7 363.9,1725.3 365.1,1724.3C365.9,1723.6 366.7,1723.0 367.6,1723.0C368.8,1723.0 370.0,1733.0 371.2,1736.5C372.8,1741.1 374.5,1747.4 376.1,1747.4C377.5,1747.4 378.9,1743.4 380.2,1738.9C381.7,1734.2 383.2,1716.5 384.6,1704.8C385.9,1694.9 387.1,1680.9 388.3,1674.3C389.3,1668.5 390.4,1661.3 391.5,1661.3C392.4,1661.3 393.4,1670.2 394.4,1676.7C395.6,1684.8 396.8,1702.3 398.0,1710.9C399.3,1719.5 400.5,1723.5 401.7,1731.6C402.9,1739.7 404.1,1753.7 405.4,1760.9C407.0,1770.3 408.6,1782.8 410.2,1782.8C411.4,1782.8 412.5,1774.7 413.7,1767.4C414.9,1759.6 416.1,1735.3 417.3,1726.0C418.3,1718.5 419.3,1708.9 420.2,1708.9C421.3,1708.9 422.4,1710.1 423.4,1710.1C424.5,1710.1 425.5,1706.2 426.6,1701.6C427.6,1697.3 428.5,1678.9 429.5,1669.9C430.7,1658.6 432.0,1644.3 433.2,1640.6C434.2,1637.4 435.3,1634.5 436.3,1634.5C437.3,1634.5 438.3,1639.6 439.3,1643.0C440.5,1647.4 441.7,1653.7 442.9,1660.1C444.1,1666.5 445.4,1672.9 446.6,1682.1C447.8,1691.2 449.0,1708.7 450.2,1718.7C451.3,1727.3 452.4,1738.8 453.4,1740.6C454.2,1742.0 455.0,1743.0 455.9,1743.0C456.8,1743.0 457.8,1737.1 458.8,1733.3C460.0,1728.6 461.2,1719.4 462.4,1716.2C464.1,1712.0 465.7,1708.9 467.3,1707.7C468.9,1706.4 470.6,1705.2 472.2,1705.2C473.8,1705.2 475.4,1707.0 477.1,1708.9C478.5,1710.5 479.8,1716.1 481.2,1718.7C482.3,1720.6 483.3,1723.5 484.4,1723.5C485.4,1723.5 486.5,1714.0 487.6,1704.0C488.5,1694.8 489.5,1662.1 490.5,1645.5C491.3,1631.6 492.1,1612.4 492.9,1608.9C493.7,1605.4 494.6,1602.8 495.4,1602.8C496.2,1602.8 497.0,1606.6 497.8,1611.3C498.8,1617.0 499.8,1649.0 500.7,1669.9C501.8,1692.5 502.8,1725.4 503.9,1743.0C505.0,1760.7 506.0,1781.0 507.1,1784.5C507.9,1787.2 508.7,1789.4 509.5,1789.4C510.5,1789.4 511.5,1761.3 512.4,1743.0C513.7,1720.2 514.9,1685.2 516.1,1657.7C516.9,1639.3 517.7,1617.3 518.5,1604.0C519.3,1590.7 520.2,1579.0 521.0,1572.3C521.8,1565.6 522.6,1557.7 523.4,1557.7C524.2,1557.7 525.0,1565.6 525.9,1572.3C526.7,1579.0 527.5,1590.0 528.3,1604.0C528.9,1613.8 529.4,1639.5 530.0,1645.5C531.1,1656.5 532.1,1665.0 533.2,1665.0C534.4,1665.0 535.6,1661.7 536.8,1660.1C538.0,1658.5 539.3,1655.2 540.5,1655.2C541.5,1655.2 542.6,1658.9 543.7,1662.6C545.0,1667.3 546.4,1682.9 547.8,1694.3C549.4,1707.7 551.1,1727.4 552.7,1738.2C553.9,1746.2 555.1,1757.7 556.3,1757.7C557.6,1757.7 558.8,1750.3 560.0,1743.0C561.4,1734.9 562.8,1707.8 564.1,1694.3C565.2,1683.9 566.3,1669.3 567.3,1667.4C568.1,1666.0 568.9,1665.0 569.8,1665.0C570.6,1665.0 571.4,1674.4 572.2,1682.1C573.3,1692.1 574.3,1713.5 575.4,1730.9C576.3,1746.8 577.3,1773.0 578.3,1782.1C579.1,1789.7 579.9,1796.6 580.7,1797.9C581.7,1799.5 582.7,1799.7 583.7,1800.6 M674.4,1800.6C675.6,1797.5 676.8,1796.5 678.0,1791.3C679.1,1786.9 680.2,1771.5 681.2,1754.8C682.2,1739.3 683.2,1706.0 684.1,1681.6C685.1,1657.2 686.1,1627.1 687.1,1608.4C688.1,1588.2 689.2,1569.6 690.2,1559.6C691.5,1548.2 692.7,1535.2 693.9,1535.2C695.1,1535.2 696.3,1557.9 697.6,1571.8C698.4,1581.1 699.2,1590.2 700.0,1603.5C700.8,1616.8 701.6,1642.4 702.4,1657.2C703.5,1676.5 704.6,1695.0 705.6,1706.0C706.6,1716.1 707.6,1727.0 708.5,1729.1C709.5,1731.3 710.5,1732.8 711.5,1732.8C712.5,1732.8 713.6,1727.0 714.6,1723.0C715.7,1719.1 716.7,1711.0 717.8,1708.4C718.8,1706.0 719.8,1703.5 720.7,1703.5C721.7,1703.5 722.7,1708.9 723.7,1713.3C725.0,1719.2 726.3,1732.4 727.6,1742.6C728.9,1753.4 730.3,1768.5 731.7,1776.7C732.9,1783.9 734.1,1790.8 735.4,1793.8C736.6,1796.8 737.8,1799.5 739.0,1799.9C740.7,1800.3 742.3,1800.4 743.9,1800.6 M925.1,1800.5C925.8,1799.6 926.4,1799.4 927.1,1797.9C927.8,1796.4 928.5,1788.4 929.2,1783.2C930.3,1775.2 931.3,1766.1 932.4,1757.3C933.6,1747.4 934.8,1737.0 936.0,1727.1C936.5,1722.7 937.1,1714.1 937.6,1714.1C938.1,1714.1 938.7,1722.8 939.2,1727.1C940.4,1737.1 941.7,1747.1 942.9,1757.3C943.9,1765.8 945.0,1775.4 946.0,1783.2C946.7,1788.5 947.4,1796.4 948.1,1797.9C948.8,1799.4 949.4,1799.6 950.1,1800.5" stroke="#1a1a1a"/>
<path d="M180.2,1801.8C181.3,1810.9 182.4,1819.4 183.4,1829.1C184.6,1840.4 185.9,1854.9 187.1,1865.7C188.3,1876.6 189.5,1889.4 190.7,1895.0C192.0,1900.6 193.2,1906.7 194.4,1906.7C195.6,1906.7 196.8,1900.6 198.0,1895.0C199.3,1889.4 200.5,1873.5 201.7,1865.7C202.9,1857.9 204.1,1849.8 205.4,1846.2C206.6,1842.7 207.8,1838.9 209.0,1838.9C210.0,1838.9 211.0,1844.9 212.0,1848.7C213.0,1852.7 214.1,1858.8 215.1,1863.3C216.3,1868.5 217.6,1875.1 218.8,1877.9C220.0,1880.8 221.2,1884.0 222.4,1884.0C224.1,1884.0 225.7,1882.8 227.3,1882.8C228.4,1882.8 229.4,1889.7 230.5,1895.0C231.3,1899.1 232.1,1908.9 232.9,1912.1C233.5,1914.3 234.1,1917.0 234.6,1917.0C235.7,1917.0 236.7,1910.0 237.8,1904.8C238.9,1899.1 240.1,1885.3 241.2,1880.4C242.1,1876.5 243.0,1871.8 243.9,1871.8C244.9,1871.8 245.9,1878.7 246.8,1881.6C248.0,1885.2 249.3,1891.3 250.5,1891.3C252.1,1891.3 253.7,1888.1 255.4,1886.5C257.4,1884.4 259.4,1883.5 261.5,1880.4C263.1,1877.9 264.7,1869.7 266.3,1865.7C267.7,1862.4 269.1,1857.2 270.5,1857.2C271.5,1857.2 272.6,1859.0 273.7,1860.9C274.9,1863.0 276.1,1871.8 277.3,1874.3C278.3,1876.2 279.3,1878.4 280.2,1878.4C281.3,1878.4 282.4,1871.8 283.4,1868.2C284.6,1864.0 285.9,1856.4 287.1,1854.8C288.0,1853.5 289.0,1852.3 290.0,1852.3C291.1,1852.3 292.1,1856.5 293.2,1859.6C294.4,1863.3 295.6,1870.5 296.8,1875.5C298.3,1881.5 299.8,1892.6 301.2,1892.6C302.4,1892.6 303.5,1886.7 304.6,1882.8C306.3,1877.2 307.9,1867.4 309.5,1860.9C311.5,1852.7 313.6,1843.9 315.6,1838.9C317.3,1834.7 319.0,1829.1 320.7,1829.1C322.0,1829.1 323.2,1830.4 324.4,1831.6C326.0,1833.1 327.6,1840.1 329.3,1840.1C330.5,1840.1 331.7,1837.0 332.9,1835.2C334.3,1833.2 335.7,1828.7 337.1,1828.7C337.9,1828.7 338.7,1833.8 339.5,1837.7C340.6,1842.7 341.6,1852.8 342.7,1859.6C343.8,1867.0 345.0,1874.7 346.1,1880.4C347.6,1887.7 349.0,1891.6 350.5,1898.7C351.7,1904.5 352.9,1915.0 354.1,1919.4C355.4,1923.8 356.6,1929.1 357.8,1929.1C359.0,1929.1 360.2,1928.0 361.5,1926.7C363.1,1924.9 364.7,1914.9 366.3,1909.6C368.4,1903.0 370.4,1894.8 372.4,1891.3C374.5,1887.9 376.5,1884.0 378.5,1884.0C379.8,1884.0 381.0,1885.9 382.2,1887.7C383.7,1889.8 385.1,1897.2 386.6,1899.9C387.7,1902.0 388.9,1904.8 390.0,1904.8C391.1,1904.8 392.1,1898.3 393.2,1896.2C394.2,1894.2 395.3,1891.3 396.3,1891.3C397.3,1891.3 398.3,1899.4 399.3,1903.5C400.5,1908.7 401.7,1916.8 402.9,1919.4C403.7,1921.1 404.6,1923.0 405.4,1923.0C407.0,1923.0 408.6,1918.9 410.2,1915.7C411.4,1913.5 412.5,1910.4 413.7,1906.5C414.9,1902.3 416.1,1895.8 417.3,1889.4C418.5,1883.0 419.8,1872.8 421.0,1867.4C422.0,1862.8 423.1,1856.5 424.1,1856.5C425.0,1856.5 425.8,1857.6 426.6,1858.9C427.7,1860.8 428.9,1871.3 430.0,1877.2C431.1,1882.7 432.1,1890.1 433.2,1893.0C434.2,1896.0 435.3,1899.1 436.3,1899.1C437.3,1899.1 438.3,1893.2 439.3,1889.4C440.5,1884.7 441.7,1875.0 442.9,1872.3C444.1,1869.6 445.4,1867.0 446.6,1867.0C447.8,1867.0 449.0,1871.6 450.2,1874.8C451.9,1879.0 453.5,1887.3 455.1,1891.8C456.3,1895.2 457.6,1900.4 458.8,1900.4C460.0,1900.4 461.2,1896.0 462.4,1893.0C463.7,1890.1 464.9,1883.1 466.1,1882.1C466.9,1881.4 467.7,1880.9 468.5,1880.9C469.8,1880.9 471.0,1886.2 472.2,1889.4C473.4,1892.6 474.6,1899.7 475.9,1900.4C476.7,1900.8 477.5,1901.1 478.3,1901.1C479.5,1901.1 480.7,1892.1 482.0,1887.0C483.2,1881.8 484.4,1872.9 485.6,1869.9C486.8,1866.9 488.0,1863.8 489.3,1863.8C490.3,1863.8 491.4,1871.5 492.4,1879.6C493.4,1887.1 494.4,1909.7 495.4,1926.0C496.2,1939.5 497.0,1963.1 497.8,1968.7C498.5,1973.1 499.1,1977.2 499.8,1977.2C500.6,1977.2 501.4,1966.7 502.2,1957.7C503.2,1946.8 504.1,1919.0 505.1,1901.6C506.1,1884.2 507.1,1859.4 508.0,1852.8C509.1,1845.6 510.2,1839.4 511.2,1839.4C512.0,1839.4 512.8,1839.9 513.7,1840.6C514.9,1841.6 516.1,1848.7 517.3,1852.8C518.8,1857.7 520.2,1864.5 521.7,1867.4C523.1,1870.2 524.5,1873.5 525.9,1873.5C526.9,1873.5 528.0,1867.6 529.0,1862.6C530.0,1857.9 531.0,1846.0 532.0,1840.6C533.2,1833.8 534.4,1826.2 535.6,1824.8C536.8,1823.3 538.0,1823.4 539.3,1822.3C540.9,1820.9 542.5,1818.4 544.1,1816.2C545.8,1814.0 547.4,1811.0 549.0,1808.9C550.7,1806.8 552.3,1804.9 553.9,1803.5C555.1,1802.5 556.3,1801.1 557.6,1801.1C619.7,1800.6 681.8,1800.6 743.9,1800.6C745.0,1800.6 746.0,1802.4 747.1,1804.8C747.9,1806.6 748.7,1812.8 749.5,1820.6C750.3,1828.4 751.1,1847.6 752.0,1864.5C752.9,1884.8 753.9,1919.5 754.9,1937.7C756.1,1960.4 757.3,1979.0 758.5,1991.3C759.3,1999.6 760.2,2010.9 761.0,2010.9C761.5,2010.9 762.1,2001.6 762.7,1996.2C763.7,1986.2 764.8,1974.6 765.9,1962.1C767.1,1947.6 768.3,1927.2 769.5,1913.3C770.6,1901.3 771.6,1885.3 772.7,1881.6C773.4,1879.0 774.1,1876.7 774.9,1876.7C775.7,1876.7 776.5,1881.4 777.3,1886.5C778.4,1893.1 779.4,1918.7 780.5,1937.7C781.3,1952.3 782.1,1974.9 782.9,1986.5C783.8,1999.1 784.7,2015.7 785.6,2015.7C786.6,2015.7 787.6,2005.1 788.5,1996.2C789.3,1988.8 790.2,1971.3 791.0,1962.1C791.8,1952.9 792.6,1938.9 793.4,1938.9C794.2,1938.9 795.0,1944.2 795.9,1949.9C796.7,1955.5 797.5,1973.9 798.3,1986.5C799.1,1999.1 799.9,2021.4 800.7,2025.5C801.9,2031.2 803.0,2035.2 804.1,2035.2C805.1,2035.2 806.1,2022.1 807.1,2010.9C807.6,2005.2 808.0,1996.7 808.5,1986.5C809.3,1969.4 810.2,1935.5 811.0,1913.3C812.0,1886.6 812.9,1854.9 813.9,1840.1C815.0,1824.1 816.0,1809.7 817.1,1806.0C817.9,1803.1 818.7,1802.4 819.5,1800.6 M842.7,1800.6C843.7,1803.2 844.6,1804.3 845.6,1808.4C846.7,1812.8 847.7,1826.1 848.8,1840.1C850.0,1856.3 851.2,1888.9 852.4,1913.3C853.7,1937.7 854.9,1964.3 856.1,1986.5C857.3,2008.6 858.5,2040.1 859.8,2047.4C862.2,2062.1 864.6,2071.8 867.1,2071.8C869.1,2071.8 871.1,2061.2 873.2,2047.4C874.2,2040.3 875.3,2017.4 876.3,1998.7C877.3,1981.4 878.3,1957.6 879.3,1937.7C880.5,1912.8 881.7,1882.8 882.9,1864.5C884.1,1846.2 885.4,1828.8 886.6,1820.6C887.8,1812.4 889.0,1805.8 890.2,1803.5C891.1,1802.0 891.9,1801.6 892.7,1800.6 M925.1,1800.5C925.8,1801.3 926.4,1801.6 927.1,1803.0C927.8,1804.5 928.5,1812.3 929.2,1817.4C930.3,1825.2 931.3,1834.1 932.4,1842.7C933.6,1852.4 934.8,1862.6 936.0,1872.2C936.5,1876.5 937.1,1884.8 937.6,1884.8C938.1,1884.8 938.7,1876.4 939.2,1872.2C940.4,1862.4 941.7,1852.7 942.9,1842.7C943.9,1834.4 945.0,1825.1 946.0,1817.4C946.7,1812.2 947.4,1804.5 948.1,1803.0C948.8,1801.6 949.4,1801.3 950.1,1800.5" stroke="#1a1a1a"/>
<path d="M180.2,1780.4C181.7,1784.4 183.2,1790.1 184.6,1792.6C186.7,1796.0 188.7,1799.9 190.7,1799.9C193.2,1799.9 195.6,1799.5 198.0,1798.7C200.1,1798.0 202.1,1785.1 204.1,1776.7C206.2,1768.3 208.2,1755.3 210.2,1747.4C211.9,1741.2 213.5,1733.6 215.1,1731.6C216.3,1730.1 217.6,1728.7 218.8,1728.7C220.0,1728.7 221.2,1730.3 222.4,1732.1C224.1,1734.5 225.7,1746.1 227.3,1752.3C228.9,1758.5 230.6,1765.7 232.2,1769.4C233.8,1773.0 235.4,1777.4 237.1,1777.4C238.7,1777.4 240.3,1777.4 242.0,1777.4C244.0,1777.4 246.0,1775.7 248.0,1774.3C250.1,1772.8 252.1,1769.1 254.1,1767.0C256.2,1764.8 258.2,1764.0 260.2,1761.3C261.9,1759.2 263.5,1754.3 265.1,1750.6C265.9,1748.8 266.7,1745.0 267.6,1745.0C268.6,1745.0 269.7,1750.1 270.7,1753.5C272.4,1758.8 274.0,1769.6 275.6,1774.3C277.2,1778.9 278.9,1784.8 280.5,1784.8C281.7,1784.8 282.9,1784.5 284.1,1784.0C285.8,1783.4 287.4,1775.8 289.0,1770.6C290.4,1766.2 291.8,1757.7 293.2,1754.8C294.2,1752.5 295.3,1749.9 296.3,1749.9C297.5,1749.9 298.6,1753.7 299.8,1756.5C301.2,1760.1 302.7,1768.3 304.1,1771.8C305.8,1775.8 307.4,1778.7 309.0,1780.9C311.1,1783.6 313.1,1786.0 315.1,1787.2C317.2,1788.4 319.2,1789.6 321.2,1789.6C322.8,1789.6 324.5,1789.0 326.1,1788.2C327.7,1787.3 329.3,1782.2 331.0,1778.4C333.0,1773.7 335.0,1764.7 337.1,1761.3C338.7,1758.6 340.3,1755.5 342.0,1755.5C343.2,1755.5 344.4,1759.0 345.6,1761.3C347.6,1765.2 349.7,1772.5 351.7,1776.0C353.7,1779.4 355.8,1784.0 357.8,1784.0C359.4,1784.0 361.1,1780.0 362.7,1778.4C364.3,1776.8 365.9,1774.3 367.6,1774.3C369.2,1774.3 370.8,1778.0 372.4,1779.1C373.9,1780.2 375.4,1781.6 376.8,1781.6C378.6,1781.6 380.4,1777.7 382.2,1774.3C384.2,1770.4 386.3,1760.4 388.3,1754.8C389.5,1751.4 390.7,1745.7 392.0,1745.7C393.2,1745.7 394.4,1751.3 395.6,1754.8C397.2,1759.4 398.9,1766.6 400.5,1771.8C402.1,1777.1 403.7,1783.2 405.4,1786.5C407.0,1789.7 408.6,1793.8 410.2,1793.8C411.4,1793.8 412.5,1788.2 413.7,1784.5C414.9,1780.6 416.1,1772.3 417.3,1769.9C418.5,1767.4 419.8,1765.0 421.0,1765.0C422.2,1765.0 423.4,1765.0 424.6,1765.0C425.9,1765.0 427.1,1760.6 428.3,1757.7C429.5,1754.8 430.7,1748.3 432.0,1746.7C433.2,1745.1 434.4,1743.5 435.6,1743.5C436.8,1743.5 438.0,1746.3 439.3,1747.9C440.9,1750.1 442.5,1752.2 444.1,1755.2C445.8,1758.3 447.4,1763.6 449.0,1767.4C450.7,1771.3 452.3,1777.5 453.9,1778.4C455.1,1779.1 456.3,1779.6 457.6,1779.6C458.8,1779.6 460.0,1776.5 461.2,1776.0C462.8,1775.3 464.5,1774.8 466.1,1774.8C467.7,1774.8 469.3,1777.8 471.0,1778.4C472.6,1779.0 474.2,1779.6 475.9,1779.6C477.5,1779.6 479.1,1777.5 480.7,1776.0C482.4,1774.5 484.0,1773.1 485.6,1769.9C486.8,1767.5 488.0,1759.7 489.3,1755.2C490.5,1750.8 491.7,1744.6 492.9,1743.0C493.7,1742.0 494.6,1741.1 495.4,1741.1C496.3,1741.1 497.3,1744.7 498.3,1747.9C499.6,1752.3 500.9,1764.6 502.2,1772.3C503.3,1779.1 504.5,1788.6 505.6,1791.8C506.7,1794.9 507.7,1797.9 508.8,1797.9C510.0,1797.9 511.2,1794.9 512.4,1791.8C513.7,1788.7 514.9,1779.2 516.1,1772.3C517.3,1765.4 518.5,1754.9 519.8,1750.4C521.0,1745.9 522.2,1740.6 523.4,1740.6C524.5,1740.6 525.5,1741.1 526.6,1741.8C527.7,1742.6 528.9,1748.3 530.0,1750.4C531.5,1753.0 532.9,1756.5 534.4,1756.5C536.0,1756.5 537.6,1756.5 539.3,1756.5C540.7,1756.5 542.2,1758.3 543.7,1760.1C545.0,1761.8 546.4,1766.9 547.8,1769.9C549.4,1773.4 551.1,1777.1 552.7,1779.6C554.1,1781.8 555.4,1785.0 556.8,1785.0C558.1,1785.0 559.4,1779.1 560.7,1774.8C562.1,1770.1 563.5,1759.2 564.9,1755.2C566.3,1751.3 567.6,1746.7 569.0,1746.7C570.1,1746.7 571.1,1751.1 572.2,1755.2C573.3,1759.3 574.3,1770.5 575.4,1777.2C576.3,1783.4 577.3,1791.2 578.3,1794.3C579.1,1796.8 579.9,1799.2 580.7,1799.6C581.7,1800.2 582.7,1800.3 583.7,1800.6 M675.6,1800.6C676.8,1798.3 678.0,1797.3 679.3,1793.8C680.5,1790.3 681.7,1779.5 682.9,1771.8C684.1,1764.1 685.4,1753.5 686.6,1747.4C687.8,1741.3 689.0,1735.0 690.2,1732.8C691.1,1731.4 691.9,1729.9 692.7,1729.9C693.7,1729.9 694.8,1732.9 695.9,1735.2C697.2,1738.3 698.6,1743.2 700.0,1748.7C701.2,1753.5 702.4,1762.8 703.7,1767.0C705.1,1771.9 706.6,1776.7 708.0,1777.9C709.2,1778.8 710.3,1779.6 711.5,1779.6C712.9,1779.6 714.4,1776.0 715.9,1774.3C717.5,1772.4 719.1,1768.9 720.7,1768.9C722.0,1768.9 723.2,1771.0 724.4,1773.0C725.6,1775.1 726.8,1780.7 728.0,1784.0C729.5,1788.0 731.0,1792.7 732.4,1795.0C733.8,1797.2 735.2,1799.4 736.6,1799.9C737.8,1800.3 739.0,1800.4 740.2,1800.6" stroke="#f01010"/>
<path d="M180.2,1802.3C181.3,1806.8 182.4,1811.4 183.4,1815.7C185.0,1822.4 186.7,1830.9 188.3,1835.2C189.9,1839.6 191.5,1845.0 193.2,1845.0C194.6,1845.0 195.9,1841.7 197.3,1838.9C198.8,1835.9 200.2,1827.4 201.7,1824.3C203.2,1821.2 204.6,1818.2 206.1,1817.4C207.1,1816.9 208.0,1816.5 209.0,1816.5C210.2,1816.5 211.5,1820.9 212.7,1823.0C214.3,1825.9 215.9,1829.7 217.6,1831.6C219.2,1833.5 220.8,1835.7 222.4,1836.0C224.1,1836.3 225.7,1836.1 227.3,1836.5C228.5,1836.7 229.8,1842.6 231.0,1845.0C232.0,1847.1 233.1,1850.6 234.1,1850.6C235.1,1850.6 236.1,1847.5 237.1,1845.0C238.1,1842.3 239.2,1834.2 240.2,1832.8C241.2,1831.5 242.2,1830.4 243.2,1830.4C244.4,1830.4 245.6,1835.0 246.8,1836.0C248.5,1837.2 250.1,1838.4 251.7,1838.4C253.7,1838.4 255.8,1837.1 257.8,1836.0C260.1,1834.7 262.4,1830.6 264.6,1828.7C266.4,1827.1 268.2,1824.8 270.0,1824.8C271.6,1824.8 273.3,1827.8 274.9,1829.6C276.3,1831.3 277.8,1835.2 279.3,1835.2C280.7,1835.2 282.0,1832.9 283.4,1831.1C284.6,1829.5 285.9,1825.3 287.1,1824.8C288.3,1824.2 289.5,1823.8 290.7,1823.8C292.1,1823.8 293.5,1827.4 294.9,1829.6C296.3,1832.1 297.8,1836.6 299.3,1838.4C300.3,1839.7 301.4,1841.3 302.4,1841.3C304.1,1841.3 305.7,1835.7 307.3,1832.8C309.5,1828.9 311.7,1823.6 313.9,1820.6C315.9,1817.8 318.0,1814.0 320.0,1814.0C321.6,1814.0 323.3,1814.0 324.9,1814.0C326.5,1814.0 328.1,1818.2 329.8,1818.2C331.0,1818.2 332.2,1815.9 333.4,1815.0C334.6,1814.1 335.9,1812.8 337.1,1812.8C338.1,1812.8 339.2,1817.6 340.2,1820.6C341.6,1824.6 343.0,1831.2 344.4,1835.2C346.0,1840.0 347.6,1843.8 349.3,1847.4C350.9,1851.1 352.5,1855.9 354.1,1857.2C355.8,1858.5 357.4,1859.6 359.0,1859.6C360.7,1859.6 362.3,1856.7 363.9,1854.8C365.9,1852.3 368.0,1846.8 370.0,1845.0C372.3,1843.0 374.6,1840.9 376.8,1840.9C378.5,1840.9 380.1,1841.7 381.7,1842.6C383.3,1843.5 385.0,1847.3 386.6,1848.7C387.8,1849.7 389.0,1851.1 390.2,1851.1C391.5,1851.1 392.7,1846.2 393.9,1845.7C395.0,1845.3 396.2,1845.0 397.3,1845.0C398.4,1845.0 399.4,1852.2 400.5,1854.8C401.7,1857.7 402.9,1862.1 404.1,1862.1C405.4,1862.1 406.6,1861.7 407.8,1861.3C408.5,1861.1 409.3,1860.7 410.0,1860.1C411.2,1859.2 412.4,1857.4 413.7,1855.2C414.9,1853.1 416.1,1848.9 417.3,1845.5C418.5,1842.0 419.8,1836.8 421.0,1834.5C422.2,1832.3 423.4,1829.6 424.6,1829.6C425.6,1829.6 426.6,1831.6 427.6,1833.3C428.6,1835.2 429.7,1840.5 430.7,1843.0C432.0,1846.0 433.2,1850.4 434.4,1850.4C435.6,1850.4 436.8,1847.2 438.0,1845.5C439.7,1843.2 441.3,1839.6 442.9,1838.2C444.1,1837.1 445.4,1835.7 446.6,1835.7C447.8,1835.7 449.0,1837.8 450.2,1839.4C451.9,1841.5 453.5,1847.0 455.1,1849.1C456.7,1851.3 458.4,1854.0 460.0,1854.0C461.4,1854.0 462.8,1850.5 464.1,1849.1C465.6,1847.7 467.1,1845.5 468.5,1845.5C469.8,1845.5 471.0,1847.6 472.2,1849.1C473.4,1850.7 474.6,1855.2 475.9,1855.2C476.8,1855.2 477.8,1855.0 478.8,1854.8C480.1,1854.4 481.4,1848.7 482.7,1845.5C483.8,1842.7 485.0,1838.3 486.1,1837.0C487.2,1835.7 488.2,1834.5 489.3,1834.5C490.3,1834.5 491.4,1840.1 492.4,1845.5C493.4,1850.4 494.4,1864.0 495.4,1872.3C496.2,1879.2 497.0,1889.0 497.8,1891.8C498.5,1894.1 499.1,1896.2 499.8,1896.2C500.6,1896.2 501.4,1891.5 502.2,1887.0C503.2,1881.5 504.1,1864.4 505.1,1855.2C506.1,1846.1 507.1,1834.9 508.0,1830.9C509.1,1826.5 510.2,1822.3 511.2,1822.3C512.3,1822.3 513.3,1823.6 514.4,1824.8C515.8,1826.3 517.2,1830.3 518.5,1833.3C519.8,1836.0 521.0,1840.6 522.2,1841.8C523.4,1843.1 524.6,1844.3 525.9,1844.3C526.9,1844.3 528.0,1841.0 529.0,1838.2C530.0,1835.6 531.0,1828.9 532.0,1826.0C533.2,1822.3 534.4,1818.9 535.6,1817.4C537.2,1815.5 538.9,1815.1 540.5,1813.8C542.1,1812.5 543.7,1810.8 545.4,1809.4C547.0,1808.0 548.6,1806.5 550.2,1805.2C551.9,1803.9 553.5,1802.2 555.1,1801.6C556.3,1801.1 557.6,1800.9 558.8,1800.6 M745.1,1800.6C746.7,1801.6 748.4,1802.3 750.0,1803.5C751.6,1804.8 753.3,1807.6 754.9,1808.9C756.9,1810.6 758.9,1812.8 761.0,1812.8C762.6,1812.8 764.2,1811.4 765.9,1810.4C767.5,1809.3 769.1,1807.0 770.7,1806.0C772.1,1805.1 773.5,1804.0 774.9,1804.0C776.3,1804.0 777.8,1805.5 779.3,1806.5C780.9,1807.6 782.5,1810.2 784.1,1810.9C785.8,1811.5 787.4,1812.1 789.0,1812.1C790.5,1812.1 792.0,1809.6 793.4,1809.6C794.8,1809.6 796.2,1811.2 797.6,1812.1C799.2,1813.1 800.8,1815.2 802.4,1815.2C804.1,1815.2 805.7,1813.6 807.3,1812.1C808.7,1810.8 810.1,1807.7 811.5,1806.0C812.9,1804.1 814.4,1801.6 815.9,1801.1C816.7,1800.8 817.5,1800.8 818.3,1800.6 M845.1,1800.6C846.3,1802.4 847.6,1803.6 848.8,1806.0C850.2,1808.7 851.5,1814.7 852.9,1818.2C854.4,1821.9 855.9,1825.7 857.3,1827.9C858.5,1829.8 859.8,1832.3 861.0,1832.3C862.6,1832.3 864.2,1830.4 865.9,1830.4C867.1,1830.4 868.3,1832.2 869.5,1833.3C870.7,1834.4 872.0,1837.2 873.2,1837.2C874.4,1837.2 875.6,1835.7 876.8,1834.0C878.0,1832.4 879.3,1826.7 880.5,1823.0C881.9,1818.9 883.3,1813.8 884.6,1810.9C886.1,1807.7 887.6,1805.1 889.0,1803.5C890.2,1802.2 891.5,1801.6 892.7,1800.6" stroke="#f01010"/>
<path d="M180.2,1791.3C181.7,1793.4 183.2,1796.3 184.6,1797.4C186.7,1799.0 188.7,1800.6 190.7,1800.6C193.2,1800.6 195.6,1800.3 198.0,1799.9C200.5,1799.4 202.9,1794.7 205.4,1791.3C207.8,1788.0 210.2,1782.7 212.7,1779.1C214.7,1776.2 216.7,1772.7 218.8,1771.1C220.2,1770.0 221.7,1768.7 223.2,1768.7C224.6,1768.7 225.9,1771.5 227.3,1773.5C228.9,1776.0 230.6,1782.2 232.2,1784.0C233.8,1785.8 235.4,1787.7 237.1,1787.7C239.1,1787.7 241.1,1787.5 243.2,1787.2C245.6,1786.9 248.0,1784.2 250.5,1782.3C252.5,1780.7 254.6,1779.1 256.6,1776.7C258.6,1774.3 260.7,1770.7 262.7,1767.0C263.7,1765.0 264.8,1761.9 265.9,1760.4C266.6,1759.3 267.3,1757.9 268.0,1757.9C269.1,1757.9 270.2,1762.9 271.2,1765.7C272.7,1769.6 274.1,1775.3 275.6,1778.4C277.2,1781.8 278.9,1786.5 280.5,1786.5C281.7,1786.5 282.9,1786.2 284.1,1785.7C285.8,1785.1 287.4,1778.1 289.0,1771.8C290.4,1766.5 291.8,1753.1 293.2,1747.4C294.4,1742.5 295.6,1736.0 296.8,1736.0C297.8,1736.0 298.8,1740.5 299.8,1744.3C301.0,1748.9 302.2,1762.0 303.4,1767.0C304.6,1771.9 305.9,1776.4 307.1,1777.9C308.7,1779.9 310.3,1780.1 312.0,1781.6C313.6,1783.1 315.2,1786.7 316.8,1787.7C318.9,1788.9 320.9,1790.1 322.9,1790.1C324.4,1790.1 325.9,1789.6 327.3,1788.9C328.9,1788.1 330.6,1782.8 332.2,1779.1C333.8,1775.5 335.4,1769.8 337.1,1767.0C338.7,1764.1 340.3,1760.4 342.0,1760.4C343.3,1760.4 344.7,1763.2 346.1,1765.2C348.0,1768.0 349.8,1773.6 351.7,1776.7C353.7,1780.1 355.8,1785.2 357.8,1785.2C359.4,1785.2 361.1,1781.2 362.7,1779.1C364.1,1777.3 365.6,1773.5 367.1,1773.5C368.5,1773.5 369.8,1776.6 371.2,1777.9C373.1,1779.7 375.0,1782.8 376.8,1782.8C378.6,1782.8 380.4,1778.9 382.2,1776.7C384.2,1774.2 386.3,1770.5 388.3,1768.2C389.5,1766.8 390.7,1764.5 392.0,1764.5C393.4,1764.5 394.9,1768.8 396.3,1771.8C398.1,1775.5 399.9,1783.3 401.7,1786.5C403.7,1790.1 405.8,1794.5 407.8,1794.5C409.0,1794.5 410.2,1794.3 411.5,1793.8C412.2,1793.5 412.9,1786.8 413.7,1784.5C414.9,1780.8 416.1,1777.1 417.3,1776.0C418.8,1774.6 420.2,1773.5 421.7,1773.5C422.8,1773.5 424.0,1774.8 425.1,1774.8C426.2,1774.8 427.2,1768.7 428.3,1765.0C429.5,1760.8 430.7,1753.2 432.0,1750.4C433.2,1747.5 434.4,1744.3 435.6,1744.3C436.8,1744.3 438.0,1747.0 439.3,1749.1C440.9,1752.0 442.5,1758.1 444.1,1762.6C445.8,1767.0 447.4,1772.6 449.0,1776.0C450.5,1779.0 452.0,1783.3 453.4,1783.3C454.4,1783.3 455.4,1782.7 456.3,1782.1C458.0,1781.0 459.6,1773.9 461.2,1769.9C462.8,1765.8 464.5,1760.9 466.1,1757.7C467.6,1754.8 469.0,1751.6 470.5,1750.4C471.6,1749.4 472.8,1748.4 473.9,1748.4C475.0,1748.4 476.0,1752.3 477.1,1755.2C478.3,1758.6 479.5,1766.3 480.7,1769.9C482.0,1773.5 483.2,1778.4 484.4,1778.4C485.2,1778.4 486.0,1777.4 486.8,1776.0C487.9,1774.2 488.9,1762.5 490.0,1752.8C491.0,1743.8 492.0,1723.0 492.9,1716.7C493.9,1710.5 494.9,1704.0 495.9,1704.0C496.7,1704.0 497.5,1709.3 498.3,1714.3C499.3,1720.7 500.4,1741.7 501.5,1752.8C502.5,1763.9 503.6,1779.1 504.6,1782.1C505.6,1784.8 506.6,1787.0 507.6,1787.0C508.5,1787.0 509.5,1779.2 510.5,1772.3C511.5,1764.8 512.6,1747.1 513.7,1733.3C514.9,1717.4 516.1,1693.9 517.3,1682.6C518.3,1673.5 519.3,1663.3 520.2,1661.8C520.9,1660.9 521.5,1660.1 522.2,1660.1C523.0,1660.1 523.8,1666.9 524.6,1672.8C525.6,1679.9 526.6,1699.1 527.6,1709.4C528.6,1720.5 529.7,1734.8 530.7,1738.2C531.8,1741.5 532.8,1744.3 533.9,1744.3C535.0,1744.3 536.2,1740.7 537.3,1739.4C538.6,1737.9 539.9,1735.7 541.2,1735.7C542.2,1735.7 543.2,1738.3 544.1,1740.6C545.4,1743.4 546.6,1750.3 547.8,1755.2C549.2,1760.9 550.6,1767.7 552.0,1772.3C553.3,1776.7 554.6,1783.3 555.9,1783.3C557.0,1783.3 558.1,1781.5 559.3,1779.6C560.6,1777.5 561.9,1769.8 563.2,1765.0C564.3,1760.8 565.4,1753.8 566.6,1752.8C567.4,1752.1 568.2,1751.6 569.0,1751.6C570.1,1751.6 571.1,1757.7 572.2,1762.6C573.3,1767.4 574.3,1778.7 575.4,1784.5C576.3,1789.9 577.3,1796.4 578.3,1797.9C579.3,1799.4 580.2,1799.7 581.2,1800.6 M674.4,1800.6C675.6,1797.5 676.8,1796.3 678.0,1791.3C679.3,1786.4 680.5,1768.7 681.7,1754.8C682.9,1740.8 684.1,1720.3 685.4,1706.0C686.6,1691.6 687.8,1673.3 689.0,1667.4C690.0,1662.8 691.0,1658.2 692.0,1658.2C692.8,1658.2 693.6,1661.6 694.4,1665.0C695.4,1669.4 696.5,1684.8 697.6,1693.8C698.8,1704.2 700.0,1714.2 701.2,1723.0C702.7,1733.7 704.1,1745.6 705.6,1752.3C707.0,1758.7 708.4,1767.0 709.8,1767.0C710.8,1767.0 711.9,1766.4 712.9,1765.7C714.3,1764.9 715.7,1760.0 717.1,1758.4C718.3,1757.0 719.5,1755.2 720.7,1755.2C722.0,1755.2 723.2,1759.0 724.4,1762.1C725.6,1765.2 726.8,1772.3 728.0,1776.7C729.5,1782.0 731.0,1787.8 732.4,1791.3C733.8,1794.7 735.2,1798.2 736.6,1799.1C737.8,1799.9 739.0,1800.1 740.2,1800.6" stroke="#1010f0"/>
<path d="M180.2,1802.3C182.1,1803.8 184.0,1805.3 185.9,1806.7C187.9,1808.2 189.9,1810.1 192.0,1810.9C193.6,1811.4 195.2,1812.1 196.8,1812.1C198.9,1812.1 200.9,1808.6 202.9,1807.2C205.0,1805.8 207.0,1803.5 209.0,1803.5C211.5,1803.5 213.9,1803.5 216.3,1803.5C218.8,1803.5 221.2,1803.9 223.7,1804.3C225.7,1804.6 227.7,1806.3 229.8,1807.2C231.4,1807.9 233.0,1809.1 234.6,1809.1C236.7,1809.1 238.7,1806.0 240.7,1806.0C243.2,1806.0 245.6,1806.0 248.0,1806.0C250.5,1806.0 252.9,1807.2 255.4,1807.2C257.8,1807.2 260.2,1805.5 262.7,1805.2C265.1,1805.0 267.6,1804.8 270.0,1804.8C272.4,1804.8 274.9,1806.9 277.3,1807.2C279.3,1807.5 281.4,1807.7 283.4,1807.7C285.4,1807.7 287.5,1805.2 289.5,1805.2C291.5,1805.2 293.6,1807.4 295.6,1808.4C297.6,1809.4 299.7,1811.3 301.7,1811.3C303.7,1811.3 305.8,1809.3 307.8,1808.4C310.2,1807.3 312.7,1805.5 315.1,1805.2C317.6,1805.0 320.0,1804.8 322.4,1804.8C324.5,1804.8 326.5,1806.0 328.5,1806.0C331.0,1806.0 333.4,1804.8 335.9,1804.8C337.5,1804.8 339.1,1805.8 340.7,1806.7C342.8,1807.9 344.8,1811.0 346.8,1813.3C348.9,1815.6 350.9,1818.7 352.9,1820.6C355.0,1822.6 357.0,1825.5 359.0,1825.5C360.2,1825.5 361.5,1825.2 362.7,1824.8C364.3,1824.2 365.9,1820.3 367.6,1818.2C369.2,1816.1 370.8,1813.1 372.4,1812.1C374.1,1811.1 375.7,1810.1 377.3,1810.1C379.3,1810.1 381.4,1812.7 383.4,1813.3C385.4,1813.9 387.5,1814.5 389.5,1814.5C391.1,1814.5 392.8,1811.9 394.4,1811.3C396.0,1810.8 397.6,1810.1 399.3,1810.1C400.9,1810.1 402.5,1812.1 404.1,1812.1C406.2,1812.1 408.2,1811.7 410.2,1811.3C411.8,1811.1 413.3,1810.6 414.9,1810.1C417.3,1809.3 419.8,1806.8 422.2,1806.5C424.2,1806.2 426.3,1806.0 428.3,1806.0C429.9,1806.0 431.5,1808.2 433.2,1808.9C434.2,1809.4 435.3,1810.1 436.3,1810.1C437.7,1810.1 439.1,1807.5 440.5,1807.0C442.5,1806.1 444.6,1805.2 446.6,1805.2C449.0,1805.2 451.5,1805.8 453.9,1806.0C456.3,1806.2 458.8,1806.5 461.2,1806.5C463.7,1806.5 466.1,1805.5 468.5,1805.2C471.8,1804.9 475.0,1804.7 478.3,1804.5C481.5,1804.3 484.8,1804.0 488.0,1804.0C490.5,1804.0 492.9,1804.7 495.4,1805.2C497.0,1805.6 498.6,1807.0 500.2,1807.0C501.9,1807.0 503.5,1804.9 505.1,1804.5C507.6,1804.0 510.0,1803.5 512.4,1803.5C515.7,1803.5 518.9,1803.5 522.2,1803.5C525.4,1803.5 528.7,1802.6 532.0,1802.3C536.8,1801.8 541.7,1801.4 546.6,1801.1C549.8,1800.9 553.1,1800.8 556.3,1800.6 M743.9,1800.6C745.0,1802.0 746.0,1802.5 747.1,1804.8C748.0,1806.9 749.0,1814.6 750.0,1823.0C751.0,1831.5 752.0,1850.1 752.9,1864.5C754.0,1880.1 755.0,1900.5 756.1,1913.3C757.2,1926.1 758.2,1940.2 759.3,1945.0C760.1,1948.7 760.9,1952.3 761.7,1952.3C762.5,1952.3 763.3,1950.1 764.1,1947.4C765.1,1944.3 766.1,1930.2 767.1,1920.6C768.3,1908.6 769.5,1891.0 770.7,1881.6C771.8,1873.4 772.8,1864.4 773.9,1862.1C774.5,1860.8 775.0,1859.6 775.6,1859.6C776.4,1859.6 777.2,1864.3 778.0,1869.4C779.1,1876.0 780.2,1904.2 781.2,1920.6C782.0,1933.2 782.8,1949.8 783.7,1957.2C784.5,1964.6 785.3,1973.0 786.1,1973.0C786.9,1973.0 787.7,1967.6 788.5,1962.1C789.3,1956.5 790.2,1935.9 791.0,1927.9C791.8,1920.0 792.6,1909.6 793.4,1909.6C794.2,1909.6 795.0,1915.0 795.9,1920.6C796.7,1926.2 797.5,1946.4 798.3,1957.2C799.1,1968.0 799.9,1978.7 800.7,1986.5C801.5,1994.3 802.4,2003.4 803.2,2006.0C804.0,2008.6 804.8,2010.9 805.6,2010.9C806.4,2010.9 807.2,2004.0 808.0,1996.2C808.9,1988.4 809.7,1957.6 810.5,1937.7C811.5,1913.8 812.4,1884.0 813.4,1864.5C814.4,1845.0 815.4,1823.7 816.3,1815.7C817.2,1809.1 818.0,1803.5 818.8,1802.3C819.4,1801.4 820.1,1801.2 820.7,1800.6 M842.7,1800.6C843.7,1802.8 844.6,1803.9 845.6,1807.2C846.7,1810.8 847.7,1820.6 848.8,1830.4C850.0,1841.6 851.2,1860.9 852.4,1876.7C853.7,1892.6 854.9,1912.7 856.1,1925.5C857.3,1938.3 858.5,1953.9 859.8,1957.2C860.7,1959.9 861.7,1962.1 862.7,1962.1C864.0,1962.1 865.3,1954.3 866.6,1954.3C867.6,1954.3 868.5,1959.8 869.5,1962.1C870.5,1964.4 871.5,1968.2 872.4,1968.2C873.3,1968.2 874.1,1965.3 874.9,1962.1C875.9,1957.8 877.0,1939.4 878.0,1925.5C879.3,1909.5 880.5,1885.3 881.7,1869.4C882.9,1853.5 884.1,1836.8 885.4,1827.9C886.6,1819.1 887.8,1812.3 889.0,1808.4C890.0,1805.3 891.0,1802.4 892.0,1801.6C892.6,1801.1 893.3,1800.9 893.9,1800.6" stroke="#1010f0"/>
<path d="M181.0,1800.5C430.0,1800.5 679.1,1800.5 928.1,1800.5C928.6,1800.5 929.1,1799.8 929.6,1798.9C930.1,1798.0 930.7,1793.3 931.2,1790.2C932.0,1785.5 932.8,1779.9 933.6,1774.7C934.5,1768.7 935.5,1762.7 936.4,1756.6C936.8,1754.0 937.2,1748.8 937.6,1748.8C938.0,1748.8 938.4,1754.0 938.8,1756.6C939.7,1762.7 940.7,1768.7 941.6,1774.7C942.4,1779.9 943.2,1785.5 944.0,1790.2C944.5,1793.3 945.1,1798.0 945.6,1798.9C946.1,1799.8 946.6,1800.5 947.1,1800.5C968.7,1800.5 990.4,1800.5 1012.0,1800.5" stroke="#10f010" stroke-width="3.0"/>
<path d="M181.0,1800.5C430.0,1800.5 679.1,1800.5 928.1,1800.5C928.6,1800.5 929.1,1801.2 929.6,1802.0C930.1,1802.9 930.7,1807.7 931.2,1810.8C932.0,1815.5 932.8,1821.1 933.6,1826.2C934.5,1832.2 935.5,1838.1 936.4,1844.1C936.8,1846.7 937.2,1851.8 937.6,1851.8C938.0,1851.8 938.4,1846.7 938.8,1844.1C939.7,1838.1 940.7,1832.2 941.6,1826.2C942.4,1821.1 943.2,1815.5 944.0,1810.8C944.5,1807.7 945.1,1802.9 945.6,1802.0C946.1,1801.2 946.6,1800.5 947.1,1800.5C968.7,1800.5 990.4,1800.5 1012.0,1800.5" stroke="#10f010" stroke-width="3.0"/>
<path d="" stroke="#1010f0"/>
</g>
<g stroke="#111" stroke-width="3.0" fill="none" stroke-linecap="butt">
<rect x="180.4" y="7.6" width="828.9" height="1990.2"/>
<line x1="180.4" y1="405.2" x2="1009.3" y2="405.2" stroke-width="4.0"/>
<line x1="180.4" y1="803.7" x2="1009.3" y2="803.7" stroke-width="4.0"/>
<line x1="180.4" y1="1202.2" x2="1009.3" y2="1202.2" stroke-width="4.0"/>
<line x1="180.4" y1="1601.0" x2="1009.3" y2="1601.0" stroke-width="4.0"/>
</g>
<line x1="594.6" y1="2" x2="594.6" y2="1997" stroke="#b0b0b0" stroke-width="2.2" stroke-dasharray="16 13.4 3 14.4" stroke-dashoffset="-5.5"/>
<g font-size="37" fill="#000" text-anchor="end">
<text transform="translate(166.5,77.3) scale(1,1.04)">12</text>
<text transform="translate(166.5,147.1) scale(1,1.04)">6</text>
<text transform="translate(166.5,216.9) scale(1,1.04)">0</text>
<text transform="translate(166.5,286.7) scale(1,1.04)">-6</text>
<text transform="translate(166.5,356.5) scale(1,1.04)">-12</text>
<text transform="translate(166.5,436.9) scale(1,1.04)">45</text>
<text transform="translate(166.5,496.3) scale(1,1.04)">30</text>
<text transform="translate(166.5,555.8) scale(1,1.04)">15</text>
<text transform="translate(166.5,615.2) scale(1,1.04)">0</text>
<text transform="translate(166.5,674.6) scale(1,1.04)">-15</text>
<text transform="translate(166.5,734.1) scale(1,1.04)">-30</text>
<text transform="translate(166.5,793.5) scale(1,1.04)">-45</text>
<text transform="translate(166.5,835.5) scale(1,1.04)">45</text>
<text transform="translate(166.5,894.9) scale(1,1.04)">30</text>
<text transform="translate(166.5,954.3) scale(1,1.04)">15</text>
<text transform="translate(166.5,1013.7) scale(1,1.04)">0</text>
<text transform="translate(166.5,1073.1) scale(1,1.04)">-15</text>
<text transform="translate(166.5,1132.5) scale(1,1.04)">-30</text>
<text transform="translate(166.5,1191.9) scale(1,1.04)">-45</text>
<text transform="translate(166.5,1234.4) scale(1,1.04)">45</text>
<text transform="translate(166.5,1293.8) scale(1,1.04)">30</text>
<text transform="translate(166.5,1353.3) scale(1,1.04)">15</text>
<text transform="translate(166.5,1412.7) scale(1,1.04)">0</text>
<text transform="translate(166.5,1472.1) scale(1,1.04)">-15</text>
<text transform="translate(166.5,1531.6) scale(1,1.04)">-30</text>
<text transform="translate(166.5,1591.0) scale(1,1.04)">-45</text>
<text transform="translate(166.5,1633.2) scale(1,1.04)">45</text>
<text transform="translate(166.5,1692.6) scale(1,1.04)">30</text>
<text transform="translate(166.5,1752.1) scale(1,1.04)">15</text>
<text transform="translate(166.5,1811.5) scale(1,1.04)">0</text>
<text transform="translate(166.5,1870.9) scale(1,1.04)">-15</text>
<text transform="translate(166.5,1930.4) scale(1,1.04)">-30</text>
<text transform="translate(166.5,1989.8) scale(1,1.04)">-45</text>
</g>
<g font-size="40" fill="#000" text-anchor="middle">
<text transform="translate(178.8,2038.3) scale(1,1.04)">-4</text>
<text transform="translate(385.5,2038.3) scale(1,1.04)">-2</text>
<text transform="translate(594.6,2038.3) scale(1,1.04)">0</text>
<text transform="translate(802.7,2038.3) scale(1,1.04)">2</text>
<text transform="translate(1006.8,2038.3) scale(1,1.04)">4</text>
</g>
<text transform="translate(432.8,2137.2) scale(1,1.04)" font-size="78.7" fill="#000">Energy (eV)</text>
<text transform="translate(63.9,1451.5) rotate(-90) scale(1,1.04)" font-size="77.3" fill="#000">DOS (States/eV,</text>
<text transform="translate(63.9,855.2) rotate(-90) scale(1,1.04)" font-size="78" fill="#000">unit cell)</text>
<g font-size="43.5" fill="#000">
<text transform="translate(704.3,56) scale(1,1.04)">Spin-up</text>
<text transform="translate(704.9,452.6) scale(1,1.04)">Spin-up</text>
<text transform="translate(704.9,859.8) scale(1,1.04)">Spin-up</text>
<text transform="translate(704.3,1256.2) scale(1,1.04)">Spin-up</text>
<text transform="translate(704.3,1656.3) scale(1,1.04)">Spin-up</text>
<text transform="translate(217.1,376.9) scale(1,1.04)">Spin-down</text>
<text transform="translate(217.1,778.2) scale(1,1.04)">Spin-down</text>
<text transform="translate(217.1,1187.6) scale(1,1.04)">Spin-down</text>
<text transform="translate(217.1,1578.2) scale(1,1.04)">Spin-down</text>
<text transform="translate(217.1,1964.1) scale(1,1.04)">Spin-down</text>
</g>
<g font-size="24.6" fill="#000" stroke="#000" stroke-width="0.35">
<line x1="875.2" y1="30.2" x2="931.6" y2="30.2" stroke="#111" stroke-width="2.8"/>
<text transform="translate(938.6,38.1) scale(1,1.04)">Total</text>
<line x1="875.2" y1="60.5" x2="931.6" y2="60.5" stroke="#f01818" stroke-width="2.8"/>
<text transform="translate(938.6,68.4) scale(1,1.04)">I</text>
<line x1="875.2" y1="90.5" x2="931.6" y2="90.5" stroke="#1818f0" stroke-width="2.8"/>
<text transform="translate(938.6,98.4) scale(1,1.04)">Cr</text>
<line x1="846.8" y1="425.1" x2="902.3" y2="425.1" stroke="#111" stroke-width="2.8"/>
<text transform="translate(909.2,433.0) scale(1,1.04)">Total</text>
<line x1="846.8" y1="455" x2="902.3" y2="455" stroke="#f01818" stroke-width="2.8"/>
<text transform="translate(909.2,462.9) scale(1,1.04)">I</text>
<line x1="846.8" y1="485.2" x2="902.3" y2="485.2" stroke="#1818f0" stroke-width="2.8"/>
<text transform="translate(909.2,493.1) scale(1,1.04)">Cr</text>
<line x1="846.8" y1="515.6" x2="902.3" y2="515.6" stroke="#00e8e8" stroke-width="2.8"/>
<text transform="translate(909.2,523.5) scale(1,1.04)">C</text>
<line x1="846.8" y1="545.9" x2="902.3" y2="545.9" stroke="#ff10ff" stroke-width="2.8"/>
<text transform="translate(909.2,553.8) scale(1,1.04)">O</text>
<line x1="880.5" y1="829.3" x2="935.7" y2="829.3" stroke="#111" stroke-width="2.8"/>
<text transform="translate(942.5,837.2) scale(1,1.04)">Total</text>
<line x1="880.5" y1="859" x2="935.7" y2="859" stroke="#f01818" stroke-width="2.8"/>
<text transform="translate(942.5,866.9) scale(1,1.04)">I</text>
<line x1="880.5" y1="889" x2="935.7" y2="889" stroke="#1818f0" stroke-width="2.8"/>
<text transform="translate(942.5,896.9) scale(1,1.04)">Cr</text>
<line x1="880.5" y1="919.4" x2="935.7" y2="919.4" stroke="#ffff00" stroke-width="2.8"/>
<text transform="translate(942.5,927.3) scale(1,1.04)">H</text>
<line x1="877.3" y1="1233" x2="933" y2="1233" stroke="#111" stroke-width="2.8"/>
<text transform="translate(939.8,1240.9) scale(1,1.04)">Total</text>
<line x1="877.3" y1="1263" x2="933" y2="1263" stroke="#f01818" stroke-width="2.8"/>
<text transform="translate(939.8,1270.9) scale(1,1.04)">I</text>
<line x1="877.3" y1="1292.7" x2="933" y2="1292.7" stroke="#1818f0" stroke-width="2.8"/>
<text transform="translate(939.8,1300.6) scale(1,1.04)">Cr</text>
<line x1="877.3" y1="1323.2" x2="933" y2="1323.2" stroke="#ff10ff" stroke-width="2.8"/>
<text transform="translate(939.8,1331.1) scale(1,1.04)">O</text>
<line x1="877.3" y1="1353.7" x2="933" y2="1353.7" stroke="#ffff00" stroke-width="2.8"/>
<text transform="translate(939.8,1361.6) scale(1,1.04)">H</text>
<line x1="880.5" y1="1626.7" x2="935.7" y2="1626.7" stroke="#111" stroke-width="2.8"/>
<text transform="translate(942.5,1634.6) scale(1,1.04)">Total</text>
<line x1="880.5" y1="1656" x2="935.7" y2="1656" stroke="#f01818" stroke-width="2.8"/>
<text transform="translate(942.5,1663.9) scale(1,1.04)">I</text>
<line x1="880.5" y1="1686.5" x2="935.7" y2="1686.5" stroke="#1818f0" stroke-width="2.8"/>
<text transform="translate(942.5,1694.4) scale(1,1.04)">Cr</text>
<line x1="880.5" y1="1716.6" x2="935.7" y2="1716.6" stroke="#10f010" stroke-width="2.8"/>
<text transform="translate(942.5,1724.5) scale(1,1.04)">N</text>
</g>
<rect x="199.4" y="432.5" width="65.8" height="49.7" fill="#8a8a00"/>
<text transform="translate(200.4,472.7) scale(1,1.04)" font-size="44" fill="#fffff0">CO</text>
<rect x="208.2" y="831.8" width="47.2" height="48.8" fill="#8a8a00"/>
<text transform="translate(207.8,871.4) scale(1,1.04)" font-size="44" fill="#fffff0">H</text><text transform="translate(239.3,878.9) scale(1,1.04)" font-size="28.5" fill="#fffff0">2</text>
<rect x="192" y="1225.4" width="79.8" height="49.8" fill="#8a8a00"/>
<text transform="translate(191.3,1266.1) scale(1,1.04)" font-size="44" fill="#fffff0">H</text><text transform="translate(221.8,1273.9) scale(1,1.04)" font-size="28.5" fill="#fffff0">2</text><text transform="translate(237.9,1266.1) scale(1,1.04)" font-size="44" fill="#fffff0">O</text>
<rect x="208.2" y="1620.4" width="47.2" height="50.5" fill="#8a8a00"/>
<text transform="translate(207.8,1661.4) scale(1,1.04)" font-size="44" fill="#fffff0">N</text><text transform="translate(239.3,1668.4) scale(1,1.04)" font-size="28.5" fill="#fffff0">2</text>
</svg>
</body></html>
